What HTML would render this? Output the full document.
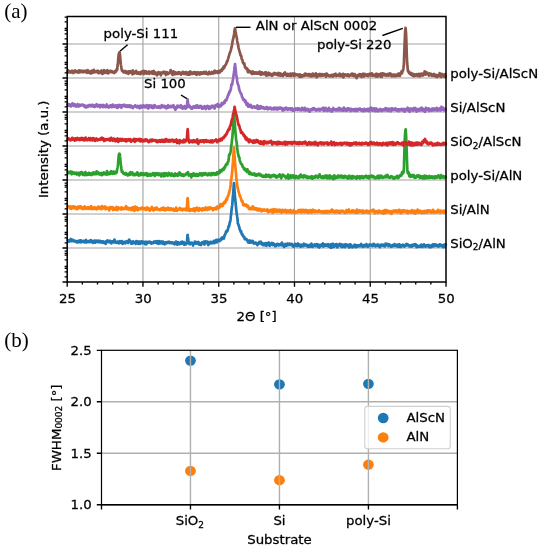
<!DOCTYPE html><html><head><meta charset="utf-8"><style>html,body{margin:0;padding:0;background:#fff;}svg{display:block;}svg text{stroke:#000;stroke-width:0.28px;}</style></head><body>
<svg width="540" height="550" viewBox="0 0 540 550" font-family="'DejaVu Sans', 'Liberation Sans', sans-serif" font-size="13.33">
<rect width="540" height="550" fill="#fff"/>
<text x="4.2" y="18.2" font-family="'Liberation Serif', 'DejaVu Serif', serif" font-size="21" style="stroke-width:0">(a)</text>
<text x="4.2" y="346.9" font-family="'Liberation Serif', 'DejaVu Serif', serif" font-size="21" style="stroke-width:0">(b)</text>
<path d="M142.96 16.5V282.0M218.72 16.5V282.0M294.48 16.5V282.0M370.24 16.5V282.0M67.2 248.00H446.0M67.2 214.00H446.0M67.2 180.00H446.0M67.2 146.00H446.0M67.2 112.00H446.0M67.2 78.00H446.0M67.2 44.00H446.0" stroke="#a2a2a2" stroke-width="1.1" fill="none"/>
<polyline points="67.2,241.2 67.4,241.1 67.6,240.7 67.8,240.4 68.0,240.1 68.1,240.5 68.3,241.3 68.5,241.5 68.7,241.2 68.9,240.9 69.1,241.2 69.3,241.6 69.5,240.9 69.7,240.8 69.9,241.0 70.0,240.9 70.2,240.7 70.4,239.6 70.6,239.6 70.8,239.0 71.0,239.7 71.2,239.7 71.4,240.7 71.6,240.8 71.7,241.3 71.9,240.1 72.1,239.8 72.3,239.9 72.5,241.0 72.7,240.6 72.9,240.4 73.1,240.0 73.3,240.3 73.5,240.9 73.6,241.0 73.8,241.4 74.0,241.3 74.2,241.4 74.4,241.4 74.6,241.0 74.8,241.3 75.0,240.8 75.2,240.8 75.3,241.4 75.5,241.3 75.7,241.6 75.9,241.1 76.1,241.5 76.3,242.0 76.5,242.3 76.7,242.0 76.9,241.2 77.0,241.1 77.2,241.6 77.4,241.8 77.6,241.6 77.8,241.9 78.0,242.3 78.2,242.0 78.4,241.8 78.6,241.0 78.8,241.3 78.9,240.7 79.1,240.7 79.3,240.6 79.5,241.5 79.7,242.2 79.9,241.7 80.1,241.0 80.3,240.8 80.5,240.5 80.6,240.7 80.8,240.3 81.0,241.8 81.2,242.3 81.4,242.2 81.6,241.5 81.8,241.1 82.0,241.9 82.2,241.9 82.4,241.8 82.5,241.3 82.7,241.5 82.9,241.5 83.1,240.9 83.3,240.9 83.5,240.8 83.7,241.8 83.9,242.1 84.1,242.3 84.2,242.1 84.4,241.7 84.6,242.2 84.8,241.9 85.0,242.3 85.2,241.3 85.4,241.4 85.6,240.4 85.8,240.1 86.0,239.8 86.1,240.2 86.3,241.2 86.5,242.3 86.7,242.3 86.9,242.0 87.1,241.1 87.3,241.7 87.5,241.9 87.7,241.7 87.8,241.8 88.0,242.1 88.2,241.7 88.4,241.4 88.6,241.2 88.8,241.2 89.0,241.3 89.2,241.0 89.4,241.8 89.5,241.8 89.7,242.2 89.9,241.6 90.1,241.4 90.3,240.5 90.5,240.3 90.7,240.5 90.9,240.5 91.1,241.3 91.3,240.4 91.4,241.7 91.6,240.9 91.8,242.0 92.0,241.8 92.2,241.5 92.4,241.7 92.6,242.2 92.8,242.9 93.0,242.2 93.1,241.5 93.3,241.1 93.5,241.7 93.7,241.6 93.9,242.0 94.1,241.2 94.3,241.1 94.5,240.6 94.7,241.5 94.9,241.7 95.0,242.7 95.2,242.1 95.4,241.9 95.6,241.4 95.8,241.1 96.0,241.4 96.2,241.4 96.4,241.5 96.6,240.9 96.7,240.7 96.9,241.6 97.1,241.9 97.3,241.8 97.5,241.2 97.7,242.1 97.9,242.0 98.1,241.7 98.3,240.8 98.5,240.7 98.6,241.1 98.8,241.4 99.0,242.2 99.2,241.6 99.4,241.8 99.6,241.5 99.8,241.8 100.0,241.1 100.2,240.8 100.3,241.5 100.5,241.7 100.7,242.4 100.9,241.8 101.1,241.8 101.3,241.5 101.5,241.8 101.7,241.8 101.9,242.0 102.0,241.7 102.2,242.4 102.4,242.7 102.6,242.9 102.8,242.1 103.0,241.3 103.2,241.5 103.4,242.2 103.6,242.7 103.8,242.5 103.9,242.5 104.1,242.9 104.3,243.1 104.5,242.5 104.7,242.8 104.9,241.9 105.1,242.5 105.3,242.0 105.5,242.9 105.6,243.4 105.8,243.8 106.0,242.9 106.2,241.4 106.4,241.1 106.6,241.2 106.8,241.9 107.0,241.9 107.2,241.7 107.4,240.7 107.5,240.5 107.7,241.2 107.9,242.0 108.1,242.0 108.3,241.6 108.5,241.0 108.7,240.9 108.9,240.9 109.1,240.8 109.2,241.1 109.4,241.5 109.6,242.4 109.8,241.8 110.0,241.5 110.2,240.9 110.4,241.0 110.6,241.3 110.8,241.4 111.0,242.0 111.1,242.0 111.3,243.3 111.5,242.5 111.7,242.7 111.9,241.8 112.1,242.4 112.3,241.4 112.5,241.3 112.7,241.6 112.8,242.2 113.0,242.4 113.2,242.0 113.4,242.5 113.6,242.5 113.8,241.7 114.0,240.9 114.2,240.0 114.4,239.6 114.5,239.6 114.7,241.1 114.9,242.5 115.1,242.2 115.3,241.3 115.5,241.7 115.7,242.3 115.9,242.7 116.1,242.2 116.3,242.2 116.4,242.5 116.6,242.8 116.8,242.9 117.0,242.1 117.2,242.1 117.4,241.7 117.6,242.6 117.8,241.8 118.0,242.1 118.1,241.6 118.3,241.6 118.5,242.4 118.7,243.0 118.9,243.4 119.1,243.0 119.3,242.5 119.5,241.6 119.7,241.4 119.9,241.2 120.0,242.4 120.2,241.8 120.4,241.7 120.6,241.6 120.8,242.6 121.0,242.8 121.2,242.9 121.4,243.1 121.6,242.7 121.7,242.5 121.9,241.1 122.1,242.0 122.3,242.6 122.5,243.8 122.7,243.4 122.9,243.0 123.1,242.7 123.3,242.3 123.5,242.2 123.6,242.1 123.8,242.9 124.0,243.2 124.2,243.2 124.4,242.3 124.6,241.8 124.8,242.5 125.0,243.0 125.2,243.3 125.3,242.4 125.5,241.7 125.7,241.7 125.9,242.2 126.1,242.5 126.3,242.5 126.5,242.0 126.7,242.2 126.9,241.6 127.1,241.6 127.2,241.2 127.4,242.3 127.6,242.1 127.8,242.7 128.0,242.9 128.2,243.0 128.4,242.3 128.6,241.4 128.8,241.0 128.9,240.1 129.1,239.7 129.3,240.4 129.5,240.9 129.7,241.2 129.9,240.5 130.1,241.3 130.3,241.2 130.5,241.4 130.6,241.9 130.8,242.1 131.0,243.1 131.2,243.2 131.4,243.7 131.6,243.5 131.8,243.6 132.0,243.4 132.2,243.0 132.4,241.5 132.5,241.6 132.7,242.5 132.9,243.5 133.1,243.1 133.3,242.1 133.5,241.5 133.7,242.0 133.9,242.3 134.1,242.6 134.2,242.6 134.4,242.6 134.6,242.5 134.8,242.4 135.0,242.5 135.2,242.8 135.4,243.5 135.6,243.8 135.8,243.6 136.0,242.1 136.1,242.0 136.3,241.1 136.5,241.2 136.7,241.4 136.9,242.6 137.1,243.1 137.3,242.0 137.5,241.6 137.7,241.4 137.8,242.4 138.0,243.5 138.2,243.9 138.4,243.3 138.6,241.8 138.8,241.7 139.0,242.0 139.2,242.0 139.4,242.1 139.6,241.6 139.7,242.6 139.9,243.0 140.1,244.0 140.3,243.3 140.5,243.1 140.7,242.6 140.9,242.6 141.1,242.2 141.3,241.7 141.4,241.3 141.6,241.8 141.8,242.3 142.0,243.0 142.2,243.1 142.4,242.4 142.6,242.0 142.8,241.6 143.0,242.5 143.1,242.7 143.3,243.1 143.5,243.0 143.7,242.7 143.9,241.8 144.1,242.1 144.3,242.8 144.5,242.4 144.7,242.6 144.9,242.7 145.0,244.1 145.2,243.4 145.4,243.0 145.6,241.9 145.8,243.2 146.0,243.2 146.2,244.4 146.4,243.0 146.6,243.2 146.7,241.8 146.9,241.9 147.1,242.2 147.3,242.4 147.5,243.1 147.7,242.8 147.9,242.9 148.1,242.2 148.3,241.9 148.5,242.3 148.6,242.3 148.8,242.1 149.0,242.0 149.2,241.8 149.4,241.6 149.6,241.7 149.8,242.6 150.0,242.5 150.2,242.5 150.3,241.8 150.5,242.1 150.7,242.4 150.9,242.5 151.1,243.6 151.3,242.9 151.5,243.3 151.7,242.5 151.9,242.5 152.1,242.6 152.2,242.7 152.4,243.2 152.6,243.0 152.8,242.6 153.0,242.3 153.2,242.3 153.4,243.2 153.6,242.9 153.8,242.8 153.9,241.7 154.1,242.3 154.3,241.9 154.5,241.9 154.7,241.6 154.9,242.5 155.1,242.6 155.3,242.2 155.5,241.4 155.6,241.6 155.8,242.2 156.0,242.2 156.2,242.4 156.4,242.4 156.6,242.5 156.8,243.0 157.0,242.3 157.2,242.1 157.4,241.1 157.5,242.4 157.7,242.7 157.9,243.7 158.1,242.8 158.3,243.0 158.5,243.0 158.7,243.8 158.9,243.3 159.1,242.6 159.2,241.3 159.4,241.2 159.6,242.2 159.8,243.0 160.0,243.2 160.2,242.3 160.4,241.7 160.6,242.8 160.8,242.2 161.0,242.5 161.1,241.5 161.3,243.1 161.5,242.5 161.7,242.8 161.9,241.7 162.1,241.7 162.3,242.5 162.5,243.5 162.7,243.7 162.8,242.8 163.0,241.6 163.2,241.6 163.4,242.0 163.6,242.7 163.8,242.9 164.0,242.4 164.2,242.4 164.4,242.4 164.6,243.5 164.7,244.3 164.9,244.3 165.1,243.4 165.3,242.6 165.5,242.4 165.7,242.4 165.9,242.4 166.1,242.2 166.3,242.8 166.4,242.8 166.6,243.3 166.8,243.0 167.0,242.7 167.2,242.2 167.4,242.2 167.6,242.3 167.8,242.8 168.0,242.9 168.2,242.5 168.3,242.5 168.5,241.9 168.7,242.2 168.9,242.1 169.1,241.7 169.3,242.1 169.5,242.3 169.7,243.1 169.9,242.9 170.0,242.6 170.2,242.3 170.4,242.4 170.6,242.3 170.8,242.7 171.0,242.3 171.2,242.7 171.4,242.7 171.6,243.2 171.7,242.9 171.9,243.1 172.1,242.4 172.3,242.8 172.5,242.7 172.7,243.5 172.9,243.5 173.1,243.1 173.3,242.9 173.5,243.0 173.6,243.5 173.8,243.7 174.0,242.7 174.2,242.8 174.4,243.2 174.6,244.3 174.8,244.2 175.0,243.0 175.2,243.0 175.3,242.8 175.5,242.4 175.7,242.1 175.9,241.6 176.1,242.1 176.3,241.7 176.5,242.9 176.7,243.3 176.9,243.7 177.1,243.9 177.2,244.7 177.4,244.6 177.6,243.7 177.8,242.5 178.0,242.2 178.2,242.5 178.4,243.2 178.6,243.6 178.8,243.8 178.9,243.3 179.1,243.2 179.3,243.1 179.5,243.7 179.7,244.2 179.9,244.1 180.1,243.7 180.3,243.4 180.5,242.8 180.7,242.2 180.8,242.3 181.0,242.7 181.2,243.6 181.4,242.6 181.6,242.4 181.8,242.0 182.0,242.4 182.2,241.6 182.4,241.7 182.5,242.5 182.7,243.6 182.9,243.5 183.1,243.1 183.3,243.3 183.5,242.3 183.7,242.3 183.9,242.2 184.1,243.7 184.2,244.5 184.4,244.7 184.6,244.6 184.8,244.0 185.0,243.8 185.2,243.5 185.4,243.3 185.6,243.4 185.8,244.5 186.0,244.4 186.1,244.0 186.3,243.2 186.5,243.7 186.7,243.3 186.9,242.9 187.1,240.0 187.3,237.6 187.5,235.0 187.7,234.9 187.8,236.2 188.0,237.6 188.2,239.2 188.4,240.8 188.6,242.2 188.8,242.3 189.0,242.7 189.2,243.2 189.4,244.1 189.6,243.5 189.7,243.7 189.9,243.4 190.1,244.1 190.3,243.2 190.5,243.0 190.7,242.6 190.9,242.7 191.1,243.3 191.3,243.4 191.4,243.3 191.6,243.0 191.8,242.7 192.0,243.5 192.2,243.2 192.4,243.2 192.6,243.3 192.8,244.6 193.0,245.6 193.2,245.1 193.3,244.2 193.5,244.0 193.7,243.9 193.9,243.4 194.1,242.8 194.3,243.1 194.5,243.1 194.7,242.4 194.9,241.5 195.0,242.2 195.2,242.6 195.4,243.1 195.6,242.9 195.8,243.5 196.0,243.4 196.2,243.6 196.4,242.9 196.6,242.9 196.7,242.2 196.9,243.1 197.1,243.3 197.3,243.4 197.5,242.7 197.7,242.6 197.9,243.3 198.1,242.7 198.3,242.4 198.5,241.9 198.6,243.7 198.8,244.5 199.0,244.6 199.2,243.9 199.4,244.3 199.6,244.3 199.8,243.8 200.0,243.4 200.2,243.7 200.3,244.2 200.5,243.4 200.7,244.1 200.9,244.5 201.1,245.0 201.3,244.4 201.5,242.8 201.7,242.8 201.9,242.4 202.1,243.5 202.2,243.5 202.4,243.4 202.6,242.5 202.8,242.4 203.0,242.2 203.2,242.8 203.4,242.3 203.6,242.5 203.8,241.7 203.9,242.4 204.1,242.7 204.3,244.2 204.5,244.5 204.7,244.4 204.9,243.1 205.1,241.8 205.3,241.3 205.5,241.9 205.7,242.3 205.8,241.9 206.0,242.3 206.2,241.6 206.4,242.6 206.6,242.3 206.8,242.9 207.0,242.7 207.2,242.5 207.4,242.3 207.5,241.6 207.7,241.8 207.9,242.9 208.1,244.5 208.3,245.0 208.5,244.5 208.7,243.4 208.9,243.4 209.1,243.0 209.2,243.3 209.4,242.5 209.6,242.6 209.8,242.4 210.0,242.5 210.2,241.9 210.4,241.9 210.6,242.9 210.8,243.4 211.0,243.4 211.1,242.6 211.3,242.9 211.5,242.5 211.7,242.2 211.9,242.3 212.1,242.8 212.3,242.9 212.5,243.2 212.7,242.7 212.8,242.7 213.0,241.8 213.2,242.7 213.4,241.8 213.6,241.7 213.8,240.8 214.0,241.9 214.2,242.4 214.4,243.2 214.6,242.2 214.7,242.2 214.9,241.4 215.1,241.8 215.3,241.6 215.5,241.3 215.7,240.7 215.9,240.2 216.1,239.9 216.3,240.5 216.4,240.8 216.6,241.5 216.8,242.4 217.0,242.1 217.2,241.2 217.4,240.1 217.6,239.8 217.8,239.8 218.0,240.3 218.2,240.3 218.3,239.9 218.5,239.9 218.7,240.1 218.9,241.0 219.1,240.7 219.3,240.9 219.5,240.6 219.7,241.0 219.9,240.8 220.0,240.9 220.2,240.4 220.4,239.5 220.6,239.1 220.8,238.7 221.0,239.3 221.2,238.6 221.4,239.4 221.6,239.3 221.8,239.3 221.9,237.8 222.1,237.5 222.3,237.9 222.5,238.2 222.7,238.2 222.9,237.7 223.1,238.1 223.3,237.5 223.5,237.6 223.6,237.5 223.8,238.6 224.0,237.9 224.2,237.1 224.4,235.3 224.6,235.8 224.8,235.2 225.0,235.0 225.2,234.3 225.3,234.0 225.5,233.5 225.7,233.0 225.9,232.1 226.1,231.6 226.3,231.2 226.5,231.8 226.7,231.9 226.9,231.0 227.1,230.4 227.2,230.4 227.4,230.9 227.6,230.6 227.8,229.4 228.0,228.9 228.2,228.1 228.4,227.4 228.6,226.2 228.8,226.4 228.9,226.2 229.1,226.3 229.3,224.8 229.5,224.2 229.7,222.7 229.9,222.0 230.1,221.7 230.3,221.2 230.5,219.9 230.7,217.7 230.8,216.1 231.0,215.3 231.2,213.6 231.4,211.4 231.6,209.3 231.8,207.8 232.0,206.6 232.2,205.2 232.4,203.3 232.5,201.4 232.7,198.5 232.9,196.4 233.1,194.2 233.3,192.1 233.5,189.1 233.7,185.9 233.9,183.1 234.1,183.4 234.3,186.3 234.4,188.9 234.6,192.0 234.8,194.5 235.0,196.8 235.2,198.8 235.4,201.2 235.6,203.1 235.8,204.9 236.0,206.7 236.1,208.7 236.3,210.4 236.5,212.0 236.7,213.5 236.9,214.9 237.1,216.5 237.3,217.2 237.5,219.3 237.7,221.2 237.8,223.4 238.0,223.8 238.2,224.1 238.4,224.2 238.6,225.1 238.8,226.1 239.0,226.3 239.2,227.4 239.4,227.4 239.6,229.1 239.7,229.4 239.9,229.7 240.1,229.8 240.3,230.5 240.5,231.2 240.7,231.8 240.9,231.7 241.1,231.2 241.3,231.7 241.4,232.6 241.6,233.9 241.8,233.9 242.0,234.5 242.2,234.6 242.4,234.6 242.6,234.4 242.8,235.5 243.0,235.5 243.2,236.4 243.3,236.0 243.5,236.4 243.7,236.8 243.9,237.3 244.1,237.5 244.3,237.0 244.5,237.7 244.7,239.0 244.9,239.2 245.0,239.2 245.2,239.1 245.4,239.2 245.6,239.3 245.8,239.1 246.0,239.3 246.2,239.0 246.4,239.1 246.6,239.4 246.8,239.5 246.9,239.4 247.1,240.0 247.3,240.5 247.5,241.2 247.7,241.3 247.9,241.6 248.1,242.3 248.3,241.6 248.5,241.8 248.6,240.8 248.8,242.0 249.0,242.5 249.2,241.9 249.4,240.8 249.6,240.4 249.8,241.7 250.0,242.5 250.2,242.2 250.3,242.2 250.5,242.2 250.7,242.3 250.9,242.6 251.1,241.4 251.3,241.8 251.5,241.0 251.7,242.4 251.9,242.1 252.1,242.2 252.2,242.0 252.4,241.8 252.6,241.8 252.8,241.0 253.0,241.5 253.2,242.1 253.4,243.3 253.6,243.3 253.8,243.5 253.9,243.2 254.1,243.2 254.3,243.1 254.5,243.5 254.7,243.5 254.9,243.2 255.1,242.7 255.3,242.9 255.5,242.6 255.7,243.2 255.8,243.0 256.0,243.6 256.2,242.9 256.4,243.2 256.6,243.2 256.8,243.4 257.0,244.2 257.2,244.2 257.4,245.2 257.5,244.7 257.7,244.3 257.9,243.4 258.1,243.2 258.3,243.5 258.5,243.7 258.7,243.5 258.9,242.7 259.1,242.6 259.3,241.8 259.4,242.7 259.6,242.5 259.8,243.2 260.0,243.0 260.2,243.4 260.4,243.1 260.6,242.5 260.8,241.9 261.0,241.7 261.1,242.0 261.3,243.2 261.5,243.6 261.7,244.4 261.9,243.1 262.1,243.7 262.3,243.3 262.5,243.9 262.7,244.0 262.9,244.9 263.0,245.1 263.2,244.9 263.4,243.7 263.6,243.9 263.8,243.7 264.0,244.5 264.2,244.3 264.4,245.2 264.6,244.0 264.7,243.9 264.9,243.5 265.1,244.2 265.3,244.0 265.5,243.5 265.7,243.1 265.9,243.5 266.1,244.7 266.3,245.8 266.4,245.3 266.6,243.8 266.8,243.2 267.0,244.1 267.2,244.1 267.4,244.0 267.6,244.0 267.8,244.7 268.0,244.9 268.2,244.0 268.3,243.0 268.5,242.9 268.7,242.4 268.9,243.4 269.1,243.4 269.3,244.6 269.5,245.1 269.7,245.9 269.9,245.2 270.0,244.8 270.2,244.8 270.4,245.0 270.6,244.2 270.8,243.6 271.0,243.3 271.2,244.3 271.4,243.4 271.6,243.6 271.8,242.8 271.9,243.8 272.1,244.3 272.3,244.6 272.5,244.6 272.7,245.0 272.9,244.0 273.1,244.1 273.3,243.3 273.5,244.3 273.6,244.4 273.8,244.3 274.0,244.0 274.2,244.2 274.4,244.8 274.6,244.8 274.8,245.3 275.0,246.2 275.2,245.8 275.4,245.1 275.5,245.2 275.7,246.2 275.9,246.1 276.1,245.0 276.3,244.4 276.5,244.2 276.7,244.1 276.9,244.6 277.1,244.6 277.2,244.6 277.4,243.8 277.6,243.9 277.8,243.8 278.0,244.2 278.2,244.7 278.4,245.2 278.6,245.5 278.8,245.2 278.9,245.1 279.1,244.8 279.3,244.6 279.5,244.9 279.7,244.5 279.9,245.2 280.1,244.9 280.3,245.0 280.5,244.2 280.7,243.9 280.8,244.3 281.0,244.2 281.2,245.0 281.4,244.6 281.6,244.0 281.8,243.2 282.0,242.6 282.2,243.6 282.4,244.4 282.5,245.5 282.7,245.0 282.9,244.2 283.1,244.7 283.3,245.4 283.5,245.8 283.7,245.4 283.9,246.4 284.1,246.9 284.3,246.5 284.4,245.6 284.6,245.4 284.8,245.0 285.0,244.4 285.2,244.2 285.4,244.0 285.6,244.5 285.8,244.5 286.0,245.9 286.1,245.6 286.3,245.5 286.5,244.4 286.7,245.0 286.9,245.5 287.1,245.4 287.3,244.8 287.5,243.7 287.7,243.5 287.9,244.1 288.0,244.8 288.2,244.8 288.4,244.4 288.6,244.4 288.8,245.0 289.0,244.9 289.2,244.8 289.4,243.8 289.6,243.6 289.7,244.4 289.9,244.2 290.1,244.6 290.3,244.0 290.5,244.8 290.7,244.6 290.9,244.5 291.1,244.6 291.3,245.0 291.4,244.2 291.6,244.1 291.8,243.8 292.0,244.4 292.2,244.5 292.4,245.2 292.6,245.8 292.8,245.5 293.0,245.6 293.2,245.7 293.3,246.5 293.5,246.7 293.7,246.1 293.9,245.5 294.1,245.3 294.3,244.8 294.5,244.9 294.7,244.4 294.9,244.8 295.0,243.9 295.2,243.8 295.4,244.0 295.6,245.1 295.8,245.9 296.0,245.9 296.2,245.4 296.4,244.6 296.6,244.9 296.8,244.8 296.9,245.5 297.1,246.0 297.3,246.1 297.5,245.2 297.7,244.1 297.9,243.5 298.1,243.6 298.3,244.6 298.5,245.3 298.6,245.2 298.8,244.9 299.0,245.3 299.2,245.8 299.4,245.3 299.6,244.6 299.8,244.9 300.0,245.4 300.2,246.1 300.4,246.5 300.5,246.7 300.7,246.8 300.9,246.6 301.1,245.4 301.3,244.8 301.5,244.6 301.7,245.1 301.9,245.6 302.1,245.3 302.2,245.1 302.4,245.3 302.6,245.7 302.8,246.2 303.0,246.0 303.2,246.2 303.4,246.2 303.6,244.8 303.8,244.0 303.9,243.7 304.1,244.3 304.3,244.7 304.5,245.4 304.7,245.6 304.9,245.1 305.1,245.4 305.3,245.5 305.5,245.4 305.7,244.6 305.8,245.0 306.0,245.3 306.2,245.5 306.4,245.1 306.6,245.0 306.8,244.8 307.0,245.3 307.2,245.4 307.4,245.5 307.5,245.1 307.7,246.6 307.9,246.2 308.1,246.8 308.3,245.6 308.5,245.8 308.7,245.6 308.9,246.0 309.1,246.6 309.3,246.4 309.4,245.8 309.6,245.0 309.8,245.1 310.0,245.6 310.2,246.4 310.4,246.4 310.6,246.6 310.8,246.6 311.0,246.5 311.1,245.4 311.3,244.3 311.5,243.6 311.7,244.9 311.9,245.1 312.1,246.2 312.3,245.8 312.5,246.9 312.7,246.8 312.9,246.5 313.0,245.7 313.2,245.3 313.4,245.4 313.6,245.3 313.8,245.2 314.0,245.9 314.2,245.3 314.4,245.5 314.6,244.4 314.7,245.2 314.9,245.5 315.1,245.8 315.3,246.1 315.5,245.0 315.7,245.5 315.9,245.0 316.1,245.9 316.3,245.5 316.5,244.7 316.6,244.1 316.8,244.1 317.0,245.9 317.2,246.3 317.4,246.4 317.6,245.1 317.8,245.6 318.0,246.2 318.2,246.9 318.3,246.2 318.5,244.7 318.7,245.1 318.9,246.3 319.1,247.3 319.3,247.5 319.5,246.6 319.7,245.8 319.9,245.9 320.0,245.1 320.2,245.4 320.4,245.0 320.6,245.9 320.8,246.2 321.0,246.2 321.2,245.5 321.4,244.8 321.6,244.6 321.8,244.7 321.9,244.6 322.1,244.1 322.3,244.2 322.5,243.9 322.7,243.9 322.9,243.4 323.1,244.3 323.3,245.0 323.5,246.6 323.6,245.9 323.8,245.4 324.0,244.9 324.2,245.5 324.4,245.7 324.6,246.0 324.8,246.0 325.0,245.6 325.2,244.3 325.4,244.6 325.5,245.2 325.7,245.2 325.9,244.6 326.1,244.7 326.3,245.6 326.5,245.7 326.7,245.7 326.9,245.7 327.1,245.2 327.2,244.8 327.4,244.8 327.6,245.3 327.8,244.5 328.0,244.2 328.2,244.8 328.4,246.4 328.6,245.6 328.8,246.4 329.0,245.2 329.1,246.6 329.3,246.0 329.5,246.9 329.7,246.5 329.9,245.5 330.1,245.3 330.3,245.0 330.5,244.4 330.7,245.3 330.8,245.9 331.0,247.8 331.2,246.2 331.4,246.5 331.6,246.4 331.8,247.5 332.0,246.9 332.2,245.7 332.4,244.9 332.5,244.0 332.7,243.7 332.9,243.9 333.1,244.4 333.3,245.1 333.5,245.0 333.7,246.2 333.9,246.9 334.1,246.9 334.3,246.6 334.4,245.7 334.6,245.6 334.8,245.4 335.0,245.2 335.2,245.3 335.4,244.3 335.6,244.9 335.8,245.7 336.0,246.0 336.1,246.0 336.3,244.9 336.5,244.7 336.7,244.1 336.9,245.1 337.1,246.6 337.3,247.4 337.5,246.4 337.7,245.7 337.9,245.4 338.0,246.0 338.2,245.9 338.4,246.1 338.6,246.0 338.8,245.7 339.0,245.4 339.2,244.4 339.4,244.4 339.6,244.0 339.7,244.7 339.9,244.4 340.1,245.1 340.3,245.4 340.5,245.2 340.7,244.8 340.9,244.2 341.1,245.1 341.3,246.2 341.5,247.0 341.6,246.5 341.8,246.4 342.0,245.4 342.2,246.2 342.4,245.2 342.6,244.7 342.8,245.2 343.0,246.2 343.2,246.9 343.3,245.8 343.5,245.1 343.7,245.6 343.9,244.8 344.1,244.6 344.3,244.8 344.5,245.5 344.7,246.3 344.9,246.2 345.0,247.1 345.2,246.3 345.4,246.4 345.6,244.5 345.8,244.3 346.0,244.7 346.2,245.2 346.4,245.9 346.6,245.3 346.8,245.3 346.9,244.9 347.1,244.7 347.3,245.0 347.5,245.4 347.7,245.9 347.9,245.9 348.1,245.2 348.3,245.0 348.5,245.2 348.6,246.1 348.8,247.1 349.0,247.5 349.2,247.0 349.4,245.8 349.6,245.1 349.8,244.7 350.0,244.3 350.2,244.5 350.4,244.7 350.5,245.5 350.7,245.5 350.9,245.6 351.1,244.8 351.3,245.6 351.5,245.9 351.7,247.2 351.9,246.9 352.1,247.3 352.2,246.4 352.4,246.4 352.6,246.9 352.8,246.5 353.0,246.7 353.2,246.3 353.4,247.0 353.6,246.8 353.8,246.6 354.0,246.1 354.1,246.0 354.3,245.0 354.5,245.0 354.7,244.6 354.9,244.9 355.1,245.3 355.3,245.7 355.5,245.2 355.7,246.0 355.8,246.3 356.0,247.3 356.2,246.2 356.4,245.7 356.6,245.6 356.8,245.9 357.0,245.2 357.2,245.3 357.4,246.4 357.6,246.3 357.7,246.5 357.9,245.3 358.1,246.1 358.3,246.3 358.5,245.6 358.7,245.7 358.9,245.7 359.1,246.2 359.3,245.9 359.4,245.3 359.6,245.2 359.8,246.1 360.0,245.6 360.2,246.2 360.4,245.0 360.6,245.7 360.8,245.2 361.0,244.6 361.1,244.3 361.3,243.9 361.5,244.9 361.7,245.6 361.9,245.5 362.1,245.3 362.3,245.2 362.5,245.8 362.7,246.9 362.9,246.4 363.0,246.0 363.2,245.3 363.4,245.7 363.6,246.5 363.8,246.5 364.0,246.0 364.2,245.5 364.4,245.3 364.6,246.1 364.7,246.2 364.9,245.9 365.1,244.8 365.3,245.2 365.5,245.9 365.7,246.1 365.9,245.5 366.1,245.2 366.3,244.5 366.5,244.2 366.6,244.6 366.8,245.1 367.0,245.9 367.2,246.0 367.4,246.6 367.6,246.4 367.8,246.8 368.0,246.8 368.2,246.6 368.3,246.0 368.5,245.9 368.7,245.7 368.9,245.4 369.1,245.1 369.3,244.6 369.5,244.5 369.7,244.5 369.9,245.2 370.1,244.5 370.2,244.5 370.4,244.6 370.6,245.4 370.8,245.1 371.0,245.4 371.2,244.8 371.4,245.2 371.6,245.5 371.8,245.7 371.9,245.6 372.1,245.5 372.3,245.6 372.5,245.7 372.7,245.4 372.9,246.0 373.1,245.1 373.3,244.7 373.5,243.8 373.6,244.3 373.8,244.2 374.0,244.3 374.2,244.9 374.4,244.9 374.6,245.4 374.8,245.4 375.0,245.5 375.2,245.5 375.4,246.0 375.5,246.5 375.7,246.1 375.9,245.4 376.1,244.8 376.3,245.2 376.5,245.7 376.7,245.7 376.9,245.5 377.1,245.6 377.2,245.7 377.4,245.9 377.6,245.0 377.8,244.8 378.0,244.5 378.2,245.9 378.4,246.1 378.6,246.1 378.8,244.9 379.0,245.0 379.1,245.5 379.3,245.9 379.5,246.8 379.7,246.6 379.9,247.2 380.1,246.4 380.3,246.6 380.5,245.3 380.7,245.1 380.8,244.9 381.0,245.4 381.2,244.5 381.4,244.9 381.6,244.8 381.8,245.6 382.0,245.1 382.2,245.2 382.4,245.5 382.6,245.1 382.7,244.8 382.9,244.7 383.1,245.3 383.3,245.6 383.5,245.2 383.7,244.8 383.9,244.9 384.1,245.7 384.3,245.6 384.4,246.3 384.6,246.1 384.8,246.4 385.0,246.1 385.2,245.1 385.4,244.5 385.6,243.6 385.8,244.1 386.0,244.7 386.1,245.0 386.3,245.2 386.5,244.5 386.7,244.9 386.9,244.2 387.1,244.9 387.3,244.5 387.5,244.6 387.7,244.3 387.9,244.0 388.0,244.5 388.2,245.4 388.4,246.1 388.6,245.6 388.8,245.0 389.0,244.4 389.2,245.0 389.4,244.5 389.6,245.4 389.7,245.0 389.9,245.6 390.1,245.2 390.3,245.8 390.5,246.3 390.7,246.6 390.9,246.2 391.1,246.6 391.3,246.7 391.5,246.6 391.6,246.7 391.8,246.2 392.0,246.3 392.2,245.3 392.4,245.1 392.6,245.4 392.8,245.2 393.0,245.6 393.2,245.4 393.3,246.1 393.5,244.9 393.7,244.7 393.9,244.8 394.1,245.5 394.3,245.6 394.5,244.2 394.7,244.9 394.9,244.5 395.1,245.9 395.2,244.9 395.4,245.4 395.6,245.0 395.8,246.1 396.0,245.4 396.2,245.2 396.4,245.9 396.6,245.9 396.8,245.9 396.9,244.8 397.1,244.7 397.3,245.5 397.5,246.4 397.7,246.5 397.9,245.3 398.1,245.0 398.3,245.8 398.5,246.9 398.6,246.9 398.8,246.1 399.0,245.6 399.2,244.5 399.4,244.3 399.6,244.8 399.8,245.1 400.0,246.7 400.2,246.3 400.4,246.3 400.5,245.7 400.7,246.4 400.9,246.9 401.1,246.0 401.3,245.4 401.5,245.8 401.7,246.1 401.9,245.6 402.1,245.5 402.2,245.7 402.4,245.6 402.6,245.0 402.8,244.6 403.0,245.2 403.2,245.4 403.4,246.2 403.6,246.4 403.8,245.7 404.0,245.4 404.1,245.5 404.3,246.3 404.5,246.6 404.7,246.0 404.9,245.4 405.1,245.3 405.3,245.1 405.5,244.6 405.7,244.6 405.8,244.8 406.0,245.6 406.2,244.5 406.4,244.3 406.6,243.9 406.8,244.3 407.0,245.1 407.2,244.6 407.4,245.1 407.6,244.4 407.7,244.9 407.9,244.9 408.1,245.4 408.3,245.2 408.5,245.7 408.7,245.3 408.9,246.1 409.1,245.4 409.3,246.4 409.4,246.1 409.6,246.4 409.8,245.5 410.0,246.2 410.2,245.4 410.4,245.6 410.6,245.9 410.8,246.4 411.0,246.6 411.2,246.7 411.3,246.7 411.5,246.3 411.7,245.7 411.9,245.0 412.1,245.9 412.3,246.1 412.5,246.3 412.7,245.6 412.9,245.1 413.0,245.4 413.2,245.2 413.4,245.4 413.6,244.5 413.8,244.7 414.0,244.3 414.2,245.1 414.4,245.4 414.6,245.1 414.7,245.4 414.9,245.2 415.1,245.5 415.3,244.6 415.5,244.2 415.7,244.6 415.9,244.8 416.1,245.3 416.3,245.6 416.5,246.5 416.6,247.2 416.8,246.6 417.0,245.7 417.2,245.4 417.4,245.7 417.6,246.6 417.8,246.2 418.0,246.6 418.2,246.5 418.3,246.8 418.5,246.5 418.7,246.3 418.9,246.1 419.1,245.9 419.3,246.2 419.5,245.9 419.7,246.5 419.9,246.1 420.1,246.7 420.2,245.9 420.4,245.9 420.6,246.3 420.8,246.2 421.0,245.8 421.2,244.6 421.4,244.6 421.6,246.1 421.8,246.5 421.9,247.0 422.1,245.6 422.3,245.7 422.5,245.6 422.7,246.8 422.9,246.3 423.1,246.3 423.3,245.7 423.5,245.5 423.7,245.3 423.8,245.0 424.0,244.4 424.2,244.7 424.4,245.1 424.6,245.9 424.8,245.0 425.0,245.4 425.2,245.8 425.4,246.8 425.5,246.7 425.7,246.4 425.9,246.3 426.1,245.6 426.3,245.8 426.5,245.4 426.7,245.5 426.9,246.0 427.1,246.1 427.2,246.0 427.4,245.4 427.6,245.5 427.8,245.2 428.0,245.1 428.2,245.0 428.4,245.1 428.6,245.3 428.8,245.0 429.0,246.1 429.1,246.8 429.3,247.2 429.5,246.3 429.7,246.7 429.9,246.6 430.1,246.6 430.3,245.8 430.5,245.8 430.7,246.5 430.8,246.3 431.0,247.1 431.2,246.1 431.4,246.4 431.6,245.1 431.8,246.2 432.0,245.8 432.2,246.2 432.4,245.8 432.6,246.5 432.7,246.0 432.9,245.5 433.1,244.3 433.3,244.9 433.5,245.0 433.7,245.4 433.9,245.1 434.1,245.0 434.3,244.8 434.4,245.3 434.6,246.1 434.8,245.6 435.0,245.3 435.2,244.5 435.4,245.6 435.6,245.2 435.8,245.3 436.0,244.7 436.2,245.4 436.3,245.5 436.5,245.9 436.7,245.7 436.9,245.6 437.1,245.0 437.3,245.1 437.5,245.3 437.7,245.9 437.9,246.1 438.0,246.5 438.2,246.1 438.4,245.3 438.6,245.4 438.8,246.5 439.0,246.5 439.2,245.4 439.4,244.5 439.6,244.6 439.7,244.4 439.9,244.7 440.1,244.4 440.3,244.5 440.5,244.9 440.7,245.2 440.9,245.7 441.1,245.5 441.3,246.2 441.5,246.1 441.6,245.8 441.8,245.1 442.0,246.0 442.2,246.3 442.4,246.1 442.6,245.4 442.8,245.4 443.0,246.1 443.2,246.9 443.3,247.2 443.5,246.7 443.7,245.9 443.9,244.8 444.1,245.1 444.3,245.2 444.5,246.9 444.7,246.9 444.9,245.9 445.1,244.4 445.2,244.4 445.4,244.8 445.6,244.7 445.8,244.5 446.0,245.0" fill="none" stroke="#1f77b4" stroke-width="2.7" stroke-linejoin="round"/>
<polyline points="67.2,207.4 67.4,207.0 67.6,207.2 67.8,207.1 68.0,207.2 68.1,206.3 68.3,206.2 68.5,206.7 68.7,206.6 68.9,206.9 69.1,206.9 69.3,207.5 69.5,207.6 69.7,206.8 69.9,207.6 70.0,208.0 70.2,208.5 70.4,207.2 70.6,206.3 70.8,206.6 71.0,208.1 71.2,208.7 71.4,208.8 71.6,207.8 71.7,207.6 71.9,207.1 72.1,207.5 72.3,207.0 72.5,207.4 72.7,207.8 72.9,207.9 73.1,207.0 73.3,206.5 73.5,206.8 73.6,206.3 73.8,206.5 74.0,206.9 74.2,207.7 74.4,208.3 74.6,208.3 74.8,208.2 75.0,207.3 75.2,206.8 75.3,206.8 75.5,206.9 75.7,207.1 75.9,207.3 76.1,207.8 76.3,208.5 76.5,209.0 76.7,208.5 76.9,208.4 77.0,208.6 77.2,208.4 77.4,209.0 77.6,208.0 77.8,207.9 78.0,206.5 78.2,206.7 78.4,207.1 78.6,208.3 78.8,208.2 78.9,208.0 79.1,207.2 79.3,207.2 79.5,206.6 79.7,206.8 79.9,206.4 80.1,207.0 80.3,207.0 80.5,207.4 80.6,207.0 80.8,206.3 81.0,207.4 81.2,207.3 81.4,208.6 81.6,208.0 81.8,208.5 82.0,207.3 82.2,207.5 82.4,208.4 82.5,208.5 82.7,207.9 82.9,207.6 83.1,208.2 83.3,209.2 83.5,208.5 83.7,208.6 83.9,207.2 84.1,208.4 84.2,207.8 84.4,207.4 84.6,206.4 84.8,206.7 85.0,208.5 85.2,208.4 85.4,208.5 85.6,207.9 85.8,208.7 86.0,208.7 86.1,208.9 86.3,208.5 86.5,208.4 86.7,208.0 86.9,207.7 87.1,207.5 87.3,208.0 87.5,207.4 87.7,208.3 87.8,208.2 88.0,208.7 88.2,207.9 88.4,207.4 88.6,207.6 88.8,208.3 89.0,208.5 89.2,208.8 89.4,208.2 89.5,208.2 89.7,207.1 89.9,207.6 90.1,207.6 90.3,208.1 90.5,208.3 90.7,208.5 90.9,207.5 91.1,207.0 91.3,206.1 91.4,207.8 91.6,208.8 91.8,209.2 92.0,208.8 92.2,207.6 92.4,208.0 92.6,208.3 92.8,208.9 93.0,208.4 93.1,208.8 93.3,207.8 93.5,208.4 93.7,208.2 93.9,208.9 94.1,208.4 94.3,207.6 94.5,207.1 94.7,207.4 94.9,208.3 95.0,207.9 95.2,208.1 95.4,207.9 95.6,208.7 95.8,208.7 96.0,209.1 96.2,209.1 96.4,209.2 96.6,208.8 96.7,209.4 96.9,208.2 97.1,208.5 97.3,207.6 97.5,208.3 97.7,207.4 97.9,206.7 98.1,206.6 98.3,206.8 98.5,207.8 98.6,207.3 98.8,208.2 99.0,208.2 99.2,208.7 99.4,207.8 99.6,207.3 99.8,206.9 100.0,207.0 100.2,207.3 100.3,207.8 100.5,207.4 100.7,207.3 100.9,207.0 101.1,207.7 101.3,208.6 101.5,209.2 101.7,209.0 101.9,207.5 102.0,206.7 102.2,206.1 102.4,207.1 102.6,207.4 102.8,208.1 103.0,207.5 103.2,207.9 103.4,208.5 103.6,208.5 103.8,208.3 103.9,207.3 104.1,208.0 104.3,207.7 104.5,207.6 104.7,206.6 104.9,206.5 105.1,207.2 105.3,208.9 105.5,209.0 105.6,209.3 105.8,208.3 106.0,208.2 106.2,207.7 106.4,207.5 106.6,207.7 106.8,208.6 107.0,207.9 107.2,208.4 107.4,207.7 107.5,208.3 107.7,208.2 107.9,208.4 108.1,208.7 108.3,208.8 108.5,208.8 108.7,207.8 108.9,208.3 109.1,209.0 109.2,210.3 109.4,210.1 109.6,208.5 109.8,208.0 110.0,207.2 110.2,207.6 110.4,208.1 110.6,208.1 110.8,208.3 111.0,207.0 111.1,207.3 111.3,207.4 111.5,207.9 111.7,207.7 111.9,208.5 112.1,208.3 112.3,208.1 112.5,207.0 112.7,208.0 112.8,209.4 113.0,209.9 113.2,209.0 113.4,207.9 113.6,208.3 113.8,208.2 114.0,209.0 114.2,209.2 114.4,209.6 114.5,209.2 114.7,209.0 114.9,209.6 115.1,208.9 115.3,209.1 115.5,208.2 115.7,208.4 115.9,207.9 116.1,208.0 116.3,207.9 116.4,207.1 116.6,206.8 116.8,207.9 117.0,209.4 117.2,210.1 117.4,210.0 117.6,208.9 117.8,208.6 118.0,208.2 118.1,208.0 118.3,207.6 118.5,207.5 118.7,207.9 118.9,207.8 119.1,208.0 119.3,208.0 119.5,208.9 119.7,208.7 119.9,208.7 120.0,208.3 120.2,208.3 120.4,208.1 120.6,207.9 120.8,208.3 121.0,208.9 121.2,209.6 121.4,208.5 121.6,208.1 121.7,207.4 121.9,208.2 122.1,208.1 122.3,208.1 122.5,208.4 122.7,208.7 122.9,208.4 123.1,208.6 123.3,209.0 123.5,209.2 123.6,209.0 123.8,208.3 124.0,209.0 124.2,208.6 124.4,208.5 124.6,207.9 124.8,207.7 125.0,208.1 125.2,208.3 125.3,208.7 125.5,208.4 125.7,206.7 125.9,206.7 126.1,206.2 126.3,207.8 126.5,208.3 126.7,209.2 126.9,209.0 127.1,208.4 127.2,208.2 127.4,208.2 127.6,208.0 127.8,207.7 128.0,208.4 128.2,208.7 128.4,209.5 128.6,208.9 128.8,208.9 128.9,208.4 129.1,208.7 129.3,209.1 129.5,209.2 129.7,208.7 129.9,208.1 130.1,208.7 130.3,208.8 130.5,209.1 130.6,209.0 130.8,209.6 131.0,209.9 131.2,209.1 131.4,209.7 131.6,209.6 131.8,210.0 132.0,208.9 132.2,208.2 132.4,207.4 132.5,207.6 132.7,208.4 132.9,208.9 133.1,208.2 133.3,207.4 133.5,207.4 133.7,207.2 133.9,208.3 134.1,208.9 134.2,210.8 134.4,210.8 134.6,210.0 134.8,208.4 135.0,206.5 135.2,206.5 135.4,206.8 135.6,208.8 135.8,209.3 136.0,209.6 136.1,209.3 136.3,209.3 136.5,209.7 136.7,209.1 136.9,208.7 137.1,207.4 137.3,208.6 137.5,209.4 137.7,210.3 137.8,209.1 138.0,208.6 138.2,208.2 138.4,208.7 138.6,208.6 138.8,208.9 139.0,208.7 139.2,209.2 139.4,209.0 139.6,209.1 139.7,208.7 139.9,208.4 140.1,208.9 140.3,208.8 140.5,209.1 140.7,208.6 140.9,208.1 141.1,208.3 141.3,208.1 141.4,209.0 141.6,208.8 141.8,208.5 142.0,207.8 142.2,207.4 142.4,207.8 142.6,207.7 142.8,208.2 143.0,208.5 143.1,209.2 143.3,208.7 143.5,208.9 143.7,208.4 143.9,208.6 144.1,208.7 144.3,209.1 144.5,208.9 144.7,208.2 144.9,208.2 145.0,208.6 145.2,208.9 145.4,208.5 145.6,208.6 145.8,209.8 146.0,210.0 146.2,209.9 146.4,209.0 146.6,208.1 146.7,208.0 146.9,207.5 147.1,209.2 147.3,209.1 147.5,209.0 147.7,208.3 147.9,208.5 148.1,208.6 148.3,208.7 148.5,208.0 148.6,208.2 148.8,208.5 149.0,210.0 149.2,210.4 149.4,210.2 149.6,209.8 149.8,210.0 150.0,210.6 150.2,210.5 150.3,210.1 150.5,209.4 150.7,209.1 150.9,209.2 151.1,209.2 151.3,208.8 151.5,207.8 151.7,207.4 151.9,206.9 152.1,207.8 152.2,208.1 152.4,208.3 152.6,208.5 152.8,208.9 153.0,209.7 153.2,210.1 153.4,210.5 153.6,210.0 153.8,209.7 153.9,209.1 154.1,209.8 154.3,209.8 154.5,209.3 154.7,208.8 154.9,208.1 155.1,208.0 155.3,208.3 155.5,208.0 155.6,207.9 155.8,208.2 156.0,208.8 156.2,209.4 156.4,208.3 156.6,208.0 156.8,207.6 157.0,208.4 157.2,208.5 157.4,209.2 157.5,209.1 157.7,209.4 157.9,209.0 158.1,209.4 158.3,209.1 158.5,209.6 158.7,209.5 158.9,209.8 159.1,209.3 159.2,209.4 159.4,209.7 159.6,210.1 159.8,210.1 160.0,210.0 160.2,209.7 160.4,210.0 160.6,209.7 160.8,208.7 161.0,208.7 161.1,208.8 161.3,209.2 161.5,208.5 161.7,208.1 161.9,209.5 162.1,209.8 162.3,209.5 162.5,208.9 162.7,208.5 162.8,210.0 163.0,209.3 163.2,208.5 163.4,207.7 163.6,208.0 163.8,208.8 164.0,207.9 164.2,208.2 164.4,209.1 164.6,209.2 164.7,209.5 164.9,208.6 165.1,210.4 165.3,210.1 165.5,210.3 165.7,209.7 165.9,209.8 166.1,209.6 166.3,209.4 166.4,209.0 166.6,208.5 166.8,209.0 167.0,209.1 167.2,209.6 167.4,208.9 167.6,208.4 167.8,208.1 168.0,207.7 168.2,208.1 168.3,208.8 168.5,209.5 168.7,209.5 168.9,209.7 169.1,209.5 169.3,209.2 169.5,209.1 169.7,208.4 169.9,209.3 170.0,209.4 170.2,209.9 170.4,208.8 170.6,208.7 170.8,208.3 171.0,209.2 171.2,209.1 171.4,209.1 171.6,209.2 171.7,209.6 171.9,209.7 172.1,209.8 172.3,209.3 172.5,209.5 172.7,209.0 172.9,208.8 173.1,208.8 173.3,208.7 173.5,209.6 173.6,210.5 173.8,210.4 174.0,210.5 174.2,209.8 174.4,210.1 174.6,209.8 174.8,209.9 175.0,210.8 175.2,210.5 175.3,209.9 175.5,209.4 175.7,209.1 175.9,209.5 176.1,207.7 176.3,208.3 176.5,208.8 176.7,210.4 176.9,210.4 177.1,210.8 177.2,210.4 177.4,210.4 177.6,209.4 177.8,209.2 178.0,209.3 178.2,209.8 178.4,209.4 178.6,209.1 178.8,208.8 178.9,209.0 179.1,209.1 179.3,209.0 179.5,208.7 179.7,208.0 179.9,208.9 180.1,209.0 180.3,209.5 180.5,209.0 180.7,210.0 180.8,209.3 181.0,208.9 181.2,208.7 181.4,209.6 181.6,209.5 181.8,208.9 182.0,209.0 182.2,209.8 182.4,210.4 182.5,209.7 182.7,209.4 182.9,209.3 183.1,209.9 183.3,209.2 183.5,209.2 183.7,208.8 183.9,208.9 184.1,208.9 184.2,209.0 184.4,209.3 184.6,209.4 184.8,208.8 185.0,208.9 185.2,208.9 185.4,209.7 185.6,210.2 185.8,209.4 186.0,208.7 186.1,208.3 186.3,209.0 186.5,210.4 186.7,209.9 186.9,207.9 187.1,204.7 187.3,201.0 187.5,198.3 187.7,198.2 187.8,199.6 188.0,203.0 188.2,205.2 188.4,208.4 188.6,209.7 188.8,210.6 189.0,209.6 189.2,208.9 189.4,209.0 189.6,210.1 189.7,210.9 189.9,210.4 190.1,209.8 190.3,209.3 190.5,209.8 190.7,210.1 190.9,210.6 191.1,210.1 191.3,210.2 191.4,210.2 191.6,210.4 191.8,209.4 192.0,209.4 192.2,210.1 192.4,210.3 192.6,210.1 192.8,209.5 193.0,210.1 193.2,210.5 193.3,209.4 193.5,209.2 193.7,208.4 193.9,208.7 194.1,208.8 194.3,209.2 194.5,209.9 194.7,211.0 194.9,211.4 195.0,211.4 195.2,209.7 195.4,209.0 195.6,208.3 195.8,208.4 196.0,208.2 196.2,208.4 196.4,208.5 196.6,208.6 196.7,208.2 196.9,207.7 197.1,208.4 197.3,209.0 197.5,210.0 197.7,210.3 197.9,210.1 198.1,210.0 198.3,208.9 198.5,210.0 198.6,210.2 198.8,210.8 199.0,209.3 199.2,208.9 199.4,208.2 199.6,208.4 199.8,208.5 200.0,209.4 200.2,209.5 200.3,209.6 200.5,209.1 200.7,209.4 200.9,208.8 201.1,208.9 201.3,208.9 201.5,208.7 201.7,209.9 201.9,209.4 202.1,210.7 202.2,209.4 202.4,209.9 202.6,208.6 202.8,208.4 203.0,208.2 203.2,209.1 203.4,209.1 203.6,209.5 203.8,208.9 203.9,209.5 204.1,209.1 204.3,209.7 204.5,208.9 204.7,209.4 204.9,209.4 205.1,210.0 205.3,208.8 205.5,207.8 205.7,207.4 205.8,208.1 206.0,208.7 206.2,208.8 206.4,208.3 206.6,209.1 206.8,209.4 207.0,209.4 207.2,209.3 207.4,209.6 207.5,209.9 207.7,209.0 207.9,208.1 208.1,207.6 208.3,207.6 208.5,208.2 208.7,208.9 208.9,209.3 209.1,209.5 209.2,209.4 209.4,208.7 209.6,207.7 209.8,207.3 210.0,207.3 210.2,208.0 210.4,208.1 210.6,207.9 210.8,207.7 211.0,207.8 211.1,208.3 211.3,208.5 211.5,208.7 211.7,208.6 211.9,208.4 212.1,208.2 212.3,209.1 212.5,209.2 212.7,209.6 212.8,209.4 213.0,210.3 213.2,209.4 213.4,209.7 213.6,209.0 213.8,209.3 214.0,208.3 214.2,208.4 214.4,208.5 214.6,208.5 214.7,208.8 214.9,208.4 215.1,208.0 215.3,207.8 215.5,208.3 215.7,209.2 215.9,208.4 216.1,208.5 216.3,208.2 216.4,209.3 216.6,208.3 216.8,208.1 217.0,207.2 217.2,207.0 217.4,206.5 217.6,207.1 217.8,207.5 218.0,207.4 218.2,207.3 218.3,207.8 218.5,208.5 218.7,207.7 218.9,207.2 219.1,207.1 219.3,207.1 219.5,206.7 219.7,206.5 219.9,207.4 220.0,207.1 220.2,205.5 220.4,204.1 220.6,204.1 220.8,205.0 221.0,205.8 221.2,206.0 221.4,205.7 221.6,205.3 221.8,204.8 221.9,205.0 222.1,204.5 222.3,205.8 222.5,206.0 222.7,205.7 222.9,204.0 223.1,203.4 223.3,203.0 223.5,203.0 223.6,202.8 223.8,203.7 224.0,203.7 224.2,203.4 224.4,202.3 224.6,201.7 224.8,201.8 225.0,201.9 225.2,202.6 225.3,202.0 225.5,202.2 225.7,201.5 225.9,201.4 226.1,199.7 226.3,198.7 226.5,198.6 226.7,199.6 226.9,199.8 227.1,199.4 227.2,198.2 227.4,197.5 227.6,196.5 227.8,196.6 228.0,196.4 228.2,196.0 228.4,194.9 228.6,194.4 228.8,194.0 228.9,193.1 229.1,192.8 229.3,192.0 229.5,191.5 229.7,190.5 229.9,189.9 230.1,188.9 230.3,187.6 230.5,185.7 230.7,184.4 230.8,182.1 231.0,181.5 231.2,179.6 231.4,179.0 231.6,176.6 231.8,175.1 232.0,173.0 232.2,171.4 232.4,169.6 232.5,167.7 232.7,165.2 232.9,162.6 233.1,159.4 233.3,156.7 233.5,153.7 233.7,150.7 233.9,147.5 234.1,148.0 234.3,151.2 234.4,154.3 234.6,157.0 234.8,159.5 235.0,162.2 235.2,164.5 235.4,167.0 235.6,169.6 235.8,171.5 236.0,173.5 236.1,175.0 236.3,177.1 236.5,179.9 236.7,180.4 236.9,183.0 237.1,184.0 237.3,186.6 237.5,187.1 237.7,187.7 237.8,188.0 238.0,189.3 238.2,189.7 238.4,190.8 238.6,191.7 238.8,192.4 239.0,193.1 239.2,193.5 239.4,194.1 239.6,195.3 239.7,195.9 239.9,196.4 240.1,196.4 240.3,196.4 240.5,197.2 240.7,197.7 240.9,198.1 241.1,199.2 241.3,199.3 241.4,200.5 241.6,200.5 241.8,201.5 242.0,201.3 242.2,201.5 242.4,201.0 242.6,201.8 242.8,202.7 243.0,204.4 243.2,205.0 243.3,205.0 243.5,204.3 243.7,204.1 243.9,204.2 244.1,205.1 244.3,205.4 244.5,205.2 244.7,204.4 244.9,204.6 245.0,205.2 245.2,205.6 245.4,205.7 245.6,205.6 245.8,205.8 246.0,205.2 246.2,204.7 246.4,205.4 246.6,205.2 246.8,205.9 246.9,205.4 247.1,206.3 247.3,206.7 247.5,207.1 247.7,206.2 247.9,206.3 248.1,205.7 248.3,206.7 248.5,207.0 248.6,207.7 248.8,208.5 249.0,208.7 249.2,209.0 249.4,208.3 249.6,208.1 249.8,208.3 250.0,208.8 250.2,208.4 250.3,208.5 250.5,208.3 250.7,209.3 250.9,209.1 251.1,208.4 251.3,207.6 251.5,208.2 251.7,208.9 251.9,208.9 252.1,208.3 252.2,208.1 252.4,207.9 252.6,206.8 252.8,206.3 253.0,207.3 253.2,208.3 253.4,208.9 253.6,209.0 253.8,209.3 253.9,208.5 254.1,208.3 254.3,207.7 254.5,208.1 254.7,208.1 254.9,208.4 255.1,208.8 255.3,208.5 255.5,208.4 255.7,209.4 255.8,209.6 256.0,209.1 256.2,208.4 256.4,209.1 256.6,210.1 256.8,209.5 257.0,209.7 257.2,209.2 257.4,209.2 257.5,208.5 257.7,208.8 257.9,209.6 258.1,210.2 258.3,210.3 258.5,210.4 258.7,210.2 258.9,210.6 259.1,209.6 259.3,208.9 259.4,208.9 259.6,208.9 259.8,209.5 260.0,209.1 260.2,209.5 260.4,209.5 260.6,210.1 260.8,209.2 261.0,209.8 261.1,210.2 261.3,211.4 261.5,211.0 261.7,210.3 261.9,211.1 262.1,210.6 262.3,210.4 262.5,209.5 262.7,210.3 262.9,210.3 263.0,210.7 263.2,210.3 263.4,210.3 263.6,209.7 263.8,209.6 264.0,209.5 264.2,209.8 264.4,209.6 264.6,210.3 264.7,210.3 264.9,210.3 265.1,210.1 265.3,209.8 265.5,210.6 265.7,210.2 265.9,210.6 266.1,210.5 266.3,210.2 266.4,210.2 266.6,211.0 266.8,210.3 267.0,210.3 267.2,209.6 267.4,210.1 267.6,209.5 267.8,210.3 268.0,210.6 268.2,212.1 268.3,211.4 268.5,211.6 268.7,210.9 268.9,211.0 269.1,211.4 269.3,211.4 269.5,211.2 269.7,210.8 269.9,211.2 270.0,211.5 270.2,211.0 270.4,210.2 270.6,210.0 270.8,210.1 271.0,210.2 271.2,209.7 271.4,209.9 271.6,210.2 271.8,211.1 271.9,211.2 272.1,211.9 272.3,211.5 272.5,212.8 272.7,212.4 272.9,212.6 273.1,211.0 273.3,209.4 273.5,209.1 273.6,209.4 273.8,211.5 274.0,211.0 274.2,211.7 274.4,210.8 274.6,211.7 274.8,209.8 275.0,210.0 275.2,209.5 275.4,210.9 275.5,210.9 275.7,210.5 275.9,210.7 276.1,210.9 276.3,211.7 276.5,211.7 276.7,211.9 276.9,211.6 277.1,210.6 277.2,209.6 277.4,210.1 277.6,211.0 277.8,211.7 278.0,210.9 278.2,210.6 278.4,210.6 278.6,210.7 278.8,210.4 278.9,211.3 279.1,211.5 279.3,211.6 279.5,210.1 279.7,209.7 279.9,210.3 280.1,211.1 280.3,211.4 280.5,211.1 280.7,210.6 280.8,210.3 281.0,210.8 281.2,211.1 281.4,212.7 281.6,211.8 281.8,211.6 282.0,210.9 282.2,211.1 282.4,210.6 282.5,209.8 282.7,209.9 282.9,210.7 283.1,211.0 283.3,211.4 283.5,211.7 283.7,211.9 283.9,211.5 284.1,211.0 284.3,211.1 284.4,211.5 284.6,211.6 284.8,211.6 285.0,211.0 285.2,210.4 285.4,209.8 285.6,210.2 285.8,211.0 286.0,212.2 286.1,211.9 286.3,212.1 286.5,211.9 286.7,212.4 286.9,211.7 287.1,211.1 287.3,210.7 287.5,210.5 287.7,210.8 287.9,211.2 288.0,211.4 288.2,212.1 288.4,211.5 288.6,211.7 288.8,210.7 289.0,210.5 289.2,210.8 289.4,210.9 289.6,211.9 289.7,212.0 289.9,212.3 290.1,211.4 290.3,210.6 290.5,210.3 290.7,210.0 290.9,211.1 291.1,211.1 291.3,212.2 291.4,212.1 291.6,212.5 291.8,211.9 292.0,211.6 292.2,211.6 292.4,211.9 292.6,211.5 292.8,211.4 293.0,212.1 293.2,212.4 293.3,212.1 293.5,210.7 293.7,210.1 293.9,210.7 294.1,211.0 294.3,211.8 294.5,212.1 294.7,213.1 294.9,212.6 295.0,212.3 295.2,211.5 295.4,212.0 295.6,211.8 295.8,211.5 296.0,212.0 296.2,212.1 296.4,212.3 296.6,212.1 296.8,212.2 296.9,212.3 297.1,211.9 297.3,212.3 297.5,212.3 297.7,212.1 297.9,211.0 298.1,210.6 298.3,210.2 298.5,210.6 298.6,210.9 298.8,210.5 299.0,210.4 299.2,210.6 299.4,211.6 299.6,211.2 299.8,211.4 300.0,211.1 300.2,210.9 300.4,209.9 300.5,210.2 300.7,211.2 300.9,212.2 301.1,212.3 301.3,211.3 301.5,210.5 301.7,210.1 301.9,210.5 302.1,210.0 302.2,210.5 302.4,210.8 302.6,211.5 302.8,211.7 303.0,211.0 303.2,210.4 303.4,210.0 303.6,210.9 303.8,211.9 303.9,212.0 304.1,212.0 304.3,211.5 304.5,212.3 304.7,212.0 304.9,212.0 305.1,211.7 305.3,211.1 305.5,210.9 305.7,209.9 305.8,210.4 306.0,210.8 306.2,211.4 306.4,211.1 306.6,211.7 306.8,211.6 307.0,211.4 307.2,211.4 307.4,212.2 307.5,212.6 307.7,211.3 307.9,210.5 308.1,210.6 308.3,211.4 308.5,212.3 308.7,211.4 308.9,211.7 309.1,210.8 309.3,211.9 309.4,211.6 309.6,212.3 309.8,211.5 310.0,210.9 310.2,210.0 310.4,210.0 310.6,210.2 310.8,211.2 311.0,212.0 311.1,212.6 311.3,211.6 311.5,211.0 311.7,210.6 311.9,211.7 312.1,211.9 312.3,212.4 312.5,211.6 312.7,210.6 312.9,210.0 313.0,209.7 313.2,210.8 313.4,211.1 313.6,211.3 313.8,210.9 314.0,211.6 314.2,211.5 314.4,211.3 314.6,210.5 314.7,210.6 314.9,210.8 315.1,211.2 315.3,212.2 315.5,211.6 315.7,211.4 315.9,210.7 316.1,211.4 316.3,211.3 316.5,211.2 316.6,211.7 316.8,211.5 317.0,211.6 317.2,211.2 317.4,211.5 317.6,211.4 317.8,211.9 318.0,211.8 318.2,212.0 318.3,211.5 318.5,211.1 318.7,210.7 318.9,210.2 319.1,210.8 319.3,210.8 319.5,210.8 319.7,210.8 319.9,211.4 320.0,211.1 320.2,211.7 320.4,211.5 320.6,212.2 320.8,211.9 321.0,211.9 321.2,211.7 321.4,212.2 321.6,211.7 321.8,211.9 321.9,211.4 322.1,211.4 322.3,211.4 322.5,211.2 322.7,212.7 322.9,212.3 323.1,212.1 323.3,211.4 323.5,211.8 323.6,211.3 323.8,211.2 324.0,211.2 324.2,211.9 324.4,212.2 324.6,212.6 324.8,212.6 325.0,212.3 325.2,211.3 325.4,211.1 325.5,211.1 325.7,211.4 325.9,211.5 326.1,211.0 326.3,211.9 326.5,212.8 326.7,212.9 326.9,212.5 327.1,211.4 327.2,212.1 327.4,212.1 327.6,212.3 327.8,211.6 328.0,211.5 328.2,211.0 328.4,211.4 328.6,211.1 328.8,211.7 329.0,211.5 329.1,212.3 329.3,212.0 329.5,212.4 329.7,211.6 329.9,211.8 330.1,211.3 330.3,211.8 330.5,211.5 330.7,212.0 330.8,211.1 331.0,211.2 331.2,210.1 331.4,211.5 331.6,210.5 331.8,210.8 332.0,209.5 332.2,211.1 332.4,211.0 332.5,211.7 332.7,210.8 332.9,210.6 333.1,210.4 333.3,210.9 333.5,211.6 333.7,212.1 333.9,211.7 334.1,211.8 334.3,211.2 334.4,211.5 334.6,212.3 334.8,212.7 335.0,212.6 335.2,211.5 335.4,211.0 335.6,211.6 335.8,211.4 336.0,211.3 336.1,210.6 336.3,210.9 336.5,212.1 336.7,211.2 336.9,211.5 337.1,211.0 337.3,211.5 337.5,211.1 337.7,211.0 337.9,212.1 338.0,212.0 338.2,211.2 338.4,210.9 338.6,211.9 338.8,212.5 339.0,211.1 339.2,211.1 339.4,211.1 339.6,212.6 339.7,211.9 339.9,211.8 340.1,211.2 340.3,211.8 340.5,212.6 340.7,211.9 340.9,210.8 341.1,211.0 341.3,211.7 341.5,211.6 341.6,210.8 341.8,210.9 342.0,211.4 342.2,211.2 342.4,211.2 342.6,211.0 342.8,211.4 343.0,211.1 343.2,211.2 343.3,211.0 343.5,211.9 343.7,212.2 343.9,212.2 344.1,211.9 344.3,211.9 344.5,212.4 344.7,212.4 344.9,213.0 345.0,213.1 345.2,212.9 345.4,211.9 345.6,211.7 345.8,212.0 346.0,212.1 346.2,211.1 346.4,210.1 346.6,210.3 346.8,211.2 346.9,212.4 347.1,211.7 347.3,211.8 347.5,211.2 347.7,211.9 347.9,211.7 348.1,211.5 348.3,211.1 348.5,210.0 348.6,210.0 348.8,209.5 349.0,210.6 349.2,211.0 349.4,212.2 349.6,212.1 349.8,211.8 350.0,211.6 350.2,211.3 350.4,211.8 350.5,211.8 350.7,211.5 350.9,211.3 351.1,211.1 351.3,211.4 351.5,211.8 351.7,212.5 351.9,212.5 352.1,212.0 352.2,210.3 352.4,210.4 352.6,210.3 352.8,210.4 353.0,210.5 353.2,211.0 353.4,211.6 353.6,211.3 353.8,210.7 354.0,211.3 354.1,210.8 354.3,211.1 354.5,211.6 354.7,212.3 354.9,212.6 355.1,211.7 355.3,211.2 355.5,211.0 355.7,211.2 355.8,211.3 356.0,211.4 356.2,211.8 356.4,212.7 356.6,211.9 356.8,210.9 357.0,209.7 357.2,210.9 357.4,211.6 357.6,212.6 357.7,211.7 357.9,211.0 358.1,210.7 358.3,211.1 358.5,211.3 358.7,211.3 358.9,211.5 359.1,212.0 359.3,211.5 359.4,210.3 359.6,210.1 359.8,210.6 360.0,211.4 360.2,211.3 360.4,211.0 360.6,211.4 360.8,211.5 361.0,211.9 361.1,211.2 361.3,210.9 361.5,210.9 361.7,210.9 361.9,210.6 362.1,210.4 362.3,211.4 362.5,212.0 362.7,212.8 362.9,212.2 363.0,212.0 363.2,210.8 363.4,210.6 363.6,211.3 363.8,212.1 364.0,212.6 364.2,212.3 364.4,212.2 364.6,211.8 364.7,211.5 364.9,211.8 365.1,212.1 365.3,212.3 365.5,212.0 365.7,211.5 365.9,211.2 366.1,210.7 366.3,211.5 366.5,210.7 366.6,211.0 366.8,211.6 367.0,212.3 367.2,212.0 367.4,210.9 367.6,211.6 367.8,212.0 368.0,212.3 368.2,211.8 368.3,211.7 368.5,212.8 368.7,212.8 368.9,212.7 369.1,211.1 369.3,211.3 369.5,211.7 369.7,212.2 369.9,212.1 370.1,211.3 370.2,211.2 370.4,211.0 370.6,211.5 370.8,210.7 371.0,210.5 371.2,210.4 371.4,211.0 371.6,210.6 371.8,210.9 371.9,211.0 372.1,211.2 372.3,210.9 372.5,210.4 372.7,211.3 372.9,210.5 373.1,210.7 373.3,209.6 373.5,210.5 373.6,211.0 373.8,211.5 374.0,211.7 374.2,211.0 374.4,212.1 374.6,212.4 374.8,213.3 375.0,211.9 375.2,211.0 375.4,211.0 375.5,211.5 375.7,211.8 375.9,211.5 376.1,211.1 376.3,211.5 376.5,211.4 376.7,212.1 376.9,211.5 377.1,211.7 377.2,211.2 377.4,211.9 377.6,212.2 377.8,212.9 378.0,212.7 378.2,212.5 378.4,210.9 378.6,211.0 378.8,210.6 379.0,211.8 379.1,211.4 379.3,210.9 379.5,210.6 379.7,211.0 379.9,212.2 380.1,212.2 380.3,211.5 380.5,211.5 380.7,211.4 380.8,212.7 381.0,212.1 381.2,212.1 381.4,211.6 381.6,212.3 381.8,212.1 382.0,212.4 382.2,211.5 382.4,212.8 382.6,211.9 382.7,211.4 382.9,210.9 383.1,211.5 383.3,213.1 383.5,213.6 383.7,213.5 383.9,212.5 384.1,211.5 384.3,211.1 384.4,210.9 384.6,211.0 384.8,210.0 385.0,210.4 385.2,210.5 385.4,212.7 385.6,213.0 385.8,212.8 386.0,211.9 386.1,211.1 386.3,211.0 386.5,210.0 386.7,211.1 386.9,211.6 387.1,211.9 387.3,211.3 387.5,211.4 387.7,212.2 387.9,212.4 388.0,211.6 388.2,211.1 388.4,211.0 388.6,211.7 388.8,211.6 389.0,211.1 389.2,211.2 389.4,211.2 389.6,212.1 389.7,211.7 389.9,212.5 390.1,212.8 390.3,213.0 390.5,213.0 390.7,211.8 390.9,211.2 391.1,211.2 391.3,212.2 391.5,213.1 391.6,213.8 391.8,213.3 392.0,212.8 392.2,212.2 392.4,212.1 392.6,212.0 392.8,211.1 393.0,211.5 393.2,211.1 393.3,211.8 393.5,210.7 393.7,211.7 393.9,211.0 394.1,212.0 394.3,210.8 394.5,211.1 394.7,211.2 394.9,211.5 395.1,211.8 395.2,211.0 395.4,210.4 395.6,210.5 395.8,210.9 396.0,211.4 396.2,211.5 396.4,211.0 396.6,211.0 396.8,210.8 396.9,210.8 397.1,212.3 397.3,211.6 397.5,212.2 397.7,211.6 397.9,211.5 398.1,210.4 398.3,210.2 398.5,210.9 398.6,211.8 398.8,212.0 399.0,212.1 399.2,211.4 399.4,209.8 399.6,210.0 399.8,210.1 400.0,211.4 400.2,211.4 400.4,211.2 400.5,211.8 400.7,212.2 400.9,213.2 401.1,211.9 401.3,211.3 401.5,210.6 401.7,211.0 401.9,210.7 402.1,211.1 402.2,211.4 402.4,212.0 402.6,211.6 402.8,212.1 403.0,212.0 403.2,211.0 403.4,210.2 403.6,210.1 403.8,211.7 404.0,211.8 404.1,211.8 404.3,211.0 404.5,211.5 404.7,211.4 404.9,211.4 405.1,210.8 405.3,211.2 405.5,211.3 405.7,210.9 405.8,210.9 406.0,210.8 406.2,211.7 406.4,211.6 406.6,212.4 406.8,212.7 407.0,212.3 407.2,211.7 407.4,210.7 407.6,211.7 407.7,211.9 407.9,213.1 408.1,212.2 408.3,211.2 408.5,211.2 408.7,211.4 408.9,212.3 409.1,211.7 409.3,211.9 409.4,212.1 409.6,211.4 409.8,211.6 410.0,211.1 410.2,211.6 410.4,211.9 410.6,212.5 410.8,212.6 411.0,211.0 411.2,210.7 411.3,211.1 411.5,211.8 411.7,211.2 411.9,210.7 412.1,210.2 412.3,210.8 412.5,211.5 412.7,212.5 412.9,212.1 413.0,211.8 413.2,211.6 413.4,211.7 413.6,211.5 413.8,212.2 414.0,212.5 414.2,213.0 414.4,211.9 414.6,211.8 414.7,210.7 414.9,210.8 415.1,211.3 415.3,213.0 415.5,213.5 415.7,213.3 415.9,212.4 416.1,211.6 416.3,211.3 416.5,211.5 416.6,211.4 416.8,211.9 417.0,211.2 417.2,210.8 417.4,209.9 417.6,209.6 417.8,209.8 418.0,210.8 418.2,211.4 418.3,212.1 418.5,212.1 418.7,212.7 418.9,212.4 419.1,212.5 419.3,212.1 419.5,212.3 419.7,211.9 419.9,211.2 420.1,210.8 420.2,210.6 420.4,211.5 420.6,211.6 420.8,211.6 421.0,211.8 421.2,212.6 421.4,212.9 421.6,213.1 421.8,212.3 421.9,211.8 422.1,211.4 422.3,211.5 422.5,211.4 422.7,211.9 422.9,212.0 423.1,211.8 423.3,211.3 423.5,212.2 423.7,212.6 423.8,212.9 424.0,212.0 424.2,211.7 424.4,210.9 424.6,211.0 424.8,212.0 425.0,211.8 425.2,212.6 425.4,211.4 425.5,211.8 425.7,211.4 425.9,212.1 426.1,212.3 426.3,211.3 426.5,211.1 426.7,210.6 426.9,212.4 427.1,212.2 427.2,212.7 427.4,211.1 427.6,211.0 427.8,210.3 428.0,211.2 428.2,211.3 428.4,212.1 428.6,211.4 428.8,211.3 429.0,211.6 429.1,211.5 429.3,210.9 429.5,210.6 429.7,210.5 429.9,211.1 430.1,211.3 430.3,211.4 430.5,212.0 430.7,211.3 430.8,212.3 431.0,212.5 431.2,212.6 431.4,211.9 431.6,210.9 431.8,211.2 432.0,211.8 432.2,211.5 432.4,211.8 432.6,210.8 432.7,211.0 432.9,209.9 433.1,211.3 433.3,211.7 433.5,212.6 433.7,211.4 433.9,211.9 434.1,210.8 434.3,211.1 434.4,211.6 434.6,212.4 434.8,212.4 435.0,211.7 435.2,211.5 435.4,211.5 435.6,211.7 435.8,212.1 436.0,212.2 436.2,211.7 436.3,211.7 436.5,211.6 436.7,212.4 436.9,212.5 437.1,212.4 437.3,210.7 437.5,210.7 437.7,211.2 437.9,211.8 438.0,210.6 438.2,209.8 438.4,210.6 438.6,211.0 438.8,211.3 439.0,211.0 439.2,212.0 439.4,212.2 439.6,212.1 439.7,211.3 439.9,212.0 440.1,212.5 440.3,212.7 440.5,211.4 440.7,210.6 440.9,210.9 441.1,211.2 441.3,211.9 441.5,211.8 441.6,212.3 441.8,212.1 442.0,212.2 442.2,211.7 442.4,211.3 442.6,212.1 442.8,211.9 443.0,211.9 443.2,211.3 443.3,211.8 443.5,211.6 443.7,210.6 443.9,210.9 444.1,211.7 444.3,212.9 444.5,212.7 444.7,212.7 444.9,211.6 445.1,211.7 445.2,210.9 445.4,211.4 445.6,211.7 445.8,212.4 446.0,212.4" fill="none" stroke="#ff7f0e" stroke-width="2.7" stroke-linejoin="round"/>
<polyline points="67.2,173.0 67.4,172.8 67.6,172.8 67.8,172.2 68.0,171.8 68.1,172.2 68.3,172.4 68.5,173.0 68.7,173.2 68.9,173.0 69.1,173.1 69.3,172.2 69.5,172.4 69.7,172.0 69.9,172.4 70.0,172.4 70.2,172.8 70.4,172.3 70.6,171.7 70.8,171.5 71.0,172.4 71.2,173.3 71.4,173.8 71.6,174.1 71.7,174.2 71.9,173.8 72.1,172.8 72.3,172.2 72.5,172.0 72.7,172.6 72.9,173.1 73.1,173.3 73.3,173.1 73.5,173.3 73.6,173.4 73.8,173.6 74.0,173.4 74.2,173.1 74.4,172.6 74.6,172.6 74.8,173.1 75.0,173.4 75.2,173.0 75.3,173.8 75.5,173.6 75.7,173.7 75.9,172.8 76.1,172.7 76.3,172.8 76.5,173.5 76.7,174.4 76.9,174.6 77.0,174.1 77.2,173.8 77.4,173.9 77.6,173.6 77.8,173.4 78.0,173.0 78.2,173.4 78.4,173.8 78.6,174.0 78.8,172.8 78.9,173.1 79.1,173.9 79.3,175.3 79.5,174.7 79.7,173.3 79.9,172.9 80.1,172.6 80.3,173.3 80.5,172.9 80.6,173.8 80.8,174.0 81.0,173.4 81.2,173.1 81.4,172.2 81.6,172.5 81.8,172.1 82.0,172.3 82.2,173.4 82.4,173.0 82.5,173.5 82.7,174.0 82.9,174.9 83.1,174.7 83.3,173.8 83.5,173.0 83.7,173.0 83.9,173.2 84.1,174.1 84.2,174.9 84.4,175.1 84.6,175.0 84.8,174.5 85.0,173.6 85.2,173.0 85.4,172.1 85.6,172.4 85.8,173.2 86.0,173.3 86.1,174.3 86.3,174.7 86.5,175.1 86.7,174.2 86.9,173.8 87.1,173.9 87.3,173.6 87.5,173.5 87.7,173.4 87.8,174.0 88.0,174.5 88.2,174.7 88.4,174.3 88.6,173.7 88.8,172.8 89.0,173.4 89.2,173.0 89.4,173.7 89.5,173.7 89.7,174.5 89.9,174.0 90.1,173.2 90.3,173.5 90.5,173.5 90.7,174.8 90.9,174.2 91.1,174.6 91.3,174.8 91.4,174.7 91.6,175.0 91.8,173.6 92.0,173.8 92.2,173.1 92.4,173.7 92.6,173.4 92.8,173.6 93.0,174.4 93.1,173.6 93.3,173.5 93.5,172.4 93.7,173.7 93.9,173.5 94.1,174.1 94.3,173.4 94.5,173.9 94.7,174.1 94.9,174.1 95.0,173.8 95.2,172.8 95.4,173.1 95.6,173.4 95.8,173.8 96.0,174.2 96.2,172.9 96.4,172.4 96.6,171.3 96.7,172.0 96.9,172.8 97.1,173.3 97.3,173.5 97.5,173.8 97.7,173.7 97.9,173.1 98.1,172.3 98.3,173.4 98.5,173.0 98.6,173.4 98.8,173.1 99.0,174.4 99.2,174.1 99.4,173.5 99.6,173.6 99.8,174.5 100.0,174.1 100.2,174.1 100.3,173.7 100.5,174.5 100.7,174.8 100.9,174.6 101.1,173.5 101.3,173.0 101.5,173.9 101.7,174.9 101.9,174.8 102.0,175.1 102.2,174.3 102.4,174.6 102.6,173.3 102.8,173.8 103.0,173.5 103.2,174.4 103.4,173.9 103.6,173.7 103.8,172.3 103.9,172.9 104.1,173.0 104.3,173.9 104.5,173.2 104.7,173.2 104.9,173.5 105.1,173.9 105.3,174.3 105.5,174.1 105.6,174.0 105.8,173.1 106.0,173.3 106.2,173.5 106.4,174.6 106.6,173.3 106.8,172.5 107.0,171.2 107.2,171.7 107.4,172.8 107.5,174.0 107.7,174.4 107.9,174.0 108.1,174.0 108.3,173.9 108.5,174.0 108.7,173.8 108.9,173.0 109.1,172.6 109.2,173.1 109.4,173.9 109.6,174.0 109.8,173.2 110.0,173.1 110.2,173.7 110.4,173.8 110.6,173.6 110.8,171.7 111.0,171.6 111.1,171.2 111.3,171.7 111.5,172.3 111.7,173.5 111.9,173.4 112.1,173.4 112.3,173.3 112.5,173.8 112.7,173.7 112.8,172.8 113.0,172.6 113.2,171.6 113.4,171.8 113.6,172.7 113.8,172.7 114.0,172.7 114.2,171.9 114.4,172.5 114.5,172.8 114.7,173.6 114.9,173.1 115.1,172.6 115.3,172.0 115.5,172.2 115.7,172.3 115.9,172.5 116.1,173.2 116.3,173.1 116.4,172.8 116.6,172.3 116.8,171.8 117.0,170.8 117.2,168.8 117.4,168.1 117.6,167.3 117.8,165.9 118.0,163.9 118.1,162.2 118.3,160.6 118.5,158.1 118.7,155.9 118.9,154.3 119.1,154.3 119.3,153.8 119.5,153.7 119.7,153.9 119.9,154.5 120.0,156.2 120.2,158.0 120.4,160.8 120.6,162.4 120.8,164.5 121.0,165.7 121.2,167.2 121.4,169.0 121.6,170.2 121.7,171.6 121.9,171.3 122.1,171.9 122.3,171.3 122.5,171.8 122.7,171.7 122.9,172.8 123.1,173.2 123.3,173.4 123.5,173.6 123.6,173.6 123.8,174.0 124.0,174.0 124.2,174.0 124.4,173.6 124.6,173.5 124.8,173.4 125.0,173.7 125.2,174.1 125.3,174.6 125.5,174.3 125.7,173.3 125.9,173.0 126.1,173.1 126.3,174.1 126.5,174.0 126.7,174.0 126.9,173.8 127.1,173.8 127.2,173.9 127.4,174.3 127.6,175.2 127.8,175.5 128.0,174.9 128.2,173.8 128.4,173.8 128.6,173.7 128.8,174.3 128.9,173.8 129.1,173.8 129.3,173.6 129.5,174.0 129.7,174.6 129.9,174.9 130.1,174.0 130.3,173.0 130.5,172.2 130.6,172.5 130.8,173.2 131.0,174.1 131.2,174.2 131.4,174.0 131.6,173.5 131.8,173.2 132.0,172.5 132.2,172.4 132.4,173.7 132.5,173.7 132.7,174.6 132.9,174.6 133.1,175.1 133.3,174.5 133.5,173.7 133.7,173.8 133.9,174.1 134.1,174.4 134.2,174.8 134.4,175.0 134.6,175.2 134.8,174.9 135.0,174.4 135.2,174.4 135.4,173.8 135.6,174.0 135.8,173.9 136.0,174.0 136.1,174.8 136.3,174.3 136.5,174.3 136.7,173.5 136.9,173.1 137.1,173.1 137.3,172.3 137.5,172.7 137.7,173.0 137.8,173.8 138.0,174.7 138.2,175.1 138.4,175.5 138.6,175.3 138.8,174.7 139.0,174.7 139.2,174.3 139.4,174.2 139.6,174.4 139.7,174.9 139.9,175.3 140.1,175.0 140.3,175.0 140.5,174.3 140.7,174.0 140.9,173.1 141.1,173.7 141.3,173.5 141.4,174.6 141.6,174.8 141.8,174.7 142.0,174.1 142.2,173.4 142.4,173.7 142.6,174.0 142.8,174.6 143.0,173.8 143.1,173.4 143.3,173.5 143.5,174.5 143.7,175.1 143.9,174.4 144.1,174.4 144.3,173.7 144.5,174.3 144.7,174.3 144.9,174.8 145.0,174.5 145.2,174.4 145.4,173.6 145.6,173.3 145.8,173.4 146.0,173.9 146.2,173.8 146.4,173.2 146.6,173.3 146.7,174.6 146.9,175.5 147.1,175.8 147.3,174.4 147.5,173.9 147.7,173.7 147.9,174.7 148.1,174.9 148.3,174.6 148.5,175.2 148.6,175.6 148.8,175.7 149.0,174.5 149.2,174.8 149.4,174.6 149.6,175.5 149.8,175.5 150.0,175.3 150.2,174.9 150.3,173.9 150.5,174.6 150.7,174.6 150.9,175.6 151.1,175.6 151.3,175.5 151.5,175.1 151.7,174.8 151.9,174.6 152.1,175.1 152.2,174.9 152.4,174.8 152.6,173.9 152.8,173.8 153.0,173.1 153.2,173.5 153.4,173.6 153.6,174.3 153.8,173.7 153.9,173.6 154.1,173.4 154.3,173.6 154.5,175.1 154.7,175.9 154.9,176.1 155.1,174.4 155.3,174.1 155.5,173.3 155.6,174.3 155.8,174.2 156.0,174.7 156.2,174.3 156.4,174.2 156.6,173.5 156.8,173.8 157.0,173.5 157.2,173.6 157.4,173.2 157.5,173.5 157.7,174.2 157.9,174.7 158.1,175.1 158.3,175.1 158.5,174.7 158.7,175.0 158.9,174.1 159.1,174.2 159.2,173.5 159.4,173.7 159.6,173.6 159.8,173.8 160.0,174.6 160.2,175.1 160.4,174.2 160.6,174.0 160.8,174.3 161.0,175.7 161.1,176.4 161.3,175.6 161.5,174.6 161.7,173.5 161.9,173.7 162.1,174.8 162.3,175.0 162.5,174.5 162.7,174.2 162.8,173.8 163.0,173.8 163.2,174.4 163.4,176.1 163.6,176.2 163.8,176.3 164.0,175.1 164.2,174.8 164.4,173.0 164.6,173.7 164.7,173.9 164.9,175.8 165.1,175.6 165.3,175.8 165.5,174.0 165.7,174.5 165.9,174.3 166.1,175.0 166.3,173.4 166.4,174.0 166.6,174.5 166.8,175.2 167.0,174.8 167.2,174.6 167.4,175.2 167.6,175.2 167.8,175.8 168.0,175.3 168.2,175.0 168.3,174.1 168.5,173.1 168.7,173.0 168.9,173.6 169.1,174.8 169.3,174.8 169.5,174.6 169.7,173.6 169.9,173.8 170.0,173.9 170.2,175.1 170.4,174.8 170.6,175.0 170.8,175.5 171.0,175.7 171.2,175.6 171.4,174.1 171.6,173.5 171.7,173.4 171.9,174.1 172.1,175.0 172.3,174.5 172.5,174.4 172.7,174.7 172.9,175.7 173.1,175.7 173.3,174.6 173.5,174.4 173.6,174.8 173.8,175.8 174.0,175.3 174.2,176.1 174.4,175.8 174.6,176.0 174.8,174.2 175.0,173.9 175.2,173.4 175.3,174.2 175.5,174.6 175.7,174.5 175.9,175.3 176.1,174.7 176.3,174.8 176.5,174.2 176.7,174.1 176.9,174.5 177.1,174.7 177.2,175.1 177.4,175.7 177.6,175.5 177.8,175.7 178.0,174.5 178.2,173.7 178.4,173.3 178.6,173.6 178.8,174.1 178.9,174.8 179.1,173.9 179.3,173.6 179.5,172.4 179.7,174.1 179.9,174.3 180.1,174.9 180.3,173.8 180.5,174.5 180.7,174.5 180.8,175.1 181.0,173.8 181.2,174.5 181.4,174.6 181.6,175.7 181.8,175.7 182.0,175.5 182.2,175.2 182.4,174.9 182.5,175.2 182.7,175.2 182.9,174.9 183.1,174.5 183.3,174.9 183.5,175.3 183.7,175.5 183.9,176.0 184.1,175.0 184.2,174.8 184.4,174.8 184.6,175.3 184.8,174.7 185.0,174.5 185.2,175.0 185.4,175.1 185.6,174.9 185.8,174.2 186.0,174.1 186.1,173.7 186.3,174.0 186.5,174.0 186.7,173.9 186.9,173.4 187.1,173.5 187.3,173.0 187.5,173.2 187.7,172.7 187.8,172.4 188.0,172.1 188.2,172.8 188.4,174.5 188.6,175.6 188.8,175.5 189.0,175.3 189.2,174.4 189.4,175.2 189.6,174.6 189.7,175.4 189.9,175.3 190.1,175.3 190.3,175.1 190.5,174.4 190.7,174.5 190.9,174.8 191.1,177.0 191.3,177.4 191.4,176.9 191.6,174.7 191.8,174.9 192.0,174.1 192.2,174.2 192.4,173.9 192.6,174.1 192.8,175.1 193.0,175.4 193.2,175.7 193.3,174.8 193.5,173.8 193.7,173.4 193.9,173.8 194.1,174.7 194.3,175.4 194.5,175.3 194.7,174.8 194.9,174.8 195.0,174.1 195.2,174.3 195.4,174.8 195.6,176.0 195.8,175.8 196.0,175.0 196.2,175.0 196.4,176.0 196.6,175.5 196.7,174.7 196.9,174.0 197.1,175.2 197.3,175.0 197.5,175.2 197.7,174.6 197.9,175.9 198.1,175.9 198.3,175.9 198.5,174.7 198.6,175.0 198.8,175.4 199.0,175.0 199.2,174.7 199.4,173.8 199.6,173.9 199.8,173.3 200.0,173.3 200.2,173.3 200.3,173.4 200.5,174.2 200.7,174.9 200.9,175.2 201.1,174.5 201.3,174.5 201.5,173.7 201.7,173.3 201.9,173.3 202.1,174.4 202.2,175.7 202.4,175.3 202.6,174.4 202.8,173.8 203.0,174.1 203.2,174.3 203.4,174.2 203.6,173.4 203.8,173.2 203.9,173.9 204.1,174.6 204.3,174.6 204.5,173.8 204.7,173.3 204.9,174.1 205.1,174.0 205.3,174.2 205.5,173.0 205.7,173.0 205.8,173.2 206.0,174.5 206.2,174.6 206.4,174.0 206.6,174.0 206.8,174.3 207.0,174.4 207.2,174.2 207.4,174.5 207.5,175.2 207.7,175.3 207.9,174.9 208.1,174.4 208.3,174.0 208.5,173.7 208.7,173.3 208.9,173.7 209.1,173.6 209.2,174.4 209.4,174.1 209.6,174.7 209.8,174.5 210.0,174.6 210.2,175.1 210.4,174.7 210.6,174.4 210.8,173.7 211.0,174.7 211.1,175.2 211.3,174.9 211.5,173.9 211.7,173.1 211.9,173.5 212.1,173.7 212.3,175.0 212.5,174.2 212.7,174.5 212.8,173.7 213.0,174.1 213.2,173.6 213.4,173.1 213.6,173.4 213.8,173.9 214.0,173.4 214.2,173.9 214.4,173.3 214.6,174.6 214.7,174.1 214.9,174.8 215.1,174.3 215.3,174.6 215.5,174.0 215.7,173.4 215.9,173.2 216.1,173.4 216.3,174.6 216.4,173.4 216.6,172.9 216.8,172.4 217.0,172.7 217.2,172.6 217.4,173.0 217.6,174.1 217.8,173.7 218.0,173.4 218.2,173.2 218.3,173.8 218.5,173.3 218.7,172.8 218.9,172.0 219.1,171.5 219.3,171.7 219.5,172.0 219.7,172.9 219.9,172.3 220.0,171.1 220.2,170.1 220.4,170.2 220.6,171.3 220.8,171.3 221.0,170.7 221.2,171.1 221.4,170.8 221.6,171.4 221.8,170.6 221.9,170.3 222.1,170.5 222.3,169.4 222.5,169.4 222.7,168.8 222.9,169.6 223.1,170.1 223.3,169.6 223.5,169.4 223.6,169.7 223.8,169.5 224.0,169.3 224.2,167.7 224.4,167.2 224.6,167.2 224.8,167.6 225.0,167.6 225.2,166.8 225.3,166.5 225.5,165.5 225.7,165.3 225.9,164.6 226.1,164.6 226.3,164.5 226.5,164.0 226.7,163.7 226.9,164.0 227.1,164.1 227.2,164.5 227.4,163.3 227.6,162.9 227.8,162.2 228.0,162.2 228.2,162.1 228.4,161.1 228.6,160.1 228.8,158.5 228.9,156.5 229.1,155.1 229.3,154.4 229.5,155.3 229.7,154.8 229.9,154.5 230.1,153.8 230.3,152.9 230.5,151.9 230.7,151.0 230.8,150.1 231.0,148.0 231.2,146.5 231.4,144.9 231.6,143.7 231.8,141.7 232.0,140.0 232.2,138.6 232.4,136.8 232.5,135.2 232.7,132.8 232.9,130.0 233.1,127.2 233.3,124.7 233.5,121.9 233.7,119.6 233.9,116.2 234.1,112.8 234.3,114.5 234.4,117.9 234.6,121.1 234.8,123.7 235.0,126.3 235.2,129.1 235.4,131.8 235.6,133.9 235.8,135.9 236.0,138.0 236.1,140.2 236.3,140.8 236.5,141.8 236.7,142.7 236.9,145.1 237.1,146.8 237.3,148.7 237.5,150.2 237.7,151.3 237.8,152.0 238.0,153.5 238.2,154.2 238.4,155.2 238.6,155.9 238.8,157.1 239.0,156.9 239.2,157.2 239.4,157.6 239.6,159.0 239.7,159.9 239.9,160.9 240.1,161.4 240.3,161.9 240.5,162.5 240.7,163.1 240.9,163.4 241.1,163.8 241.3,164.0 241.4,164.1 241.6,164.3 241.8,164.4 242.0,164.4 242.2,165.3 242.4,165.9 242.6,166.8 242.8,166.5 243.0,166.9 243.2,167.3 243.3,167.7 243.5,167.6 243.7,168.3 243.9,168.3 244.1,169.3 244.3,168.4 244.5,168.5 244.7,168.7 244.9,169.7 245.0,170.1 245.2,170.0 245.4,169.8 245.6,170.3 245.8,169.4 246.0,169.7 246.2,169.6 246.4,170.8 246.6,171.5 246.8,171.4 246.9,171.9 247.1,171.3 247.3,171.0 247.5,169.4 247.7,170.4 247.9,171.4 248.1,172.3 248.3,171.4 248.5,171.1 248.6,172.1 248.8,172.5 249.0,173.8 249.2,173.2 249.4,172.4 249.6,172.0 249.8,172.1 250.0,173.0 250.2,173.4 250.3,173.6 250.5,174.2 250.7,173.6 250.9,173.5 251.1,173.3 251.3,173.1 251.5,174.0 251.7,174.3 251.9,174.6 252.1,174.4 252.2,174.3 252.4,174.2 252.6,174.4 252.8,174.1 253.0,174.5 253.2,173.8 253.4,174.0 253.6,173.9 253.8,174.1 253.9,173.9 254.1,173.5 254.3,174.2 254.5,174.1 254.7,174.6 254.9,175.0 255.1,175.5 255.3,174.6 255.5,174.1 255.7,174.4 255.8,175.0 256.0,175.4 256.2,175.3 256.4,175.6 256.6,175.1 256.8,174.6 257.0,174.4 257.2,174.5 257.4,175.0 257.5,175.3 257.7,175.2 257.9,175.0 258.1,175.0 258.3,174.5 258.5,174.2 258.7,173.7 258.9,174.3 259.1,174.5 259.3,174.8 259.4,174.5 259.6,175.0 259.8,175.2 260.0,174.9 260.2,174.6 260.4,174.1 260.6,175.5 260.8,175.3 261.0,175.7 261.1,175.0 261.3,175.1 261.5,175.3 261.7,175.9 261.9,176.1 262.1,176.5 262.3,176.4 262.5,175.9 262.7,176.3 262.9,176.1 263.0,176.9 263.2,175.8 263.4,175.9 263.6,175.7 263.8,175.9 264.0,176.5 264.2,176.6 264.4,176.7 264.6,175.8 264.7,176.0 264.9,176.6 265.1,176.8 265.3,176.9 265.5,177.1 265.7,176.3 265.9,175.6 266.1,174.6 266.3,175.2 266.4,176.0 266.6,176.7 266.8,176.2 267.0,175.5 267.2,175.7 267.4,175.9 267.6,176.0 267.8,175.7 268.0,175.1 268.2,175.5 268.3,175.5 268.5,176.6 268.7,175.8 268.9,175.4 269.1,174.9 269.3,175.4 269.5,175.8 269.7,176.1 269.9,176.8 270.0,177.3 270.2,177.0 270.4,175.9 270.6,176.1 270.8,176.3 271.0,177.2 271.2,177.1 271.4,177.0 271.6,176.3 271.8,175.7 271.9,175.6 272.1,175.3 272.3,175.1 272.5,175.8 272.7,176.1 272.9,176.1 273.1,175.6 273.3,175.2 273.5,175.9 273.6,175.1 273.8,175.4 274.0,175.0 274.2,175.5 274.4,176.0 274.6,176.3 274.8,176.6 275.0,176.4 275.2,175.4 275.4,176.0 275.5,175.9 275.7,176.5 275.9,176.9 276.1,177.1 276.3,177.6 276.5,177.2 276.7,176.5 276.9,176.1 277.1,176.0 277.2,175.9 277.4,176.4 277.6,176.2 277.8,177.0 278.0,176.0 278.2,176.0 278.4,176.0 278.6,176.3 278.8,176.3 278.9,175.2 279.1,176.0 279.3,175.5 279.5,175.4 279.7,174.4 279.9,174.6 280.1,175.8 280.3,175.8 280.5,176.3 280.7,175.6 280.8,177.0 281.0,177.1 281.2,178.4 281.4,177.0 281.6,177.0 281.8,175.8 282.0,176.5 282.2,176.5 282.4,176.2 282.5,175.5 282.7,174.7 282.9,174.7 283.1,174.9 283.3,175.0 283.5,175.0 283.7,175.4 283.9,176.0 284.1,176.1 284.3,175.8 284.4,175.6 284.6,176.1 284.8,176.0 285.0,176.4 285.2,176.8 285.4,177.4 285.6,177.0 285.8,177.5 286.0,178.0 286.1,177.9 286.3,177.0 286.5,176.7 286.7,176.6 286.9,176.8 287.1,176.3 287.3,176.4 287.5,176.1 287.7,175.4 287.9,175.5 288.0,174.7 288.2,176.4 288.4,177.3 288.6,178.7 288.8,177.8 289.0,177.6 289.2,177.6 289.4,177.9 289.6,177.9 289.7,177.0 289.9,176.7 290.1,176.1 290.3,176.0 290.5,175.3 290.7,175.7 290.9,176.7 291.1,176.6 291.3,177.2 291.4,177.3 291.6,177.8 291.8,176.8 292.0,176.2 292.2,176.7 292.4,176.8 292.6,176.3 292.8,176.1 293.0,175.3 293.2,175.9 293.3,176.2 293.5,177.3 293.7,177.6 293.9,177.3 294.1,177.5 294.3,177.2 294.5,176.6 294.7,176.2 294.9,176.1 295.0,177.0 295.2,177.8 295.4,178.0 295.6,177.2 295.8,176.2 296.0,175.9 296.2,176.8 296.4,177.3 296.6,177.4 296.8,176.4 296.9,176.7 297.1,176.8 297.3,177.1 297.5,176.8 297.7,177.4 297.9,177.4 298.1,178.0 298.3,177.9 298.5,178.0 298.6,177.6 298.8,177.0 299.0,176.6 299.2,176.1 299.4,175.8 299.6,176.4 299.8,176.5 300.0,177.2 300.2,177.3 300.4,175.9 300.5,175.8 300.7,174.7 300.9,176.1 301.1,175.6 301.3,176.4 301.5,177.0 301.7,176.6 301.9,176.7 302.1,176.0 302.2,176.0 302.4,176.2 302.6,176.2 302.8,176.8 303.0,176.2 303.2,177.6 303.4,177.6 303.6,177.2 303.8,175.4 303.9,175.4 304.1,176.0 304.3,176.4 304.5,176.1 304.7,176.5 304.9,176.3 305.1,176.2 305.3,175.6 305.5,175.7 305.7,176.6 305.8,177.2 306.0,177.2 306.2,176.9 306.4,176.7 306.6,177.8 306.8,177.5 307.0,177.6 307.2,177.0 307.4,176.9 307.5,176.8 307.7,176.5 307.9,176.8 308.1,176.9 308.3,177.3 308.5,178.0 308.7,177.7 308.9,177.3 309.1,177.8 309.3,177.5 309.4,177.5 309.6,176.8 309.8,177.4 310.0,177.6 310.2,177.3 310.4,177.5 310.6,177.8 310.8,177.6 311.0,177.4 311.1,176.8 311.3,176.7 311.5,176.7 311.7,176.2 311.9,176.7 312.1,177.4 312.3,178.7 312.5,178.9 312.7,177.7 312.9,177.7 313.0,176.8 313.2,177.2 313.4,177.4 313.6,177.2 313.8,177.6 314.0,176.9 314.2,177.3 314.4,176.6 314.6,176.6 314.7,176.5 314.9,177.3 315.1,177.7 315.3,177.3 315.5,176.6 315.7,176.0 315.9,176.1 316.1,175.8 316.3,176.0 316.5,176.4 316.6,176.2 316.8,175.9 317.0,176.2 317.2,176.4 317.4,176.2 317.6,176.7 317.8,177.8 318.0,177.5 318.2,176.2 318.3,175.8 318.5,176.0 318.7,176.5 318.9,176.1 319.1,176.9 319.3,175.9 319.5,175.2 319.7,174.4 319.9,175.9 320.0,176.8 320.2,176.6 320.4,176.4 320.6,176.8 320.8,177.4 321.0,177.0 321.2,176.9 321.4,177.6 321.6,177.8 321.8,177.8 321.9,177.3 322.1,177.0 322.3,176.4 322.5,176.5 322.7,176.6 322.9,176.9 323.1,177.2 323.3,177.5 323.5,178.0 323.6,176.9 323.8,176.9 324.0,176.3 324.2,176.6 324.4,176.0 324.6,176.8 324.8,177.5 325.0,177.6 325.2,176.5 325.4,176.2 325.5,176.3 325.7,177.5 325.9,176.9 326.1,176.3 326.3,175.5 326.5,176.1 326.7,176.9 326.9,177.4 327.1,178.3 327.2,178.1 327.4,177.5 327.6,175.9 327.8,176.1 328.0,176.7 328.2,177.4 328.4,177.8 328.6,177.4 328.8,178.2 329.0,177.8 329.1,177.3 329.3,176.4 329.5,175.6 329.7,175.3 329.9,175.7 330.1,176.7 330.3,178.3 330.5,178.2 330.7,177.7 330.8,176.4 331.0,176.8 331.2,177.1 331.4,177.3 331.6,177.2 331.8,177.3 332.0,176.7 332.2,176.8 332.4,176.6 332.5,177.2 332.7,176.7 332.9,177.4 333.1,178.2 333.3,179.2 333.5,178.0 333.7,177.0 333.9,176.6 334.1,176.6 334.3,176.6 334.4,175.4 334.6,176.7 334.8,177.5 335.0,178.5 335.2,177.8 335.4,177.1 335.6,176.8 335.8,176.9 336.0,176.8 336.1,177.5 336.3,177.0 336.5,177.0 336.7,177.0 336.9,177.1 337.1,177.8 337.3,177.0 337.5,176.1 337.7,176.1 337.9,175.7 338.0,177.1 338.2,176.2 338.4,176.0 338.6,175.7 338.8,176.5 339.0,177.4 339.2,176.7 339.4,176.9 339.6,176.2 339.7,176.6 339.9,175.8 340.1,176.3 340.3,176.9 340.5,176.9 340.7,177.4 340.9,177.3 341.1,176.8 341.3,176.1 341.5,175.6 341.6,176.1 341.8,176.7 342.0,176.1 342.2,176.6 342.4,176.8 342.6,177.6 342.8,176.7 343.0,176.3 343.2,176.2 343.3,177.0 343.5,177.0 343.7,177.5 343.9,177.1 344.1,177.8 344.3,176.5 344.5,176.2 344.7,175.8 344.9,176.1 345.0,176.9 345.2,176.2 345.4,176.9 345.6,176.1 345.8,176.5 346.0,176.5 346.2,176.9 346.4,176.9 346.6,177.7 346.8,177.8 346.9,177.5 347.1,177.0 347.3,177.4 347.5,178.3 347.7,178.7 347.9,177.9 348.1,177.8 348.3,177.6 348.5,178.0 348.6,177.6 348.8,175.8 349.0,175.6 349.2,176.2 349.4,176.8 349.6,176.8 349.8,176.1 350.0,177.2 350.2,178.1 350.4,177.2 350.5,177.0 350.7,176.7 350.9,176.8 351.1,176.8 351.3,177.3 351.5,178.4 351.7,178.6 351.9,176.7 352.1,176.1 352.2,176.0 352.4,177.0 352.6,177.0 352.8,178.2 353.0,178.2 353.2,177.8 353.4,176.6 353.6,176.6 353.8,176.9 354.0,176.7 354.1,177.2 354.3,177.4 354.5,176.9 354.7,176.6 354.9,176.7 355.1,177.0 355.3,177.5 355.5,177.7 355.7,177.4 355.8,177.1 356.0,177.6 356.2,178.7 356.4,178.5 356.6,178.1 356.8,177.1 357.0,176.5 357.2,176.3 357.4,176.7 357.6,177.6 357.7,177.3 357.9,177.4 358.1,176.9 358.3,177.2 358.5,177.4 358.7,177.6 358.9,177.7 359.1,176.6 359.3,176.3 359.4,176.5 359.6,178.1 359.8,178.5 360.0,177.9 360.2,176.5 360.4,176.6 360.6,177.0 360.8,176.9 361.0,177.0 361.1,176.8 361.3,177.7 361.5,176.9 361.7,177.0 361.9,176.1 362.1,177.3 362.3,177.1 362.5,177.2 362.7,177.2 362.9,177.6 363.0,177.8 363.2,178.2 363.4,177.3 363.6,177.7 363.8,177.2 364.0,176.7 364.2,177.0 364.4,176.5 364.6,177.4 364.7,176.5 364.9,176.7 365.1,176.2 365.3,176.3 365.5,175.9 365.7,175.9 365.9,177.0 366.1,176.6 366.3,176.8 366.5,176.0 366.6,176.6 366.8,177.2 367.0,177.7 367.2,177.6 367.4,177.1 367.6,176.7 367.8,177.2 368.0,177.7 368.2,177.5 368.3,176.2 368.5,176.8 368.7,177.5 368.9,178.5 369.1,177.7 369.3,177.1 369.5,176.5 369.7,176.2 369.9,176.4 370.1,176.5 370.2,176.0 370.4,176.0 370.6,176.5 370.8,176.9 371.0,177.1 371.2,175.9 371.4,176.0 371.6,176.0 371.8,176.4 371.9,175.7 372.1,175.9 372.3,176.1 372.5,177.1 372.7,176.7 372.9,177.3 373.1,177.0 373.3,176.5 373.5,176.2 373.6,176.2 373.8,177.1 374.0,177.0 374.2,176.9 374.4,177.0 374.6,177.7 374.8,178.2 375.0,178.3 375.2,178.0 375.4,178.0 375.5,177.9 375.7,177.9 375.9,177.6 376.1,177.3 376.3,178.1 376.5,178.1 376.7,178.0 376.9,176.8 377.1,176.7 377.2,176.9 377.4,176.6 377.6,175.8 377.8,175.8 378.0,175.6 378.2,176.6 378.4,176.5 378.6,177.7 378.8,178.3 379.0,178.4 379.1,177.7 379.3,176.4 379.5,175.9 379.7,176.2 379.9,175.8 380.1,176.2 380.3,176.1 380.5,177.3 380.7,177.1 380.8,177.2 381.0,176.6 381.2,176.5 381.4,175.7 381.6,176.1 381.8,177.0 382.0,177.8 382.2,177.9 382.4,176.8 382.6,177.3 382.7,176.9 382.9,177.6 383.1,177.1 383.3,177.0 383.5,177.1 383.7,177.0 383.9,177.5 384.1,177.3 384.3,177.2 384.4,177.0 384.6,177.0 384.8,176.8 385.0,177.0 385.2,176.5 385.4,176.1 385.6,175.7 385.8,175.8 386.0,176.5 386.1,177.3 386.3,176.8 386.5,176.8 386.7,175.3 386.9,175.6 387.1,175.3 387.3,175.3 387.5,175.0 387.7,175.2 387.9,176.2 388.0,177.0 388.2,176.6 388.4,177.5 388.6,177.5 388.8,177.4 389.0,177.2 389.2,177.6 389.4,177.8 389.6,177.6 389.7,177.3 389.9,177.8 390.1,177.4 390.3,176.9 390.5,177.0 390.7,177.0 390.9,177.0 391.1,176.2 391.3,176.5 391.5,176.8 391.6,177.2 391.8,177.0 392.0,177.2 392.2,176.5 392.4,176.5 392.6,176.9 392.8,177.9 393.0,178.3 393.2,178.1 393.3,178.0 393.5,178.0 393.7,177.7 393.9,178.1 394.1,178.2 394.3,178.6 394.5,178.7 394.7,178.3 394.9,177.5 395.1,177.2 395.2,177.0 395.4,177.5 395.6,177.1 395.8,177.5 396.0,177.6 396.2,177.2 396.4,176.8 396.6,176.9 396.8,176.8 396.9,176.4 397.1,175.9 397.3,175.9 397.5,176.3 397.7,176.8 397.9,177.9 398.1,178.2 398.3,178.2 398.5,177.8 398.6,177.9 398.8,177.2 399.0,177.0 399.2,176.5 399.4,176.6 399.6,176.0 399.8,175.6 400.0,175.5 400.2,175.1 400.4,175.4 400.5,175.4 400.7,175.9 400.9,175.7 401.1,175.9 401.3,175.5 401.5,175.2 401.7,174.0 401.9,173.1 402.1,172.1 402.2,173.2 402.4,173.0 402.6,173.7 402.8,173.3 403.0,173.4 403.2,173.2 403.4,172.5 403.6,171.9 403.8,170.1 404.0,166.4 404.1,161.1 404.3,154.7 404.5,148.3 404.7,142.4 404.9,136.8 405.1,133.6 405.3,131.0 405.5,130.0 405.7,129.4 405.8,131.2 406.0,134.2 406.2,138.5 406.4,143.3 406.6,148.7 406.8,154.5 407.0,160.5 407.2,166.2 407.4,169.9 407.6,172.4 407.7,172.9 407.9,173.2 408.1,172.5 408.3,172.7 408.5,172.2 408.7,173.0 408.9,174.0 409.1,175.3 409.3,176.2 409.4,175.5 409.6,174.9 409.8,174.4 410.0,174.5 410.2,175.8 410.4,176.9 410.6,176.9 410.8,176.3 411.0,175.4 411.2,175.7 411.3,175.4 411.5,175.5 411.7,175.9 411.9,176.6 412.1,176.1 412.3,176.0 412.5,175.1 412.7,176.0 412.9,175.7 413.0,176.3 413.2,175.8 413.4,176.0 413.6,175.7 413.8,175.1 414.0,176.2 414.2,176.7 414.4,177.6 414.6,177.8 414.7,177.7 414.9,177.8 415.1,176.9 415.3,177.5 415.5,177.5 415.7,177.6 415.9,177.0 416.1,177.0 416.3,177.3 416.5,176.6 416.6,176.4 416.8,175.7 417.0,176.5 417.2,175.7 417.4,176.2 417.6,176.0 417.8,176.7 418.0,176.2 418.2,175.9 418.3,175.8 418.5,175.2 418.7,175.5 418.9,175.6 419.1,176.4 419.3,176.8 419.5,176.9 419.7,177.8 419.9,178.0 420.1,177.5 420.2,176.4 420.4,175.9 420.6,176.3 420.8,176.3 421.0,176.3 421.2,177.1 421.4,177.3 421.6,177.6 421.8,176.8 421.9,176.6 422.1,177.4 422.3,177.7 422.5,178.3 422.7,176.3 422.9,176.3 423.1,176.3 423.3,178.5 423.5,178.3 423.7,177.1 423.8,176.5 424.0,176.3 424.2,176.2 424.4,175.7 424.6,176.4 424.8,177.7 425.0,178.3 425.2,177.4 425.4,178.0 425.5,177.2 425.7,177.6 425.9,175.9 426.1,177.0 426.3,177.2 426.5,178.2 426.7,177.7 426.9,177.4 427.1,177.1 427.2,176.3 427.4,176.7 427.6,177.1 427.8,177.7 428.0,177.3 428.2,177.0 428.4,177.9 428.6,178.1 428.8,178.0 429.0,177.1 429.1,176.2 429.3,175.9 429.5,176.2 429.7,176.7 429.9,177.0 430.1,177.3 430.3,177.6 430.5,177.7 430.7,177.7 430.8,177.6 431.0,177.4 431.2,177.4 431.4,176.5 431.6,177.1 431.8,176.3 432.0,177.4 432.2,176.9 432.4,177.9 432.6,177.6 432.7,177.2 432.9,177.2 433.1,177.2 433.3,177.7 433.5,177.3 433.7,177.6 433.9,177.9 434.1,178.0 434.3,176.9 434.4,176.4 434.6,176.3 434.8,177.8 435.0,178.1 435.2,178.0 435.4,177.8 435.6,177.5 435.8,177.6 436.0,177.1 436.2,176.5 436.3,176.9 436.5,177.1 436.7,177.6 436.9,176.7 437.1,176.6 437.3,177.3 437.5,177.5 437.7,177.0 437.9,176.6 438.0,176.1 438.2,175.6 438.4,175.3 438.6,175.7 438.8,176.5 439.0,176.5 439.2,176.9 439.4,176.9 439.6,176.9 439.7,176.6 439.9,176.9 440.1,177.6 440.3,178.2 440.5,178.2 440.7,176.4 440.9,175.6 441.1,175.1 441.3,176.6 441.5,176.4 441.6,177.1 441.8,177.2 442.0,177.6 442.2,177.1 442.4,176.8 442.6,176.7 442.8,176.9 443.0,176.8 443.2,176.5 443.3,176.1 443.5,176.2 443.7,176.3 443.9,177.2 444.1,176.7 444.3,178.0 444.5,177.8 444.7,177.9 444.9,177.2 445.1,177.3 445.2,177.6 445.4,177.1 445.6,176.6 445.8,177.5 446.0,178.0" fill="none" stroke="#2ca02c" stroke-width="2.7" stroke-linejoin="round"/>
<polyline points="67.2,138.4 67.4,138.4 67.6,139.0 67.8,138.6 68.0,138.5 68.1,139.0 68.3,139.4 68.5,139.1 68.7,139.4 68.9,138.6 69.1,139.3 69.3,138.7 69.5,139.8 69.7,139.7 69.9,140.0 70.0,139.5 70.2,139.8 70.4,139.5 70.6,140.4 70.8,139.7 71.0,140.1 71.2,139.4 71.4,139.8 71.6,139.0 71.7,139.0 71.9,138.3 72.1,137.9 72.3,138.1 72.5,138.0 72.7,139.3 72.9,138.8 73.1,139.6 73.3,139.0 73.5,139.3 73.6,139.1 73.8,138.9 74.0,138.7 74.2,139.3 74.4,139.9 74.6,140.6 74.8,140.3 75.0,139.7 75.2,138.4 75.3,138.5 75.5,139.0 75.7,139.6 75.9,139.6 76.1,139.8 76.3,140.1 76.5,140.2 76.7,139.8 76.9,139.0 77.0,138.3 77.2,138.0 77.4,139.0 77.6,138.8 77.8,138.8 78.0,138.2 78.2,138.5 78.4,138.8 78.6,139.6 78.8,140.0 78.9,140.0 79.1,139.7 79.3,139.4 79.5,139.4 79.7,140.0 79.9,138.9 80.1,138.7 80.3,138.2 80.5,139.8 80.6,139.4 80.8,139.4 81.0,139.3 81.2,139.6 81.4,138.6 81.6,138.1 81.8,137.8 82.0,138.9 82.2,138.7 82.4,140.0 82.5,139.8 82.7,139.8 82.9,138.8 83.1,138.3 83.3,138.8 83.5,139.7 83.7,140.1 83.9,140.3 84.1,139.2 84.2,139.5 84.4,140.1 84.6,139.9 84.8,140.3 85.0,139.8 85.2,139.6 85.4,138.5 85.6,137.5 85.8,138.8 86.0,139.2 86.1,139.6 86.3,139.5 86.5,139.7 86.7,139.9 86.9,139.4 87.1,139.9 87.3,139.5 87.5,140.3 87.7,139.7 87.8,139.7 88.0,139.3 88.2,139.6 88.4,139.1 88.6,138.9 88.8,138.1 89.0,138.6 89.2,138.9 89.4,139.1 89.5,139.6 89.7,139.1 89.9,140.3 90.1,140.1 90.3,139.8 90.5,138.5 90.7,138.1 90.9,138.7 91.1,139.2 91.3,140.0 91.4,140.0 91.6,140.1 91.8,139.8 92.0,139.7 92.2,139.8 92.4,140.0 92.6,140.4 92.8,140.0 93.0,138.9 93.1,138.2 93.3,138.6 93.5,138.3 93.7,138.4 93.9,138.5 94.1,139.3 94.3,139.0 94.5,139.6 94.7,140.5 94.9,140.8 95.0,140.7 95.2,140.6 95.4,140.2 95.6,140.8 95.8,139.9 96.0,140.3 96.2,138.6 96.4,139.1 96.6,138.6 96.7,139.1 96.9,139.5 97.1,140.2 97.3,140.1 97.5,140.3 97.7,139.8 97.9,140.3 98.1,139.5 98.3,140.0 98.5,139.6 98.6,139.8 98.8,139.7 99.0,139.4 99.2,139.1 99.4,139.3 99.6,139.6 99.8,139.3 100.0,138.8 100.2,138.6 100.3,139.1 100.5,139.4 100.7,139.8 100.9,139.5 101.1,139.5 101.3,138.8 101.5,137.9 101.7,137.8 101.9,137.7 102.0,138.6 102.2,138.1 102.4,139.1 102.6,138.9 102.8,139.6 103.0,139.1 103.2,139.1 103.4,138.3 103.6,138.7 103.8,139.4 103.9,140.4 104.1,141.0 104.3,141.0 104.5,140.8 104.7,139.9 104.9,139.9 105.1,139.6 105.3,139.3 105.5,140.1 105.6,139.4 105.8,139.9 106.0,139.3 106.2,140.1 106.4,139.6 106.6,139.3 106.8,139.1 107.0,139.0 107.2,139.1 107.4,139.1 107.5,139.3 107.7,139.7 107.9,139.4 108.1,139.8 108.3,139.3 108.5,139.9 108.7,139.7 108.9,140.1 109.1,139.5 109.2,139.2 109.4,138.7 109.6,139.2 109.8,139.8 110.0,140.7 110.2,140.4 110.4,140.1 110.6,138.9 110.8,138.2 111.0,137.8 111.1,138.2 111.3,138.5 111.5,138.1 111.7,138.6 111.9,139.0 112.1,139.0 112.3,139.8 112.5,140.2 112.7,140.8 112.8,140.1 113.0,139.7 113.2,140.5 113.4,139.6 113.6,139.3 113.8,138.6 114.0,138.9 114.2,140.1 114.4,139.5 114.5,139.5 114.7,139.0 114.9,139.9 115.1,140.7 115.3,140.7 115.5,141.4 115.7,140.8 115.9,140.7 116.1,140.1 116.3,140.2 116.4,140.0 116.6,139.5 116.8,139.3 117.0,139.0 117.2,138.9 117.4,138.5 117.6,139.2 117.8,138.7 118.0,140.3 118.1,140.9 118.3,142.0 118.5,141.1 118.7,140.1 118.9,140.1 119.1,140.3 119.3,140.8 119.5,140.0 119.7,140.4 119.9,139.8 120.0,140.1 120.2,138.9 120.4,139.0 120.6,139.2 120.8,139.7 121.0,139.8 121.2,139.9 121.4,140.1 121.6,140.8 121.7,139.5 121.9,139.7 122.1,139.4 122.3,139.8 122.5,139.0 122.7,139.2 122.9,139.4 123.1,139.7 123.3,139.5 123.5,139.9 123.6,140.4 123.8,139.7 124.0,140.0 124.2,140.3 124.4,140.8 124.6,139.7 124.8,139.5 125.0,139.4 125.2,140.0 125.3,140.3 125.5,139.5 125.7,140.7 125.9,139.9 126.1,141.3 126.3,140.5 126.5,140.2 126.7,139.5 126.9,139.7 127.1,140.5 127.2,140.9 127.4,140.4 127.6,140.4 127.8,140.3 128.0,140.5 128.2,139.9 128.4,139.2 128.6,139.6 128.8,140.4 128.9,140.4 129.1,139.6 129.3,139.7 129.5,139.4 129.7,140.1 129.9,139.2 130.1,139.1 130.3,139.1 130.5,139.4 130.6,140.8 130.8,141.7 131.0,141.7 131.2,141.5 131.4,141.0 131.6,140.9 131.8,140.0 132.0,140.3 132.2,140.4 132.4,140.7 132.5,139.9 132.7,140.0 132.9,139.8 133.1,140.2 133.3,140.8 133.5,140.9 133.7,140.0 133.9,139.5 134.1,139.0 134.2,139.3 134.4,139.9 134.6,141.5 134.8,141.9 135.0,141.0 135.2,140.3 135.4,139.2 135.6,139.3 135.8,139.7 136.0,141.0 136.1,140.7 136.3,139.3 136.5,139.3 136.7,139.9 136.9,140.4 137.1,140.2 137.3,140.0 137.5,139.4 137.7,139.6 137.8,139.6 138.0,140.0 138.2,139.0 138.4,139.4 138.6,139.5 138.8,140.4 139.0,140.1 139.2,141.0 139.4,140.5 139.6,140.4 139.7,139.1 139.9,138.8 140.1,139.3 140.3,141.5 140.5,141.5 140.7,140.7 140.9,139.5 141.1,140.3 141.3,140.4 141.4,140.3 141.6,139.4 141.8,139.6 142.0,140.0 142.2,141.4 142.4,141.4 142.6,140.9 142.8,140.4 143.0,141.0 143.1,141.3 143.3,140.8 143.5,140.5 143.7,140.7 143.9,140.7 144.1,140.0 144.3,139.8 144.5,140.2 144.7,141.2 144.9,141.1 145.0,140.6 145.2,140.0 145.4,139.6 145.6,139.4 145.8,139.4 146.0,139.6 146.2,140.5 146.4,140.2 146.6,140.4 146.7,139.7 146.9,140.9 147.1,141.0 147.3,141.1 147.5,140.8 147.7,140.7 147.9,140.7 148.1,141.0 148.3,141.3 148.5,142.2 148.6,142.1 148.8,142.1 149.0,141.4 149.2,140.5 149.4,140.4 149.6,140.4 149.8,141.2 150.0,140.9 150.2,140.6 150.3,139.8 150.5,140.1 150.7,141.0 150.9,141.3 151.1,141.2 151.3,141.3 151.5,141.0 151.7,140.7 151.9,139.6 152.1,140.5 152.2,140.8 152.4,141.0 152.6,139.8 152.8,139.6 153.0,140.3 153.2,140.9 153.4,140.8 153.6,140.6 153.8,140.2 153.9,140.4 154.1,140.4 154.3,140.6 154.5,140.2 154.7,140.1 154.9,140.4 155.1,140.6 155.3,140.6 155.5,140.8 155.6,140.5 155.8,140.1 156.0,140.2 156.2,141.1 156.4,142.0 156.6,141.4 156.8,141.4 157.0,141.1 157.2,141.5 157.4,141.2 157.5,141.3 157.7,142.1 157.9,141.4 158.1,141.3 158.3,140.5 158.5,140.9 158.7,141.1 158.9,141.5 159.1,141.2 159.2,140.6 159.4,140.3 159.6,140.1 159.8,140.6 160.0,140.5 160.2,141.2 160.4,141.0 160.6,141.8 160.8,141.7 161.0,141.4 161.1,141.4 161.3,141.2 161.5,141.1 161.7,139.8 161.9,140.5 162.1,140.8 162.3,141.6 162.5,141.2 162.7,141.0 162.8,140.5 163.0,140.1 163.2,140.3 163.4,140.7 163.6,141.8 163.8,141.3 164.0,141.0 164.2,139.9 164.4,140.8 164.6,140.5 164.7,141.3 164.9,141.3 165.1,141.8 165.3,141.7 165.5,140.2 165.7,140.1 165.9,139.1 166.1,140.1 166.3,140.3 166.4,140.6 166.6,141.0 166.8,141.1 167.0,141.2 167.2,140.6 167.4,139.8 167.6,140.0 167.8,141.1 168.0,141.4 168.2,141.7 168.3,140.6 168.5,141.2 168.7,141.2 168.9,141.4 169.1,140.3 169.3,139.9 169.5,140.5 169.7,141.1 169.9,141.6 170.0,140.9 170.2,140.2 170.4,140.1 170.6,140.5 170.8,141.1 171.0,140.7 171.2,140.7 171.4,140.7 171.6,141.0 171.7,140.8 171.9,140.1 172.1,139.8 172.3,139.7 172.5,140.3 172.7,140.6 172.9,140.6 173.1,141.2 173.3,141.5 173.5,141.8 173.6,140.9 173.8,140.1 174.0,140.5 174.2,141.0 174.4,141.0 174.6,140.6 174.8,140.9 175.0,141.4 175.2,141.7 175.3,141.1 175.5,140.9 175.7,140.5 175.9,140.8 176.1,140.1 176.3,140.1 176.5,139.5 176.7,141.0 176.9,141.8 177.1,143.1 177.2,142.8 177.4,142.0 177.6,141.7 177.8,141.2 178.0,141.7 178.2,140.9 178.4,140.8 178.6,140.7 178.8,141.8 178.9,142.1 179.1,142.9 179.3,143.3 179.5,142.7 179.7,141.8 179.9,140.2 180.1,140.7 180.3,140.5 180.5,140.9 180.7,141.3 180.8,142.0 181.0,142.1 181.2,141.7 181.4,141.3 181.6,141.3 181.8,141.5 182.0,141.5 182.2,141.7 182.4,140.9 182.5,141.2 182.7,141.7 182.9,142.4 183.1,141.4 183.3,141.3 183.5,141.1 183.7,140.4 183.9,139.7 184.1,140.1 184.2,141.6 184.4,142.2 184.6,142.2 184.8,142.1 185.0,140.7 185.2,140.0 185.4,140.0 185.6,141.1 185.8,141.2 186.0,140.9 186.1,140.8 186.3,140.3 186.5,139.6 186.7,138.8 186.9,138.3 187.1,136.5 187.3,132.8 187.5,130.3 187.7,129.1 187.8,131.2 188.0,133.5 188.2,137.1 188.4,139.5 188.6,140.7 188.8,141.5 189.0,141.9 189.2,142.4 189.4,142.6 189.6,141.8 189.7,142.0 189.9,141.6 190.1,141.4 190.3,141.0 190.5,140.6 190.7,140.8 190.9,140.9 191.1,141.6 191.3,141.7 191.4,141.7 191.6,140.6 191.8,140.8 192.0,141.3 192.2,142.2 192.4,142.4 192.6,141.7 192.8,140.9 193.0,140.7 193.2,140.3 193.3,140.2 193.5,140.7 193.7,140.8 193.9,142.1 194.1,141.1 194.3,141.7 194.5,140.4 194.7,141.1 194.9,140.5 195.0,141.0 195.2,140.9 195.4,141.1 195.6,141.3 195.8,142.1 196.0,142.0 196.2,142.2 196.4,141.5 196.6,141.8 196.7,142.3 196.9,141.4 197.1,141.1 197.3,139.4 197.5,140.2 197.7,140.4 197.9,142.8 198.1,143.1 198.3,143.9 198.5,142.9 198.6,142.5 198.8,142.0 199.0,142.1 199.2,142.4 199.4,142.3 199.6,141.8 199.8,141.1 200.0,140.6 200.2,140.5 200.3,141.4 200.5,141.4 200.7,141.1 200.9,140.8 201.1,141.1 201.3,141.6 201.5,141.7 201.7,141.8 201.9,140.9 202.1,140.4 202.2,140.5 202.4,140.4 202.6,141.0 202.8,140.5 203.0,140.9 203.2,141.0 203.4,141.0 203.6,141.0 203.8,140.4 203.9,140.7 204.1,142.3 204.3,141.7 204.5,141.6 204.7,140.3 204.9,141.6 205.1,141.5 205.3,140.5 205.5,140.7 205.7,140.4 205.8,141.4 206.0,140.2 206.2,140.2 206.4,140.1 206.6,141.0 206.8,141.8 207.0,141.8 207.2,141.6 207.4,141.1 207.5,141.4 207.7,141.2 207.9,141.7 208.1,141.3 208.3,141.2 208.5,141.0 208.7,141.3 208.9,141.0 209.1,141.7 209.2,141.4 209.4,142.1 209.6,141.4 209.8,142.1 210.0,140.9 210.2,141.7 210.4,141.0 210.6,141.4 210.8,140.6 211.0,141.7 211.1,142.4 211.3,141.8 211.5,140.6 211.7,141.0 211.9,140.9 212.1,141.0 212.3,140.3 212.5,141.8 212.7,141.7 212.8,142.4 213.0,141.2 213.2,140.9 213.4,140.8 213.6,141.3 213.8,140.9 214.0,140.7 214.2,140.7 214.4,141.2 214.6,141.0 214.7,140.8 214.9,140.9 215.1,140.5 215.3,140.1 215.5,140.1 215.7,139.8 215.9,140.0 216.1,139.5 216.3,140.1 216.4,140.0 216.6,140.2 216.8,140.5 217.0,141.3 217.2,142.3 217.4,141.3 217.6,141.0 217.8,140.5 218.0,141.0 218.2,140.2 218.3,140.1 218.5,140.6 218.7,141.1 218.9,140.9 219.1,139.9 219.3,139.5 219.5,139.9 219.7,140.9 219.9,140.6 220.0,140.3 220.2,139.2 220.4,139.3 220.6,139.4 220.8,139.7 221.0,139.4 221.2,138.7 221.4,138.9 221.6,139.6 221.8,140.2 221.9,139.3 222.1,138.9 222.3,138.7 222.5,138.6 222.7,138.1 222.9,137.7 223.1,138.1 223.3,138.0 223.5,138.2 223.6,137.9 223.8,137.8 224.0,137.1 224.2,136.6 224.4,137.0 224.6,137.0 224.8,136.2 225.0,135.1 225.2,135.0 225.3,135.3 225.5,135.8 225.7,135.2 225.9,135.5 226.1,134.5 226.3,134.6 226.5,133.3 226.7,133.8 226.9,133.6 227.1,133.0 227.2,132.6 227.4,131.6 227.6,131.7 227.8,131.2 228.0,130.5 228.2,129.9 228.4,129.8 228.6,130.2 228.8,129.9 228.9,128.7 229.1,128.8 229.3,129.1 229.5,129.4 229.7,127.6 229.9,126.4 230.1,125.9 230.3,125.4 230.5,125.7 230.7,125.1 230.8,125.1 231.0,123.5 231.2,122.4 231.4,121.2 231.6,120.9 231.8,120.3 232.0,119.7 232.2,118.8 232.4,118.0 232.5,117.8 232.7,116.7 232.9,115.3 233.1,113.9 233.3,113.6 233.5,112.9 233.7,112.0 233.9,110.5 234.1,109.9 234.3,109.0 234.4,107.9 234.6,106.8 234.8,107.7 235.0,109.3 235.2,110.6 235.4,111.5 235.6,112.0 235.8,112.5 236.0,113.4 236.1,114.0 236.3,115.0 236.5,114.9 236.7,116.1 236.9,116.7 237.1,117.9 237.3,119.2 237.5,120.0 237.7,121.2 237.8,121.7 238.0,122.4 238.2,123.8 238.4,124.3 238.6,125.3 238.8,124.8 239.0,125.3 239.2,125.6 239.4,126.5 239.6,127.0 239.7,127.6 239.9,128.8 240.1,129.5 240.3,129.8 240.5,129.4 240.7,130.9 240.9,132.0 241.1,132.8 241.3,132.4 241.4,131.8 241.6,131.9 241.8,132.0 242.0,132.7 242.2,132.7 242.4,132.6 242.6,133.1 242.8,133.9 243.0,133.7 243.2,133.8 243.3,134.5 243.5,135.4 243.7,135.7 243.9,134.9 244.1,135.8 244.3,135.5 244.5,135.9 244.7,135.6 244.9,137.3 245.0,137.9 245.2,137.7 245.4,137.1 245.6,137.7 245.8,139.2 246.0,138.7 246.2,138.1 246.4,137.5 246.6,138.3 246.8,139.3 246.9,140.1 247.1,139.5 247.3,139.1 247.5,138.7 247.7,139.8 247.9,140.4 248.1,140.4 248.3,139.7 248.5,139.9 248.6,140.6 248.8,142.2 249.0,141.8 249.2,142.2 249.4,140.6 249.6,140.5 249.8,139.6 250.0,139.9 250.2,139.9 250.3,140.0 250.5,140.2 250.7,140.4 250.9,141.0 251.1,141.0 251.3,141.2 251.5,141.6 251.7,141.8 251.9,141.9 252.1,141.4 252.2,141.3 252.4,141.5 252.6,141.2 252.8,141.7 253.0,142.1 253.2,143.0 253.4,142.3 253.6,141.0 253.8,140.4 253.9,140.7 254.1,141.8 254.3,141.9 254.5,141.7 254.7,142.0 254.9,141.9 255.1,142.5 255.3,142.2 255.5,142.0 255.7,141.7 255.8,141.1 256.0,141.3 256.2,140.4 256.4,140.0 256.6,140.6 256.8,141.2 257.0,142.0 257.2,141.4 257.4,141.4 257.5,141.2 257.7,141.0 257.9,140.5 258.1,140.8 258.3,141.5 258.5,141.9 258.7,141.7 258.9,141.9 259.1,143.1 259.3,142.8 259.4,142.8 259.6,142.9 259.8,143.3 260.0,143.7 260.2,141.7 260.4,142.3 260.6,141.7 260.8,142.0 261.0,141.7 261.1,142.2 261.3,143.5 261.5,143.7 261.7,143.3 261.9,142.4 262.1,141.7 262.3,141.8 262.5,142.3 262.7,142.3 262.9,142.3 263.0,142.5 263.2,142.9 263.4,143.8 263.6,144.4 263.8,143.8 264.0,142.6 264.2,141.1 264.4,141.1 264.6,141.6 264.7,141.7 264.9,141.8 265.1,141.5 265.3,142.2 265.5,142.5 265.7,142.5 265.9,142.6 266.1,142.9 266.3,143.3 266.4,143.3 266.6,142.7 266.8,142.6 267.0,141.9 267.2,142.8 267.4,143.1 267.6,142.9 267.8,143.0 268.0,142.2 268.2,143.1 268.3,142.7 268.5,142.8 268.7,141.8 268.9,141.6 269.1,142.0 269.3,142.2 269.5,142.5 269.7,142.0 269.9,142.3 270.0,142.0 270.2,141.8 270.4,142.0 270.6,141.5 270.8,141.2 271.0,140.8 271.2,141.3 271.4,142.7 271.6,142.8 271.8,143.5 271.9,143.7 272.1,144.4 272.3,144.4 272.5,143.9 272.7,143.2 272.9,142.9 273.1,143.2 273.3,143.5 273.5,143.2 273.6,142.1 273.8,142.3 274.0,142.5 274.2,142.7 274.4,142.4 274.6,142.6 274.8,143.1 275.0,143.4 275.2,143.4 275.4,142.8 275.5,142.4 275.7,142.3 275.9,143.3 276.1,144.0 276.3,143.0 276.5,142.6 276.7,142.3 276.9,143.6 277.1,144.4 277.2,143.7 277.4,143.0 277.6,141.9 277.8,142.6 278.0,142.2 278.2,143.2 278.4,143.2 278.6,144.0 278.8,142.6 278.9,141.9 279.1,142.0 279.3,142.3 279.5,142.5 279.7,142.2 279.9,143.1 280.1,143.4 280.3,143.5 280.5,143.0 280.7,142.9 280.8,142.7 281.0,143.2 281.2,143.1 281.4,143.6 281.6,142.6 281.8,143.2 282.0,142.7 282.2,143.9 282.4,143.4 282.5,143.9 282.7,144.0 282.9,143.7 283.1,143.4 283.3,142.7 283.5,143.0 283.7,142.3 283.9,142.3 284.1,142.1 284.3,142.5 284.4,142.5 284.6,141.9 284.8,142.9 285.0,143.2 285.2,144.6 285.4,143.7 285.6,143.0 285.8,142.3 286.0,141.9 286.1,142.5 286.3,142.1 286.5,142.7 286.7,142.7 286.9,143.0 287.1,144.0 287.3,144.2 287.5,143.6 287.7,143.2 287.9,142.4 288.0,143.0 288.2,142.0 288.4,142.2 288.6,142.8 288.8,143.1 289.0,143.1 289.2,142.3 289.4,142.5 289.6,143.3 289.7,143.1 289.9,142.7 290.1,142.3 290.3,142.2 290.5,142.5 290.7,142.8 290.9,143.5 291.1,143.4 291.3,142.6 291.4,142.2 291.6,142.2 291.8,142.6 292.0,143.5 292.2,144.2 292.4,143.9 292.6,143.0 292.8,142.9 293.0,142.4 293.2,142.5 293.3,142.1 293.5,142.4 293.7,142.1 293.9,142.4 294.1,142.2 294.3,142.2 294.5,141.8 294.7,142.5 294.9,142.4 295.0,143.1 295.2,142.9 295.4,143.4 295.6,142.8 295.8,142.6 296.0,142.3 296.2,143.0 296.4,143.4 296.6,143.7 296.8,143.7 296.9,143.3 297.1,143.6 297.3,143.2 297.5,143.1 297.7,143.2 297.9,142.5 298.1,143.2 298.3,142.5 298.5,143.3 298.6,143.6 298.8,144.2 299.0,143.8 299.2,143.2 299.4,142.8 299.6,142.6 299.8,142.1 300.0,142.3 300.2,143.0 300.4,142.7 300.5,142.7 300.7,142.7 300.9,143.5 301.1,143.1 301.3,143.3 301.5,142.7 301.7,143.5 301.9,143.7 302.1,143.3 302.2,143.2 302.4,142.6 302.6,143.6 302.8,143.2 303.0,142.9 303.2,142.2 303.4,142.6 303.6,143.0 303.8,143.3 303.9,142.8 304.1,142.4 304.3,142.7 304.5,143.1 304.7,143.3 304.9,143.3 305.1,142.7 305.3,141.6 305.5,141.8 305.7,143.0 305.8,143.6 306.0,143.0 306.2,142.5 306.4,143.6 306.6,144.1 306.8,144.5 307.0,144.1 307.2,144.0 307.4,143.6 307.5,143.5 307.7,143.8 307.9,143.9 308.1,144.5 308.3,143.8 308.5,144.0 308.7,143.2 308.9,143.5 309.1,142.0 309.3,142.0 309.4,142.1 309.6,143.0 309.8,143.5 310.0,142.6 310.2,143.4 310.4,143.6 310.6,144.3 310.8,143.8 311.0,143.7 311.1,144.3 311.3,144.2 311.5,143.4 311.7,142.7 311.9,143.2 312.1,144.1 312.3,144.0 312.5,143.7 312.7,143.5 312.9,144.0 313.0,143.0 313.2,142.6 313.4,142.6 313.6,143.2 313.8,143.7 314.0,144.3 314.2,144.3 314.4,144.2 314.6,143.2 314.7,143.0 314.9,142.9 315.1,142.5 315.3,141.9 315.5,142.5 315.7,143.1 315.9,144.5 316.1,143.9 316.3,144.0 316.5,143.8 316.6,144.1 316.8,143.5 317.0,143.8 317.2,143.1 317.4,143.6 317.6,144.2 317.8,144.7 318.0,145.3 318.2,144.1 318.3,144.3 318.5,143.6 318.7,143.9 318.9,143.3 319.1,142.9 319.3,142.9 319.5,142.6 319.7,142.6 319.9,142.8 320.0,143.2 320.2,143.1 320.4,142.4 320.6,142.7 320.8,142.9 321.0,143.5 321.2,143.3 321.4,144.3 321.6,144.0 321.8,143.3 321.9,142.5 322.1,142.7 322.3,143.6 322.5,142.9 322.7,143.4 322.9,143.3 323.1,144.0 323.3,142.8 323.5,143.0 323.6,143.0 323.8,144.3 324.0,143.9 324.2,143.4 324.4,142.9 324.6,142.7 324.8,143.4 325.0,142.8 325.2,143.2 325.4,142.9 325.5,143.3 325.7,143.2 325.9,142.9 326.1,142.9 326.3,142.9 326.5,143.3 326.7,143.2 326.9,142.5 327.1,142.4 327.2,143.1 327.4,144.2 327.6,144.5 327.8,144.1 328.0,143.8 328.2,142.9 328.4,143.1 328.6,143.7 328.8,144.5 329.0,144.4 329.1,144.1 329.3,143.8 329.5,143.8 329.7,143.6 329.9,143.8 330.1,143.3 330.3,143.0 330.5,143.1 330.7,143.4 330.8,142.6 331.0,142.4 331.2,141.6 331.4,143.4 331.6,143.7 331.8,144.9 332.0,143.8 332.2,143.1 332.4,142.7 332.5,143.0 332.7,143.1 332.9,143.3 333.1,143.6 333.3,144.1 333.5,143.6 333.7,142.4 333.9,142.2 334.1,142.4 334.3,143.4 334.4,144.1 334.6,145.1 334.8,145.0 335.0,144.8 335.2,144.8 335.4,144.7 335.6,144.3 335.8,144.0 336.0,144.0 336.1,143.7 336.3,143.0 336.5,143.0 336.7,143.0 336.9,143.6 337.1,143.5 337.3,144.3 337.5,144.5 337.7,144.1 337.9,144.0 338.0,143.3 338.2,144.4 338.4,144.2 338.6,144.3 338.8,144.0 339.0,143.6 339.2,143.7 339.4,143.6 339.6,143.8 339.7,143.8 339.9,143.2 340.1,143.5 340.3,142.9 340.5,143.5 340.7,143.5 340.9,144.3 341.1,143.8 341.3,144.9 341.5,144.5 341.6,144.8 341.8,143.2 342.0,143.9 342.2,143.7 342.4,144.4 342.6,143.4 342.8,143.7 343.0,143.2 343.2,143.9 343.3,143.7 343.5,143.5 343.7,143.3 343.9,142.9 344.1,142.9 344.3,143.0 344.5,142.7 344.7,143.4 344.9,143.0 345.0,143.4 345.2,143.1 345.4,143.6 345.6,143.7 345.8,143.5 346.0,143.6 346.2,144.2 346.4,144.2 346.6,143.6 346.8,142.9 346.9,142.7 347.1,143.2 347.3,143.9 347.5,144.2 347.7,144.5 347.9,144.2 348.1,143.9 348.3,143.2 348.5,144.1 348.6,143.4 348.8,143.7 349.0,143.1 349.2,143.9 349.4,144.8 349.6,145.1 349.8,145.4 350.0,144.0 350.2,143.8 350.4,143.3 350.5,143.7 350.7,143.6 350.9,143.5 351.1,143.8 351.3,144.4 351.5,145.0 351.7,144.8 351.9,143.4 352.1,143.4 352.2,143.7 352.4,144.4 352.6,143.8 352.8,143.6 353.0,143.4 353.2,143.9 353.4,143.2 353.6,143.2 353.8,142.8 354.0,142.7 354.1,143.1 354.3,143.3 354.5,143.3 354.7,143.7 354.9,143.3 355.1,144.0 355.3,143.7 355.5,143.8 355.7,143.3 355.8,142.6 356.0,142.5 356.2,142.4 356.4,143.7 356.6,144.4 356.8,144.2 357.0,143.8 357.2,143.5 357.4,143.9 357.6,143.8 357.7,144.0 357.9,143.9 358.1,143.6 358.3,143.4 358.5,143.2 358.7,143.4 358.9,143.3 359.1,143.4 359.3,143.0 359.4,143.2 359.6,143.8 359.8,144.3 360.0,143.8 360.2,143.8 360.4,143.7 360.6,144.3 360.8,144.4 361.0,144.0 361.1,143.7 361.3,143.0 361.5,143.0 361.7,143.9 361.9,144.5 362.1,144.1 362.3,143.5 362.5,142.9 362.7,144.1 362.9,143.9 363.0,144.1 363.2,143.7 363.4,143.8 363.6,143.9 363.8,143.7 364.0,143.5 364.2,143.7 364.4,143.4 364.6,143.4 364.7,143.2 364.9,143.4 365.1,143.7 365.3,143.2 365.5,143.3 365.7,142.7 365.9,143.4 366.1,143.4 366.3,143.7 366.5,143.7 366.6,143.2 366.8,143.4 367.0,142.9 367.2,143.4 367.4,143.2 367.6,143.8 367.8,144.3 368.0,145.0 368.2,144.8 368.3,144.3 368.5,143.3 368.7,143.5 368.9,144.4 369.1,144.7 369.3,144.2 369.5,143.7 369.7,143.7 369.9,143.9 370.1,143.5 370.2,142.4 370.4,142.1 370.6,142.9 370.8,144.0 371.0,143.3 371.2,142.9 371.4,142.0 371.6,143.7 371.8,143.8 371.9,144.1 372.1,143.6 372.3,143.2 372.5,143.9 372.7,143.6 372.9,143.4 373.1,143.5 373.3,142.9 373.5,143.9 373.6,143.7 373.8,143.8 374.0,142.5 374.2,143.2 374.4,144.2 374.6,144.4 374.8,144.4 375.0,143.9 375.2,144.3 375.4,143.6 375.5,143.4 375.7,144.1 375.9,144.2 376.1,143.6 376.3,143.8 376.5,144.1 376.7,144.4 376.9,143.4 377.1,142.7 377.2,143.2 377.4,143.5 377.6,144.0 377.8,143.7 378.0,143.2 378.2,143.5 378.4,143.7 378.6,144.9 378.8,144.2 379.0,144.6 379.1,143.7 379.3,143.7 379.5,143.9 379.7,144.0 379.9,143.9 380.1,143.2 380.3,143.6 380.5,143.5 380.7,144.2 380.8,144.0 381.0,144.4 381.2,144.4 381.4,144.8 381.6,145.2 381.8,144.7 382.0,144.7 382.2,145.1 382.4,144.7 382.6,143.8 382.7,143.1 382.9,143.3 383.1,142.8 383.3,143.3 383.5,143.5 383.7,144.1 383.9,144.3 384.1,144.1 384.3,144.0 384.4,143.5 384.6,143.6 384.8,143.6 385.0,143.8 385.2,143.9 385.4,144.5 385.6,143.9 385.8,144.0 386.0,142.9 386.1,143.1 386.3,142.8 386.5,143.9 386.7,144.2 386.9,144.7 387.1,144.9 387.3,145.2 387.5,145.3 387.7,144.3 387.9,143.1 388.0,142.8 388.2,142.9 388.4,143.3 388.6,143.2 388.8,142.6 389.0,143.5 389.2,143.1 389.4,143.5 389.6,143.2 389.7,143.0 389.9,143.6 390.1,143.8 390.3,144.3 390.5,143.5 390.7,142.9 390.9,142.3 391.1,143.3 391.3,143.5 391.5,144.0 391.6,143.0 391.8,143.2 392.0,144.2 392.2,144.0 392.4,143.5 392.6,142.2 392.8,143.0 393.0,143.3 393.2,144.9 393.3,144.6 393.5,144.4 393.7,143.2 393.9,143.6 394.1,143.1 394.3,143.7 394.5,143.4 394.7,143.9 394.9,143.2 395.1,143.5 395.2,144.5 395.4,144.7 395.6,144.5 395.8,144.4 396.0,144.4 396.2,144.0 396.4,142.8 396.6,143.0 396.8,143.1 396.9,143.4 397.1,143.2 397.3,142.6 397.5,142.2 397.7,142.1 397.9,143.0 398.1,143.3 398.3,143.4 398.5,143.4 398.6,143.8 398.8,143.9 399.0,143.3 399.2,143.4 399.4,143.8 399.6,143.8 399.8,143.6 400.0,143.4 400.2,144.2 400.4,143.8 400.5,144.1 400.7,143.9 400.9,143.8 401.1,143.9 401.3,144.1 401.5,143.9 401.7,144.3 401.9,143.5 402.1,143.6 402.2,142.7 402.4,143.5 402.6,144.1 402.8,144.2 403.0,144.4 403.2,144.4 403.4,145.0 403.6,145.6 403.8,145.5 404.0,143.9 404.1,142.5 404.3,142.0 404.5,143.1 404.7,143.3 404.9,143.3 405.1,142.7 405.3,142.6 405.5,143.0 405.7,142.4 405.8,142.9 406.0,143.0 406.2,144.1 406.4,143.8 406.6,143.4 406.8,143.4 407.0,143.7 407.2,144.5 407.4,144.8 407.6,144.2 407.7,143.4 407.9,143.8 408.1,144.1 408.3,144.3 408.5,142.8 408.7,142.2 408.9,141.6 409.1,143.0 409.3,143.5 409.4,144.0 409.6,143.3 409.8,144.3 410.0,145.2 410.2,144.7 410.4,143.6 410.6,142.5 410.8,142.4 411.0,142.5 411.2,144.1 411.3,145.4 411.5,145.4 411.7,144.2 411.9,143.6 412.1,144.0 412.3,143.6 412.5,142.7 412.7,143.1 412.9,143.8 413.0,145.3 413.2,144.6 413.4,145.1 413.6,144.2 413.8,144.3 414.0,144.3 414.2,145.0 414.4,144.6 414.6,144.3 414.7,143.6 414.9,143.2 415.1,143.0 415.3,143.9 415.5,144.9 415.7,144.1 415.9,143.9 416.1,143.8 416.3,144.2 416.5,142.7 416.6,142.9 416.8,143.4 417.0,144.7 417.2,143.5 417.4,142.5 417.6,142.7 417.8,143.8 418.0,144.7 418.2,144.1 418.3,144.0 418.5,143.5 418.7,143.5 418.9,142.9 419.1,143.3 419.3,143.2 419.5,144.0 419.7,144.2 419.9,144.0 420.1,144.4 420.2,143.6 420.4,144.1 420.6,143.8 420.8,144.8 421.0,143.6 421.2,143.5 421.4,143.4 421.6,144.9 421.8,143.5 421.9,142.6 422.1,141.8 422.3,142.4 422.5,143.2 422.7,142.7 422.9,143.3 423.1,142.8 423.3,142.3 423.5,141.1 423.7,140.5 423.8,141.0 424.0,141.7 424.2,141.7 424.4,141.9 424.6,140.7 424.8,139.4 425.0,138.9 425.2,139.7 425.4,140.9 425.5,140.7 425.7,140.8 425.9,141.9 426.1,142.4 426.3,142.0 426.5,141.0 426.7,142.1 426.9,142.6 427.1,143.4 427.2,143.2 427.4,143.9 427.6,143.4 427.8,143.4 428.0,143.4 428.2,144.2 428.4,144.3 428.6,143.8 428.8,143.6 429.0,143.0 429.1,143.6 429.3,143.4 429.5,143.8 429.7,143.0 429.9,143.3 430.1,143.0 430.3,143.4 430.5,143.5 430.7,143.6 430.8,143.6 431.0,142.6 431.2,143.2 431.4,143.0 431.6,143.8 431.8,143.0 432.0,143.7 432.2,143.4 432.4,143.9 432.6,144.0 432.7,145.1 432.9,145.4 433.1,145.2 433.3,144.0 433.5,144.0 433.7,144.2 433.9,145.1 434.1,144.9 434.3,144.4 434.4,143.8 434.6,144.0 434.8,144.5 435.0,144.3 435.2,144.2 435.4,143.7 435.6,144.6 435.8,144.3 436.0,144.7 436.2,144.7 436.3,145.0 436.5,143.9 436.7,143.8 436.9,143.5 437.1,143.6 437.3,143.5 437.5,142.9 437.7,143.8 437.9,144.2 438.0,144.6 438.2,144.6 438.4,144.1 438.6,144.6 438.8,143.6 439.0,143.7 439.2,143.5 439.4,144.4 439.6,144.1 439.7,144.5 439.9,144.3 440.1,144.6 440.3,144.7 440.5,144.7 440.7,144.8 440.9,144.3 441.1,144.5 441.3,143.8 441.5,144.1 441.6,144.4 441.8,144.5 442.0,144.6 442.2,144.2 442.4,143.8 442.6,143.6 442.8,144.0 443.0,144.2 443.2,143.3 443.3,142.8 443.5,142.8 443.7,144.4 443.9,144.2 444.1,144.5 444.3,143.4 444.5,143.6 444.7,143.3 444.9,143.2 445.1,143.1 445.2,143.0 445.4,143.9 445.6,143.5 445.8,143.8 446.0,143.2" fill="none" stroke="#d62728" stroke-width="2.7" stroke-linejoin="round"/>
<polyline points="67.2,104.1 67.4,104.9 67.6,104.3 67.8,105.5 68.0,104.2 68.1,105.1 68.3,105.5 68.5,105.2 68.7,104.5 68.9,104.1 69.1,105.1 69.3,105.5 69.5,104.9 69.7,104.4 69.9,104.7 70.0,105.4 70.2,105.6 70.4,105.6 70.6,105.5 70.8,106.5 71.0,106.2 71.2,105.9 71.4,104.8 71.6,104.8 71.7,104.5 71.9,104.4 72.1,104.0 72.3,103.3 72.5,103.3 72.7,104.1 72.9,105.4 73.1,105.5 73.3,105.4 73.5,105.2 73.6,105.7 73.8,105.8 74.0,105.5 74.2,105.9 74.4,105.9 74.6,105.7 74.8,104.2 75.0,104.5 75.2,104.6 75.3,106.1 75.5,105.8 75.7,106.3 75.9,105.9 76.1,106.7 76.3,105.8 76.5,106.1 76.7,105.4 76.9,105.9 77.0,105.1 77.2,105.0 77.4,104.9 77.6,104.0 77.8,104.4 78.0,104.6 78.2,105.2 78.4,104.9 78.6,105.9 78.8,106.5 78.9,106.3 79.1,106.1 79.3,105.6 79.5,105.7 79.7,104.7 79.9,105.0 80.1,105.4 80.3,105.8 80.5,105.6 80.6,105.3 80.8,105.1 81.0,105.2 81.2,105.3 81.4,104.9 81.6,104.8 81.8,104.8 82.0,104.7 82.2,105.2 82.4,105.1 82.5,105.2 82.7,104.7 82.9,104.6 83.1,104.9 83.3,105.2 83.5,105.4 83.7,105.1 83.9,105.6 84.1,106.1 84.2,106.5 84.4,106.3 84.6,106.1 84.8,105.9 85.0,105.6 85.2,106.6 85.4,107.1 85.6,107.5 85.8,106.2 86.0,106.1 86.1,106.6 86.3,106.9 86.5,107.1 86.7,106.7 86.9,106.8 87.1,107.0 87.3,106.6 87.5,106.6 87.7,105.6 87.8,106.6 88.0,106.6 88.2,106.9 88.4,106.4 88.6,106.0 88.8,106.0 89.0,105.1 89.2,105.3 89.4,105.1 89.5,105.7 89.7,105.6 89.9,105.6 90.1,105.2 90.3,105.2 90.5,105.3 90.7,105.8 90.9,106.1 91.1,106.4 91.3,105.5 91.4,105.4 91.6,104.9 91.8,105.4 92.0,105.2 92.2,105.5 92.4,105.1 92.6,104.8 92.8,105.9 93.0,106.1 93.1,106.4 93.3,105.9 93.5,106.2 93.7,106.7 93.9,105.8 94.1,105.2 94.3,106.1 94.5,106.6 94.7,107.0 94.9,105.7 95.0,106.1 95.2,105.7 95.4,105.8 95.6,105.4 95.8,106.1 96.0,106.1 96.2,105.9 96.4,105.2 96.6,104.2 96.7,104.8 96.9,104.5 97.1,105.4 97.3,105.7 97.5,106.1 97.7,106.6 97.9,105.8 98.1,106.2 98.3,106.0 98.5,105.9 98.6,106.2 98.8,106.0 99.0,105.7 99.2,105.0 99.4,105.3 99.6,105.4 99.8,105.9 100.0,106.0 100.2,107.4 100.3,106.8 100.5,106.7 100.7,105.2 100.9,105.2 101.1,105.0 101.3,105.9 101.5,106.0 101.7,106.0 101.9,105.5 102.0,105.4 102.2,105.6 102.4,106.0 102.6,106.5 102.8,106.8 103.0,107.1 103.2,106.0 103.4,105.4 103.6,104.9 103.8,105.3 103.9,106.0 104.1,106.4 104.3,106.6 104.5,106.2 104.7,106.4 104.9,106.3 105.1,106.2 105.3,106.0 105.5,106.4 105.6,107.1 105.8,106.9 106.0,107.0 106.2,106.2 106.4,105.6 106.6,105.3 106.8,104.5 107.0,105.0 107.2,105.4 107.4,106.6 107.5,106.3 107.7,106.4 107.9,106.3 108.1,106.8 108.3,107.3 108.5,107.6 108.7,107.6 108.9,106.9 109.1,106.7 109.2,106.4 109.4,106.3 109.6,106.6 109.8,105.8 110.0,105.7 110.2,105.5 110.4,105.8 110.6,105.9 110.8,105.3 111.0,105.9 111.1,106.3 111.3,107.2 111.5,107.2 111.7,106.6 111.9,106.1 112.1,106.1 112.3,107.0 112.5,106.0 112.7,105.9 112.8,104.6 113.0,105.8 113.2,105.8 113.4,106.8 113.6,106.8 113.8,106.8 114.0,106.3 114.2,106.1 114.4,106.5 114.5,106.7 114.7,106.6 114.9,105.6 115.1,106.1 115.3,105.9 115.5,106.1 115.7,105.4 115.9,105.3 116.1,105.5 116.3,106.2 116.4,106.9 116.6,107.6 116.8,107.7 117.0,107.0 117.2,106.6 117.4,106.6 117.6,107.9 117.8,107.1 118.0,105.9 118.1,105.2 118.3,105.6 118.5,105.8 118.7,105.8 118.9,105.6 119.1,105.1 119.3,104.9 119.5,105.3 119.7,106.5 119.9,106.9 120.0,106.9 120.2,106.6 120.4,105.9 120.6,105.2 120.8,105.1 121.0,105.8 121.2,106.7 121.4,107.8 121.6,107.3 121.7,106.3 121.9,105.8 122.1,106.3 122.3,106.5 122.5,105.5 122.7,105.2 122.9,105.9 123.1,106.1 123.3,105.9 123.5,105.3 123.6,105.3 123.8,104.9 124.0,105.3 124.2,105.6 124.4,105.9 124.6,104.8 124.8,105.7 125.0,105.5 125.2,106.6 125.3,105.4 125.5,105.9 125.7,105.4 125.9,105.9 126.1,105.6 126.3,106.6 126.5,106.2 126.7,106.0 126.9,105.5 127.1,106.8 127.2,106.5 127.4,106.7 127.6,105.6 127.8,106.3 128.0,106.5 128.2,106.8 128.4,106.8 128.6,106.6 128.8,106.3 128.9,106.1 129.1,105.3 129.3,105.4 129.5,105.2 129.7,105.8 129.9,106.2 130.1,106.7 130.3,107.0 130.5,107.2 130.6,106.0 130.8,106.0 131.0,105.6 131.2,106.5 131.4,105.8 131.6,106.0 131.8,106.6 132.0,107.5 132.2,107.3 132.4,107.1 132.5,107.0 132.7,107.8 132.9,108.1 133.1,107.7 133.3,107.0 133.5,106.6 133.7,106.6 133.9,106.4 134.1,106.6 134.2,106.3 134.4,106.1 134.6,106.0 134.8,106.0 135.0,106.3 135.2,105.3 135.4,105.8 135.6,105.9 135.8,106.7 136.0,106.6 136.1,106.7 136.3,106.5 136.5,107.1 136.7,106.8 136.9,107.5 137.1,107.5 137.3,107.4 137.5,107.0 137.7,105.9 137.8,106.6 138.0,106.5 138.2,106.4 138.4,106.5 138.6,107.0 138.8,107.1 139.0,107.0 139.2,106.7 139.4,108.2 139.6,108.4 139.7,108.1 139.9,106.9 140.1,105.8 140.3,106.1 140.5,106.3 140.7,106.9 140.9,106.9 141.1,106.3 141.3,105.7 141.4,106.2 141.6,107.3 141.8,107.6 142.0,106.9 142.2,106.4 142.4,106.5 142.6,105.8 142.8,106.3 143.0,106.0 143.1,106.8 143.3,105.3 143.5,105.7 143.7,106.2 143.9,106.3 144.1,106.9 144.3,106.5 144.5,107.1 144.7,105.9 144.9,106.1 145.0,106.6 145.2,107.5 145.4,106.9 145.6,106.4 145.8,106.6 146.0,106.3 146.2,107.0 146.4,105.9 146.6,106.0 146.7,105.0 146.9,106.2 147.1,105.9 147.3,106.0 147.5,105.7 147.7,106.6 147.9,108.0 148.1,108.4 148.3,108.6 148.5,108.0 148.6,106.5 148.8,105.9 149.0,105.4 149.2,106.1 149.4,105.9 149.6,105.7 149.8,105.4 150.0,106.4 150.2,107.0 150.3,107.2 150.5,106.6 150.7,106.6 150.9,106.4 151.1,106.5 151.3,105.6 151.5,106.2 151.7,106.7 151.9,107.6 152.1,107.5 152.2,107.3 152.4,108.0 152.6,107.8 152.8,107.1 153.0,105.9 153.2,106.1 153.4,107.1 153.6,107.8 153.8,107.9 153.9,107.5 154.1,106.6 154.3,106.0 154.5,105.1 154.7,105.6 154.9,105.3 155.1,106.1 155.3,106.2 155.5,106.0 155.6,106.2 155.8,106.6 156.0,106.9 156.2,106.6 156.4,106.6 156.6,107.1 156.8,107.4 157.0,107.1 157.2,107.7 157.4,107.4 157.5,107.3 157.7,107.1 157.9,107.3 158.1,107.5 158.3,107.1 158.5,106.4 158.7,106.2 158.9,106.1 159.1,106.6 159.2,106.8 159.4,107.0 159.6,106.9 159.8,106.9 160.0,107.6 160.2,108.1 160.4,107.8 160.6,107.3 160.8,106.7 161.0,106.9 161.1,106.6 161.3,106.5 161.5,106.0 161.7,105.0 161.9,105.4 162.1,106.5 162.3,107.1 162.5,107.2 162.7,106.6 162.8,107.1 163.0,106.5 163.2,106.6 163.4,106.4 163.6,105.8 163.8,106.0 164.0,106.0 164.2,105.9 164.4,106.1 164.6,106.2 164.7,107.3 164.9,107.2 165.1,107.0 165.3,106.5 165.5,106.1 165.7,106.1 165.9,107.5 166.1,108.5 166.3,108.5 166.4,107.4 166.6,106.7 166.8,107.2 167.0,107.1 167.2,106.5 167.4,107.1 167.6,107.8 167.8,107.6 168.0,106.0 168.2,105.2 168.3,106.0 168.5,107.0 168.7,107.2 168.9,106.4 169.1,106.3 169.3,106.7 169.5,107.3 169.7,107.0 169.9,107.0 170.0,107.0 170.2,106.8 170.4,106.6 170.6,106.0 170.8,106.9 171.0,107.1 171.2,107.2 171.4,106.9 171.6,107.2 171.7,106.7 171.9,106.6 172.1,106.8 172.3,107.0 172.5,107.0 172.7,105.7 172.9,106.4 173.1,105.4 173.3,105.3 173.5,105.1 173.6,106.2 173.8,107.1 174.0,107.5 174.2,107.9 174.4,108.0 174.6,108.2 174.8,107.3 175.0,106.9 175.2,108.0 175.3,109.3 175.5,109.8 175.7,108.7 175.9,108.2 176.1,107.7 176.3,108.2 176.5,107.6 176.7,107.8 176.9,107.8 177.1,107.1 177.2,107.3 177.4,105.7 177.6,106.3 177.8,106.1 178.0,106.7 178.2,107.0 178.4,106.7 178.6,106.8 178.8,106.3 178.9,106.4 179.1,105.9 179.3,106.7 179.5,106.3 179.7,107.2 179.9,106.7 180.1,107.2 180.3,107.4 180.5,107.6 180.7,106.9 180.8,106.6 181.0,105.3 181.2,106.3 181.4,105.9 181.6,106.5 181.8,106.5 182.0,106.5 182.2,108.0 182.4,107.7 182.5,108.7 182.7,108.4 182.9,108.4 183.1,107.2 183.3,107.2 183.5,107.4 183.7,107.8 183.9,107.1 184.1,106.7 184.2,106.4 184.4,106.1 184.6,106.0 184.8,106.0 185.0,107.2 185.2,108.6 185.4,108.7 185.6,108.0 185.8,107.5 186.0,108.1 186.1,108.2 186.3,107.7 186.5,106.9 186.7,106.9 186.9,107.4 187.1,105.7 187.3,102.4 187.5,100.0 187.7,99.5 187.8,101.1 188.0,103.0 188.2,105.0 188.4,106.0 188.6,105.4 188.8,105.7 189.0,105.9 189.2,106.9 189.4,106.4 189.6,106.7 189.7,105.9 189.9,106.3 190.1,106.3 190.3,107.2 190.5,107.9 190.7,108.0 190.9,107.4 191.1,107.7 191.3,107.9 191.4,108.6 191.6,108.0 191.8,108.4 192.0,108.6 192.2,108.7 192.4,108.4 192.6,107.6 192.8,107.0 193.0,106.6 193.2,107.0 193.3,107.3 193.5,107.5 193.7,107.5 193.9,107.3 194.1,106.4 194.3,106.8 194.5,107.2 194.7,107.5 194.9,107.4 195.0,107.3 195.2,107.7 195.4,106.7 195.6,106.0 195.8,105.7 196.0,107.2 196.2,107.4 196.4,107.5 196.6,106.3 196.7,106.5 196.9,106.8 197.1,106.4 197.3,105.3 197.5,105.5 197.7,106.4 197.9,107.3 198.1,107.5 198.3,107.9 198.5,107.2 198.6,106.7 198.8,106.8 199.0,107.4 199.2,107.4 199.4,107.3 199.6,107.5 199.8,107.1 200.0,106.4 200.2,105.9 200.3,106.7 200.5,106.2 200.7,107.2 200.9,106.3 201.1,107.0 201.3,106.0 201.5,106.5 201.7,107.0 201.9,108.1 202.1,108.8 202.2,108.3 202.4,107.8 202.6,107.4 202.8,107.7 203.0,107.5 203.2,107.8 203.4,107.7 203.6,108.4 203.8,108.1 203.9,108.2 204.1,107.4 204.3,107.0 204.5,106.2 204.7,106.4 204.9,106.5 205.1,107.4 205.3,107.0 205.5,108.4 205.7,108.0 205.8,109.1 206.0,108.1 206.2,107.1 206.4,106.4 206.6,106.6 206.8,106.6 207.0,107.1 207.2,106.0 207.4,106.9 207.5,106.6 207.7,106.2 207.9,106.5 208.1,106.1 208.3,106.6 208.5,106.8 208.7,108.6 208.9,109.0 209.1,109.0 209.2,107.4 209.4,107.0 209.6,106.8 209.8,107.5 210.0,107.9 210.2,108.1 210.4,107.4 210.6,108.4 210.8,107.2 211.0,107.6 211.1,106.7 211.3,107.5 211.5,106.8 211.7,106.0 211.9,105.8 212.1,106.3 212.3,106.3 212.5,105.9 212.7,106.1 212.8,107.0 213.0,107.2 213.2,106.7 213.4,105.9 213.6,107.2 213.8,107.7 214.0,107.9 214.2,107.3 214.4,108.0 214.6,108.5 214.7,107.5 214.9,106.4 215.1,105.7 215.3,106.1 215.5,105.6 215.7,105.6 215.9,105.2 216.1,105.9 216.3,106.0 216.4,105.9 216.6,104.9 216.8,104.7 217.0,105.5 217.2,106.4 217.4,106.6 217.6,104.8 217.8,104.4 218.0,104.0 218.2,105.3 218.3,104.9 218.5,105.0 218.7,104.8 218.9,106.4 219.1,106.9 219.3,107.1 219.5,105.8 219.7,105.4 219.9,105.5 220.0,105.3 220.2,105.3 220.4,105.6 220.6,106.0 220.8,106.0 221.0,106.1 221.2,105.7 221.4,105.0 221.6,103.5 221.8,103.0 221.9,103.3 222.1,104.0 222.3,104.6 222.5,104.3 222.7,103.6 222.9,103.3 223.1,103.9 223.3,103.8 223.5,103.5 223.6,103.4 223.8,103.6 224.0,103.2 224.2,101.6 224.4,101.8 224.6,101.9 224.8,102.6 225.0,101.6 225.2,100.6 225.3,100.2 225.5,100.1 225.7,100.8 225.9,100.0 226.1,100.4 226.3,99.6 226.5,100.3 226.7,98.9 226.9,98.7 227.1,98.4 227.2,98.4 227.4,97.3 227.6,96.3 227.8,96.1 228.0,95.7 228.2,94.8 228.4,94.3 228.6,94.1 228.8,94.5 228.9,93.5 229.1,92.7 229.3,91.7 229.5,92.3 229.7,92.2 229.9,92.0 230.1,91.0 230.3,90.4 230.5,90.2 230.7,89.6 230.8,89.5 231.0,87.8 231.2,86.4 231.4,84.5 231.6,84.3 231.8,84.2 232.0,84.7 232.2,84.5 232.4,83.5 232.5,82.1 232.7,80.6 232.9,80.0 233.1,78.6 233.3,77.4 233.5,75.5 233.7,74.3 233.9,73.1 234.1,71.5 234.3,69.9 234.4,68.3 234.6,67.1 234.8,65.7 235.0,64.0 235.2,65.8 235.4,67.3 235.6,69.1 235.8,70.6 236.0,72.6 236.1,74.2 236.3,75.7 236.5,76.4 236.7,77.3 236.9,78.1 237.1,80.4 237.3,81.5 237.5,83.1 237.7,83.6 237.8,84.1 238.0,84.5 238.2,84.6 238.4,85.5 238.6,86.0 238.8,86.7 239.0,88.2 239.2,89.7 239.4,90.5 239.6,90.6 239.7,90.2 239.9,91.0 240.1,91.7 240.3,92.5 240.5,92.8 240.7,93.0 240.9,93.7 241.1,93.7 241.3,93.9 241.4,94.1 241.6,95.2 241.8,96.0 242.0,96.9 242.2,97.1 242.4,97.2 242.6,98.3 242.8,97.9 243.0,99.0 243.2,98.6 243.3,99.8 243.5,99.4 243.7,99.5 243.9,99.3 244.1,99.3 244.3,99.6 244.5,99.7 244.7,100.9 244.9,101.7 245.0,101.2 245.2,100.4 245.4,100.3 245.6,102.1 245.8,103.0 246.0,103.2 246.2,103.6 246.4,104.1 246.6,104.9 246.8,104.8 246.9,104.9 247.1,103.7 247.3,103.8 247.5,103.1 247.7,104.5 247.9,105.7 248.1,106.6 248.3,105.6 248.5,104.7 248.6,104.6 248.8,105.4 249.0,106.0 249.2,106.6 249.4,105.4 249.6,105.7 249.8,105.1 250.0,106.1 250.2,106.2 250.3,106.4 250.5,106.1 250.7,104.9 250.9,105.1 251.1,106.1 251.3,107.4 251.5,107.4 251.7,106.8 251.9,107.0 252.1,106.9 252.2,107.8 252.4,107.2 252.6,107.6 252.8,106.9 253.0,106.9 253.2,106.7 253.4,106.5 253.6,106.4 253.8,106.4 253.9,106.8 254.1,106.9 254.3,107.1 254.5,107.0 254.7,106.9 254.9,107.8 255.1,107.9 255.3,107.8 255.5,106.9 255.7,107.2 255.8,107.4 256.0,107.5 256.2,107.1 256.4,107.3 256.6,107.6 256.8,107.9 257.0,107.2 257.2,106.6 257.4,105.3 257.5,106.3 257.7,107.3 257.9,109.0 258.1,108.8 258.3,108.8 258.5,108.2 258.7,108.1 258.9,107.0 259.1,106.7 259.3,106.5 259.4,107.6 259.6,108.7 259.8,108.7 260.0,108.5 260.2,107.9 260.4,107.8 260.6,106.9 260.8,106.5 261.0,106.2 261.1,106.9 261.3,107.1 261.5,107.7 261.7,107.8 261.9,108.1 262.1,107.8 262.3,108.2 262.5,107.3 262.7,107.8 262.9,107.6 263.0,107.9 263.2,107.2 263.4,107.4 263.6,107.4 263.8,108.5 264.0,108.5 264.2,108.8 264.4,108.5 264.6,108.6 264.7,108.8 264.9,108.4 265.1,108.1 265.3,108.1 265.5,108.6 265.7,108.7 265.9,108.4 266.1,108.2 266.3,107.8 266.4,107.2 266.6,107.8 266.8,107.9 267.0,108.6 267.2,107.5 267.4,107.9 267.6,107.4 267.8,109.4 268.0,108.9 268.2,108.8 268.3,107.9 268.5,108.9 268.7,108.4 268.9,108.1 269.1,108.0 269.3,108.4 269.5,108.6 269.7,108.0 269.9,108.1 270.0,107.7 270.2,107.7 270.4,107.5 270.6,108.6 270.8,108.7 271.0,108.9 271.2,108.4 271.4,108.5 271.6,109.4 271.8,109.0 271.9,109.1 272.1,108.6 272.3,108.8 272.5,108.6 272.7,108.5 272.9,109.2 273.1,109.0 273.3,108.8 273.5,107.9 273.6,108.5 273.8,108.9 274.0,109.4 274.2,108.6 274.4,108.6 274.6,108.1 274.8,108.5 275.0,108.5 275.2,107.7 275.4,108.0 275.5,108.0 275.7,108.2 275.9,108.1 276.1,108.7 276.3,109.1 276.5,109.4 276.7,108.7 276.9,108.5 277.1,107.9 277.2,107.8 277.4,108.7 277.6,109.5 277.8,109.3 278.0,109.2 278.2,108.8 278.4,108.8 278.6,108.6 278.8,108.2 278.9,107.9 279.1,108.2 279.3,107.9 279.5,108.8 279.7,107.6 279.9,108.3 280.1,108.0 280.3,108.5 280.5,107.6 280.7,107.6 280.8,107.8 281.0,108.4 281.2,108.4 281.4,108.8 281.6,108.9 281.8,109.1 282.0,108.1 282.2,108.6 282.4,108.8 282.5,110.3 282.7,110.6 282.9,110.5 283.1,110.0 283.3,109.2 283.5,109.5 283.7,108.7 283.9,108.8 284.1,108.9 284.3,109.2 284.4,110.0 284.6,108.9 284.8,109.0 285.0,108.2 285.2,108.7 285.4,107.8 285.6,108.4 285.8,108.6 286.0,109.0 286.1,108.0 286.3,107.6 286.5,108.6 286.7,109.1 286.9,109.4 287.1,109.0 287.3,109.0 287.5,109.3 287.7,109.4 287.9,109.5 288.0,109.8 288.2,109.0 288.4,108.9 288.6,108.4 288.8,108.9 289.0,108.9 289.2,108.8 289.4,108.6 289.6,109.0 289.7,109.0 289.9,108.7 290.1,108.5 290.3,109.2 290.5,109.6 290.7,109.4 290.9,108.6 291.1,108.7 291.3,109.1 291.4,109.8 291.6,109.9 291.8,109.4 292.0,108.3 292.2,108.4 292.4,108.7 292.6,109.9 292.8,110.6 293.0,110.6 293.2,110.5 293.3,109.2 293.5,109.5 293.7,109.5 293.9,110.6 294.1,110.3 294.3,110.2 294.5,110.2 294.7,109.7 294.9,109.7 295.0,109.6 295.2,109.5 295.4,108.8 295.6,108.5 295.8,108.9 296.0,109.6 296.2,109.7 296.4,109.4 296.6,109.3 296.8,109.5 296.9,109.6 297.1,109.4 297.3,108.4 297.5,108.9 297.7,109.9 297.9,109.8 298.1,109.8 298.3,109.3 298.5,109.7 298.6,109.2 298.8,108.4 299.0,108.3 299.2,108.5 299.4,109.2 299.6,109.6 299.8,109.9 300.0,109.7 300.2,109.2 300.4,109.4 300.5,109.9 300.7,110.1 300.9,110.2 301.1,109.9 301.3,110.3 301.5,110.3 301.7,109.1 301.9,108.3 302.1,107.8 302.2,108.8 302.4,109.1 302.6,109.4 302.8,109.7 303.0,109.6 303.2,108.7 303.4,108.8 303.6,110.1 303.8,109.6 303.9,109.3 304.1,108.4 304.3,108.5 304.5,108.4 304.7,107.8 304.9,108.4 305.1,109.1 305.3,110.0 305.5,110.6 305.7,110.1 305.8,110.1 306.0,110.2 306.2,109.4 306.4,109.1 306.6,109.1 306.8,109.3 307.0,109.2 307.2,109.4 307.4,110.3 307.5,110.3 307.7,109.4 307.9,109.0 308.1,109.4 308.3,109.5 308.5,109.5 308.7,109.6 308.9,109.9 309.1,110.9 309.3,111.3 309.4,111.6 309.6,110.8 309.8,111.4 310.0,111.6 310.2,110.8 310.4,109.7 310.6,109.3 310.8,109.4 311.0,109.3 311.1,109.4 311.3,109.6 311.5,109.3 311.7,109.6 311.9,108.9 312.1,109.5 312.3,109.1 312.5,109.9 312.7,108.6 312.9,109.3 313.0,108.4 313.2,109.1 313.4,108.6 313.6,109.1 313.8,109.3 314.0,108.1 314.2,108.2 314.4,108.4 314.6,109.7 314.7,109.7 314.9,109.8 315.1,109.7 315.3,109.5 315.5,109.1 315.7,109.7 315.9,109.7 316.1,110.5 316.3,109.7 316.5,110.7 316.6,109.9 316.8,110.1 317.0,109.6 317.2,109.8 317.4,109.7 317.6,109.2 317.8,109.3 318.0,109.0 318.2,109.7 318.3,109.7 318.5,109.2 318.7,108.8 318.9,108.8 319.1,109.0 319.3,109.7 319.5,109.9 319.7,110.7 319.9,109.8 320.0,109.4 320.2,109.5 320.4,109.2 320.6,109.5 320.8,109.2 321.0,109.6 321.2,109.4 321.4,108.9 321.6,109.3 321.8,108.7 321.9,108.6 322.1,109.1 322.3,109.3 322.5,109.0 322.7,108.8 322.9,108.8 323.1,108.2 323.3,107.7 323.5,108.4 323.6,110.1 323.8,110.9 324.0,110.4 324.2,110.5 324.4,109.4 324.6,109.5 324.8,109.9 325.0,110.5 325.2,110.5 325.4,109.0 325.5,108.6 325.7,108.0 325.9,109.2 326.1,109.1 326.3,109.8 326.5,109.0 326.7,110.1 326.9,109.5 327.1,109.9 327.2,110.3 327.4,110.9 327.6,110.4 327.8,109.6 328.0,109.9 328.2,110.6 328.4,109.5 328.6,109.2 328.8,107.9 329.0,109.6 329.1,109.5 329.3,110.2 329.5,109.7 329.7,109.9 329.9,109.6 330.1,110.0 330.3,109.7 330.5,109.4 330.7,109.3 330.8,110.1 331.0,111.4 331.2,111.0 331.4,110.0 331.6,109.8 331.8,110.4 332.0,111.1 332.2,111.4 332.4,110.3 332.5,110.4 332.7,110.1 332.9,109.8 333.1,108.7 333.3,108.0 333.5,108.6 333.7,109.5 333.9,109.7 334.1,109.7 334.3,109.4 334.4,109.6 334.6,109.8 334.8,110.1 335.0,110.0 335.2,109.9 335.4,109.5 335.6,109.9 335.8,109.5 336.0,110.4 336.1,110.1 336.3,110.4 336.5,109.4 336.7,109.2 336.9,109.2 337.1,109.5 337.3,109.4 337.5,108.9 337.7,108.9 337.9,109.2 338.0,109.9 338.2,110.4 338.4,110.2 338.6,109.2 338.8,108.6 339.0,107.9 339.2,108.2 339.4,108.7 339.6,109.7 339.7,110.0 339.9,109.3 340.1,109.0 340.3,108.5 340.5,109.0 340.7,108.9 340.9,110.5 341.1,109.8 341.3,110.4 341.5,109.3 341.6,110.2 341.8,109.3 342.0,109.9 342.2,109.3 342.4,109.4 342.6,109.0 342.8,109.4 343.0,109.9 343.2,110.7 343.3,110.8 343.5,109.5 343.7,108.7 343.9,107.5 344.1,108.4 344.3,108.9 344.5,109.1 344.7,108.8 344.9,108.6 345.0,109.0 345.2,110.2 345.4,110.3 345.6,110.7 345.8,110.7 346.0,110.4 346.2,110.2 346.4,109.0 346.6,109.3 346.8,109.8 346.9,110.8 347.1,110.6 347.3,109.9 347.5,109.0 347.7,108.4 347.9,108.7 348.1,109.7 348.3,109.2 348.5,108.3 348.6,108.3 348.8,108.6 349.0,109.7 349.2,108.5 349.4,109.6 349.6,109.8 349.8,110.4 350.0,110.4 350.2,110.1 350.4,110.3 350.5,110.7 350.7,111.1 350.9,110.6 351.1,109.5 351.3,108.9 351.5,109.1 351.7,109.5 351.9,109.3 352.1,109.7 352.2,109.7 352.4,110.1 352.6,109.8 352.8,110.1 353.0,109.4 353.2,110.1 353.4,110.0 353.6,110.7 353.8,110.3 354.0,110.6 354.1,110.7 354.3,110.5 354.5,110.0 354.7,109.0 354.9,109.0 355.1,108.9 355.3,109.5 355.5,110.4 355.7,109.8 355.8,109.9 356.0,109.4 356.2,110.6 356.4,111.1 356.6,110.1 356.8,109.2 357.0,109.0 357.2,109.4 357.4,110.5 357.6,110.4 357.7,110.6 357.9,110.0 358.1,109.8 358.3,109.8 358.5,109.3 358.7,109.4 358.9,109.1 359.1,109.5 359.3,109.0 359.4,108.5 359.6,108.6 359.8,109.3 360.0,109.5 360.2,109.2 360.4,108.7 360.6,110.0 360.8,109.4 361.0,110.6 361.1,109.4 361.3,110.2 361.5,109.4 361.7,109.6 361.9,109.8 362.1,110.3 362.3,110.3 362.5,109.5 362.7,110.1 362.9,110.8 363.0,111.2 363.2,110.2 363.4,109.7 363.6,109.7 363.8,110.4 364.0,109.8 364.2,109.8 364.4,108.9 364.6,109.9 364.7,110.7 364.9,111.0 365.1,110.7 365.3,110.5 365.5,110.4 365.7,109.8 365.9,109.6 366.1,109.9 366.3,110.3 366.5,110.4 366.6,110.3 366.8,109.6 367.0,109.2 367.2,109.0 367.4,110.6 367.6,110.5 367.8,110.4 368.0,109.8 368.2,109.9 368.3,109.4 368.5,109.2 368.7,109.0 368.9,110.2 369.1,111.2 369.3,110.8 369.5,109.8 369.7,108.4 369.9,108.6 370.1,108.7 370.2,109.1 370.4,109.9 370.6,109.6 370.8,108.9 371.0,107.7 371.2,108.7 371.4,109.9 371.6,110.1 371.8,108.9 371.9,108.4 372.1,109.5 372.3,110.7 372.5,110.7 372.7,110.5 372.9,110.2 373.1,109.9 373.3,110.4 373.5,110.3 373.6,110.0 373.8,109.0 374.0,108.3 374.2,108.8 374.4,109.5 374.6,109.6 374.8,110.1 375.0,110.5 375.2,111.2 375.4,110.3 375.5,109.0 375.7,108.7 375.9,108.6 376.1,108.4 376.3,108.5 376.5,109.0 376.7,109.8 376.9,109.4 377.1,110.2 377.2,110.4 377.4,111.3 377.6,110.3 377.8,110.5 378.0,110.0 378.2,111.1 378.4,110.8 378.6,110.6 378.8,109.6 379.0,109.9 379.1,110.7 379.3,110.9 379.5,110.1 379.7,109.8 379.9,109.5 380.1,109.4 380.3,109.0 380.5,109.1 380.7,109.4 380.8,109.3 381.0,109.8 381.2,109.6 381.4,110.4 381.6,110.5 381.8,111.0 382.0,110.9 382.2,110.8 382.4,110.2 382.6,110.2 382.7,109.5 382.9,109.4 383.1,109.5 383.3,109.9 383.5,110.2 383.7,109.4 383.9,110.0 384.1,109.6 384.3,110.2 384.4,109.6 384.6,110.3 384.8,109.9 385.0,109.5 385.2,108.3 385.4,108.3 385.6,108.2 385.8,109.3 386.0,110.0 386.1,109.6 386.3,108.8 386.5,108.3 386.7,109.8 386.9,110.5 387.1,110.5 387.3,110.2 387.5,110.3 387.7,110.9 387.9,110.9 388.0,110.1 388.2,109.2 388.4,109.0 388.6,109.2 388.8,109.3 389.0,109.0 389.2,109.0 389.4,109.5 389.6,109.5 389.7,109.4 389.9,108.7 390.1,108.9 390.3,110.3 390.5,110.7 390.7,111.4 390.9,110.7 391.1,109.6 391.3,109.1 391.5,108.6 391.6,108.9 391.8,108.3 392.0,109.4 392.2,109.3 392.4,109.5 392.6,109.2 392.8,110.2 393.0,109.7 393.2,109.2 393.3,108.7 393.5,109.3 393.7,109.7 393.9,109.7 394.1,109.6 394.3,109.9 394.5,109.4 394.7,109.4 394.9,108.9 395.1,109.2 395.2,109.1 395.4,108.3 395.6,108.9 395.8,108.9 396.0,109.8 396.2,110.2 396.4,110.5 396.6,110.0 396.8,109.7 396.9,109.7 397.1,109.3 397.3,109.7 397.5,109.7 397.7,110.6 397.9,109.5 398.1,109.8 398.3,110.4 398.5,111.3 398.6,110.2 398.8,109.3 399.0,109.1 399.2,109.8 399.4,109.7 399.6,109.9 399.8,109.6 400.0,109.8 400.2,109.3 400.4,109.5 400.5,109.9 400.7,110.0 400.9,110.2 401.1,109.4 401.3,109.4 401.5,109.0 401.7,110.0 401.9,109.8 402.1,110.4 402.2,109.2 402.4,109.5 402.6,109.4 402.8,110.3 403.0,110.0 403.2,109.0 403.4,109.1 403.6,109.0 403.8,109.8 404.0,109.2 404.1,109.7 404.3,110.5 404.5,111.4 404.7,111.7 404.9,110.1 405.1,109.6 405.3,109.2 405.5,109.8 405.7,110.3 405.8,109.5 406.0,109.7 406.2,109.1 406.4,109.6 406.6,110.2 406.8,109.6 407.0,109.9 407.2,109.2 407.4,108.8 407.6,108.1 407.7,107.7 407.9,109.0 408.1,110.0 408.3,110.7 408.5,110.5 408.7,109.1 408.9,108.9 409.1,108.6 409.3,110.1 409.4,110.6 409.6,111.8 409.8,111.6 410.0,111.3 410.2,109.9 410.4,109.6 410.6,108.7 410.8,109.6 411.0,109.0 411.2,109.5 411.3,108.7 411.5,109.0 411.7,109.3 411.9,109.4 412.1,109.7 412.3,109.1 412.5,109.9 412.7,109.6 412.9,110.5 413.0,110.8 413.2,110.0 413.4,109.1 413.6,108.1 413.8,109.7 414.0,109.9 414.2,110.1 414.4,109.3 414.6,109.8 414.7,109.1 414.9,109.8 415.1,108.2 415.3,107.9 415.5,108.3 415.7,109.7 415.9,110.2 416.1,110.3 416.3,110.7 416.5,111.6 416.6,110.4 416.8,110.3 417.0,110.0 417.2,109.4 417.4,109.4 417.6,109.1 417.8,110.4 418.0,110.7 418.2,110.5 418.3,109.7 418.5,109.2 418.7,109.8 418.9,109.9 419.1,109.7 419.3,109.7 419.5,110.1 419.7,110.6 419.9,110.5 420.1,109.9 420.2,108.6 420.4,108.9 420.6,109.1 420.8,109.7 421.0,109.2 421.2,108.7 421.4,108.7 421.6,107.7 421.8,108.2 421.9,107.9 422.1,109.9 422.3,110.3 422.5,110.6 422.7,109.8 422.9,110.0 423.1,109.7 423.3,109.6 423.5,109.1 423.7,110.5 423.8,110.6 424.0,109.9 424.2,109.2 424.4,110.3 424.6,110.7 424.8,111.9 425.0,110.8 425.2,111.6 425.4,109.8 425.5,109.7 425.7,108.7 425.9,108.5 426.1,107.7 426.3,108.8 426.5,108.7 426.7,109.8 426.9,109.5 427.1,109.7 427.2,109.5 427.4,109.4 427.6,109.4 427.8,109.4 428.0,109.5 428.2,109.3 428.4,108.7 428.6,108.3 428.8,108.8 429.0,110.0 429.1,111.0 429.3,111.1 429.5,110.9 429.7,110.3 429.9,110.6 430.1,110.3 430.3,110.4 430.5,109.8 430.7,109.7 430.8,110.4 431.0,110.0 431.2,110.0 431.4,108.9 431.6,109.8 431.8,110.6 432.0,110.8 432.2,109.1 432.4,108.6 432.6,109.0 432.7,109.5 432.9,109.1 433.1,108.8 433.3,108.5 433.5,108.9 433.7,109.1 433.9,110.3 434.1,109.5 434.3,109.0 434.4,108.6 434.6,109.3 434.8,109.1 435.0,110.1 435.2,110.0 435.4,109.5 435.6,109.6 435.8,109.5 436.0,110.2 436.2,109.5 436.3,108.6 436.5,109.0 436.7,107.8 436.9,108.2 437.1,108.7 437.3,110.4 437.5,110.7 437.7,109.6 437.9,109.5 438.0,109.6 438.2,110.1 438.4,110.0 438.6,109.5 438.8,109.8 439.0,108.6 439.2,109.7 439.4,108.6 439.6,109.3 439.7,108.4 439.9,109.4 440.1,110.0 440.3,110.5 440.5,110.4 440.7,110.3 440.9,110.1 441.1,109.0 441.3,107.7 441.5,106.7 441.6,107.5 441.8,108.5 442.0,109.5 442.2,109.6 442.4,109.6 442.6,109.2 442.8,108.4 443.0,107.7 443.2,108.7 443.3,109.7 443.5,110.0 443.7,109.3 443.9,109.1 444.1,110.4 444.3,110.3 444.5,110.2 444.7,110.0 444.9,109.4 445.1,109.0 445.2,108.5 445.4,109.0 445.6,110.2 445.8,110.7 446.0,111.0" fill="none" stroke="#9467bd" stroke-width="2.7" stroke-linejoin="round"/>
<polyline points="67.2,70.9 67.4,71.3 67.6,71.5 67.8,71.7 68.0,71.2 68.1,70.2 68.3,70.4 68.5,71.0 68.7,72.1 68.9,72.4 69.1,72.4 69.3,71.7 69.5,71.2 69.7,71.4 69.9,71.9 70.0,71.7 70.2,71.4 70.4,71.6 70.6,72.3 70.8,72.1 71.0,71.5 71.2,71.4 71.4,72.1 71.6,72.4 71.7,71.9 71.9,71.3 72.1,70.7 72.3,71.1 72.5,70.8 72.7,71.8 72.9,71.8 73.1,72.4 73.3,73.0 73.5,72.8 73.6,72.0 73.8,71.2 74.0,71.2 74.2,71.7 74.4,71.2 74.6,71.5 74.8,71.5 75.0,70.8 75.2,70.4 75.3,70.5 75.5,72.1 75.7,71.9 75.9,71.4 76.1,71.4 76.3,71.4 76.5,71.8 76.7,71.5 76.9,72.1 77.0,72.1 77.2,71.4 77.4,71.5 77.6,71.3 77.8,71.6 78.0,72.0 78.2,72.6 78.4,72.4 78.6,71.2 78.8,70.7 78.9,70.9 79.1,70.3 79.3,70.7 79.5,71.4 79.7,72.4 79.9,71.9 80.1,71.6 80.3,71.8 80.5,71.5 80.6,71.3 80.8,70.7 81.0,71.5 81.2,71.8 81.4,71.5 81.6,70.9 81.8,71.6 82.0,71.7 82.2,72.1 82.4,71.0 82.5,72.0 82.7,71.9 82.9,72.0 83.1,70.9 83.3,70.8 83.5,71.4 83.7,72.2 83.9,71.7 84.1,72.1 84.2,71.7 84.4,71.8 84.6,71.2 84.8,71.0 85.0,71.2 85.2,70.9 85.4,71.1 85.6,71.2 85.8,70.7 86.0,71.0 86.1,71.0 86.3,72.3 86.5,72.3 86.7,72.8 86.9,72.3 87.1,72.7 87.3,72.3 87.5,71.7 87.7,71.3 87.8,70.2 88.0,70.5 88.2,70.5 88.4,71.5 88.6,72.2 88.8,72.5 89.0,72.7 89.2,72.0 89.4,72.1 89.5,71.8 89.7,71.8 89.9,71.6 90.1,72.2 90.3,73.3 90.5,72.9 90.7,71.8 90.9,71.2 91.1,71.8 91.3,72.6 91.4,73.0 91.6,73.2 91.8,73.0 92.0,72.1 92.2,70.7 92.4,71.3 92.6,71.8 92.8,72.7 93.0,71.9 93.1,71.2 93.3,70.3 93.5,70.1 93.7,69.9 93.9,69.8 94.1,70.5 94.3,71.3 94.5,72.2 94.7,72.3 94.9,71.8 95.0,71.5 95.2,71.8 95.4,72.0 95.6,72.0 95.8,71.6 96.0,71.5 96.2,71.5 96.4,71.2 96.6,71.9 96.7,71.2 96.9,71.9 97.1,70.8 97.3,72.2 97.5,72.3 97.7,72.6 97.9,71.7 98.1,70.8 98.3,71.2 98.5,71.6 98.6,73.2 98.8,72.6 99.0,73.0 99.2,71.6 99.4,72.3 99.6,72.2 99.8,72.7 100.0,72.7 100.2,72.3 100.3,72.0 100.5,71.9 100.7,72.5 100.9,71.9 101.1,71.6 101.3,70.5 101.5,70.7 101.7,70.6 101.9,71.6 102.0,73.0 102.2,74.0 102.4,73.0 102.6,72.1 102.8,71.0 103.0,71.7 103.2,72.2 103.4,73.0 103.6,73.2 103.8,72.5 103.9,71.4 104.1,70.1 104.3,70.2 104.5,71.3 104.7,72.7 104.9,72.6 105.1,72.4 105.3,72.0 105.5,72.6 105.6,72.5 105.8,71.9 106.0,71.9 106.2,72.2 106.4,72.8 106.6,71.8 106.8,71.6 107.0,70.7 107.2,70.3 107.4,70.2 107.5,70.8 107.7,71.9 107.9,72.7 108.1,72.9 108.3,73.4 108.5,72.5 108.7,72.9 108.9,71.5 109.1,71.8 109.2,71.3 109.4,71.8 109.6,72.0 109.8,71.3 110.0,71.4 110.2,70.8 110.4,71.7 110.6,71.8 110.8,72.0 111.0,71.8 111.1,71.1 111.3,71.5 111.5,71.4 111.7,72.1 111.9,71.2 112.1,72.1 112.3,71.4 112.5,72.5 112.7,71.7 112.8,72.4 113.0,71.8 113.2,72.3 113.4,72.0 113.6,72.6 113.8,72.6 114.0,72.9 114.2,73.0 114.4,72.4 114.5,72.6 114.7,71.9 114.9,71.5 115.1,71.1 115.3,70.9 115.5,72.2 115.7,71.7 115.9,71.7 116.1,70.9 116.3,70.2 116.4,70.1 116.6,69.3 116.8,70.3 117.0,70.2 117.2,69.8 117.4,67.4 117.6,65.3 117.8,63.8 118.0,62.9 118.1,60.7 118.3,58.2 118.5,56.0 118.7,54.1 118.9,54.0 119.1,52.9 119.3,52.7 119.5,52.1 119.7,52.6 119.9,53.8 120.0,55.2 120.2,57.3 120.4,59.3 120.6,61.9 120.8,64.2 121.0,65.5 121.2,66.3 121.4,67.7 121.6,68.9 121.7,69.8 121.9,70.0 122.1,70.9 122.3,71.0 122.5,71.2 122.7,70.7 122.9,71.1 123.1,70.8 123.3,72.0 123.5,71.9 123.6,72.3 123.8,71.9 124.0,72.0 124.2,72.2 124.4,71.8 124.6,71.6 124.8,71.2 125.0,70.9 125.2,71.8 125.3,71.9 125.5,72.1 125.7,71.4 125.9,72.0 126.1,73.1 126.3,72.9 126.5,72.8 126.7,72.0 126.9,72.3 127.1,72.3 127.2,71.7 127.4,72.2 127.6,72.1 127.8,72.2 128.0,72.6 128.2,72.9 128.4,73.9 128.6,72.5 128.8,72.0 128.9,71.3 129.1,72.2 129.3,72.9 129.5,72.3 129.7,72.1 129.9,71.4 130.1,72.7 130.3,72.7 130.5,72.2 130.6,71.7 130.8,71.2 131.0,71.5 131.2,71.6 131.4,71.8 131.6,72.3 131.8,71.6 132.0,72.9 132.2,73.3 132.4,74.3 132.5,72.7 132.7,71.2 132.9,70.5 133.1,71.0 133.3,72.9 133.5,73.9 133.7,73.8 133.9,73.3 134.1,73.3 134.2,73.5 134.4,73.5 134.6,73.2 134.8,72.9 135.0,71.8 135.2,71.6 135.4,72.3 135.6,72.3 135.8,71.6 136.0,71.4 136.1,70.8 136.3,72.3 136.5,71.9 136.7,73.4 136.9,73.5 137.1,73.0 137.3,72.2 137.5,72.4 137.7,72.9 137.8,73.3 138.0,72.5 138.2,73.1 138.4,73.7 138.6,73.6 138.8,73.0 139.0,72.4 139.2,72.5 139.4,73.3 139.6,73.3 139.7,74.0 139.9,73.1 140.1,73.2 140.3,73.2 140.5,74.2 140.7,74.1 140.9,72.9 141.1,72.0 141.3,71.8 141.4,72.4 141.6,72.6 141.8,72.0 142.0,71.5 142.2,71.9 142.4,72.9 142.6,72.6 142.8,72.2 143.0,71.1 143.1,71.5 143.3,73.2 143.5,74.0 143.7,74.1 143.9,72.3 144.1,71.7 144.3,71.0 144.5,71.3 144.7,71.7 144.9,73.2 145.0,72.5 145.2,72.8 145.4,72.7 145.6,72.6 145.8,72.7 146.0,71.4 146.2,72.5 146.4,72.9 146.6,73.6 146.7,73.5 146.9,72.5 147.1,72.6 147.3,73.0 147.5,73.3 147.7,73.1 147.9,72.7 148.1,73.2 148.3,72.5 148.5,72.4 148.6,71.7 148.8,72.7 149.0,73.1 149.2,73.5 149.4,73.9 149.6,73.0 149.8,72.7 150.0,71.7 150.2,72.2 150.3,72.4 150.5,72.7 150.7,72.2 150.9,72.1 151.1,72.0 151.3,72.8 151.5,72.7 151.7,73.4 151.9,73.3 152.1,72.6 152.2,72.0 152.4,71.3 152.6,72.5 152.8,73.2 153.0,73.8 153.2,73.6 153.4,72.3 153.6,71.4 153.8,70.9 153.9,71.5 154.1,71.8 154.3,72.1 154.5,72.3 154.7,73.3 154.9,73.9 155.1,74.2 155.3,73.7 155.5,73.1 155.6,73.0 155.8,72.7 156.0,73.2 156.2,73.4 156.4,73.7 156.6,72.9 156.8,74.2 157.0,74.6 157.2,75.3 157.4,74.4 157.5,74.5 157.7,74.2 157.9,73.7 158.1,72.9 158.3,73.1 158.5,72.1 158.7,72.7 158.9,72.6 159.1,72.6 159.2,73.3 159.4,72.5 159.6,73.7 159.8,72.6 160.0,73.3 160.2,72.5 160.4,73.9 160.6,74.2 160.8,75.3 161.0,74.5 161.1,74.4 161.3,73.7 161.5,73.2 161.7,73.2 161.9,73.2 162.1,73.2 162.3,72.3 162.5,72.1 162.7,72.5 162.8,72.9 163.0,73.2 163.2,72.8 163.4,72.6 163.6,72.0 163.8,71.8 164.0,72.1 164.2,72.4 164.4,73.2 164.6,72.9 164.7,72.1 164.9,71.9 165.1,72.2 165.3,73.0 165.5,73.9 165.7,74.7 165.9,75.0 166.1,74.3 166.3,73.7 166.4,73.9 166.6,73.2 166.8,72.9 167.0,72.2 167.2,73.2 167.4,74.2 167.6,74.2 167.8,74.0 168.0,73.2 168.2,74.0 168.3,73.3 168.5,73.8 168.7,73.3 168.9,73.3 169.1,72.9 169.3,73.0 169.5,72.9 169.7,72.3 169.9,73.0 170.0,73.0 170.2,72.8 170.4,71.1 170.6,70.0 170.8,70.6 171.0,72.2 171.2,72.7 171.4,72.8 171.6,71.4 171.7,72.6 171.9,72.9 172.1,73.9 172.3,74.0 172.5,74.6 172.7,74.9 172.9,74.0 173.1,72.7 173.3,71.8 173.5,71.3 173.6,72.7 173.8,73.1 174.0,73.9 174.2,73.2 174.4,74.2 174.6,73.9 174.8,74.3 175.0,73.6 175.2,73.7 175.3,72.4 175.5,72.6 175.7,72.4 175.9,73.0 176.1,72.7 176.3,73.1 176.5,73.8 176.7,73.4 176.9,73.4 177.1,73.1 177.2,73.4 177.4,73.6 177.6,73.4 177.8,73.9 178.0,73.3 178.2,72.8 178.4,72.2 178.6,73.1 178.8,73.5 178.9,73.2 179.1,72.5 179.3,72.8 179.5,73.0 179.7,73.3 179.9,72.5 180.1,73.3 180.3,73.4 180.5,73.8 180.7,73.7 180.8,73.6 181.0,74.7 181.2,73.6 181.4,74.1 181.6,73.5 181.8,73.1 182.0,72.7 182.2,72.5 182.4,73.0 182.5,72.6 182.7,71.8 182.9,72.5 183.1,72.5 183.3,73.3 183.5,73.7 183.7,73.8 183.9,73.6 184.1,72.6 184.2,72.5 184.4,73.3 184.6,73.4 184.8,73.0 185.0,73.0 185.2,73.2 185.4,73.7 185.6,74.2 185.8,73.6 186.0,73.7 186.1,72.0 186.3,72.4 186.5,72.6 186.7,73.9 186.9,73.5 187.1,73.6 187.3,73.4 187.5,73.9 187.7,74.7 187.8,74.3 188.0,74.0 188.2,73.1 188.4,72.3 188.6,73.3 188.8,73.6 189.0,74.2 189.2,73.8 189.4,73.6 189.6,74.7 189.7,74.1 189.9,73.3 190.1,71.5 190.3,71.7 190.5,71.6 190.7,72.4 190.9,72.7 191.1,73.2 191.3,72.9 191.4,73.2 191.6,73.3 191.8,73.8 192.0,73.7 192.2,73.2 192.4,72.7 192.6,73.4 192.8,73.9 193.0,73.9 193.2,72.7 193.3,72.5 193.5,72.4 193.7,72.3 193.9,72.6 194.1,73.1 194.3,73.5 194.5,72.8 194.7,72.1 194.9,72.2 195.0,72.8 195.2,74.0 195.4,73.8 195.6,73.3 195.8,73.0 196.0,72.5 196.2,73.2 196.4,73.5 196.6,74.9 196.7,74.7 196.9,74.5 197.1,73.7 197.3,74.1 197.5,72.6 197.7,72.3 197.9,72.1 198.1,73.4 198.3,73.3 198.5,73.5 198.6,73.8 198.8,74.2 199.0,73.7 199.2,73.0 199.4,73.1 199.6,73.7 199.8,74.5 200.0,74.2 200.2,73.3 200.3,72.3 200.5,72.9 200.7,73.4 200.9,73.9 201.1,73.7 201.3,73.8 201.5,73.6 201.7,72.9 201.9,72.4 202.1,72.5 202.2,73.2 202.4,73.3 202.6,73.0 202.8,73.5 203.0,73.4 203.2,73.7 203.4,73.0 203.6,72.8 203.8,72.0 203.9,71.9 204.1,71.9 204.3,73.0 204.5,72.7 204.7,72.9 204.9,72.8 205.1,73.2 205.3,73.6 205.5,73.7 205.7,73.0 205.8,72.6 206.0,71.8 206.2,73.1 206.4,73.2 206.6,73.9 206.8,74.0 207.0,73.9 207.2,73.7 207.4,73.1 207.5,73.2 207.7,73.7 207.9,73.8 208.1,74.4 208.3,73.8 208.5,73.3 208.7,72.7 208.9,72.5 209.1,71.9 209.2,72.2 209.4,72.7 209.6,73.5 209.8,73.1 210.0,72.7 210.2,72.8 210.4,73.1 210.6,73.9 210.8,73.4 211.0,73.4 211.1,72.9 211.3,73.3 211.5,73.0 211.7,72.3 211.9,72.0 212.1,72.3 212.3,73.4 212.5,73.4 212.7,73.2 212.8,72.8 213.0,73.5 213.2,73.4 213.4,73.3 213.6,73.3 213.8,72.6 214.0,72.4 214.2,71.3 214.4,70.9 214.6,70.5 214.7,70.5 214.9,71.6 215.1,72.4 215.3,72.9 215.5,72.6 215.7,72.0 215.9,72.0 216.1,72.1 216.3,72.3 216.4,72.2 216.6,71.7 216.8,71.3 217.0,71.8 217.2,71.9 217.4,72.7 217.6,72.2 217.8,73.0 218.0,71.8 218.2,71.5 218.3,71.1 218.5,71.8 218.7,71.9 218.9,72.6 219.1,72.3 219.3,72.4 219.5,71.3 219.7,71.9 219.9,72.0 220.0,72.4 220.2,70.9 220.4,70.6 220.6,70.1 220.8,70.9 221.0,71.1 221.2,70.9 221.4,70.8 221.6,70.7 221.8,70.9 221.9,70.6 222.1,69.6 222.3,69.1 222.5,68.5 222.7,69.2 222.9,69.3 223.1,69.1 223.3,68.5 223.5,67.6 223.6,66.5 223.8,66.8 224.0,67.5 224.2,68.0 224.4,66.9 224.6,66.2 224.8,66.4 225.0,66.1 225.2,65.4 225.3,65.2 225.5,65.0 225.7,65.0 225.9,64.6 226.1,64.1 226.3,63.6 226.5,62.5 226.7,62.9 226.9,61.7 227.1,61.8 227.2,60.8 227.4,61.1 227.6,60.7 227.8,60.4 228.0,59.2 228.2,58.5 228.4,57.4 228.6,57.1 228.8,56.3 228.9,56.1 229.1,55.4 229.3,54.9 229.5,53.6 229.7,53.2 229.9,52.8 230.1,52.2 230.3,51.8 230.5,51.1 230.7,50.7 230.8,50.3 231.0,49.3 231.2,48.9 231.4,47.5 231.6,47.2 231.8,45.9 232.0,45.0 232.2,43.2 232.4,42.7 232.5,41.5 232.7,40.9 232.9,39.6 233.1,38.8 233.3,38.5 233.5,37.7 233.7,36.8 233.9,35.2 234.1,33.9 234.3,32.3 234.4,31.2 234.6,30.0 234.8,29.2 235.0,28.3 235.2,28.9 235.4,30.3 235.6,31.7 235.8,32.7 236.0,33.6 236.1,34.7 236.3,36.2 236.5,36.9 236.7,37.2 236.9,38.4 237.1,40.4 237.3,41.5 237.5,42.3 237.7,42.5 237.8,43.7 238.0,44.8 238.2,45.9 238.4,46.6 238.6,48.0 238.8,48.8 239.0,49.7 239.2,50.1 239.4,50.8 239.6,51.5 239.7,52.1 239.9,52.4 240.1,53.4 240.3,54.1 240.5,55.4 240.7,55.6 240.9,55.8 241.1,55.5 241.3,56.1 241.4,56.8 241.6,58.5 241.8,59.2 242.0,59.5 242.2,59.5 242.4,60.0 242.6,60.8 242.8,62.2 243.0,62.8 243.2,63.0 243.3,63.0 243.5,63.3 243.7,63.9 243.9,63.5 244.1,63.4 244.3,63.4 244.5,64.9 244.7,65.8 244.9,66.7 245.0,67.3 245.2,67.2 245.4,67.9 245.6,67.9 245.8,68.3 246.0,68.7 246.2,68.2 246.4,68.3 246.6,67.9 246.8,68.9 246.9,69.5 247.1,68.9 247.3,68.8 247.5,69.1 247.7,71.2 247.9,72.1 248.1,72.3 248.3,70.9 248.5,70.6 248.6,70.2 248.8,70.8 249.0,70.9 249.2,71.3 249.4,71.4 249.6,71.2 249.8,71.2 250.0,71.8 250.2,72.3 250.3,72.5 250.5,71.6 250.7,71.5 250.9,71.9 251.1,72.7 251.3,73.3 251.5,73.3 251.7,72.5 251.9,72.8 252.1,73.1 252.2,74.0 252.4,73.8 252.6,72.7 252.8,72.2 253.0,71.5 253.2,72.7 253.4,72.4 253.6,72.5 253.8,72.7 253.9,73.5 254.1,73.5 254.3,73.7 254.5,72.9 254.7,73.3 254.9,72.5 255.1,73.3 255.3,73.0 255.5,72.8 255.7,72.7 255.8,72.3 256.0,72.9 256.2,72.7 256.4,73.7 256.6,73.3 256.8,73.1 257.0,72.9 257.2,73.7 257.4,73.1 257.5,73.0 257.7,72.8 257.9,73.1 258.1,72.7 258.3,72.7 258.5,73.0 258.7,73.1 258.9,73.6 259.1,73.6 259.3,73.5 259.4,71.8 259.6,71.7 259.8,71.6 260.0,73.3 260.2,74.3 260.4,74.4 260.6,74.5 260.8,74.3 261.0,74.8 261.1,74.3 261.3,74.2 261.5,73.9 261.7,72.8 261.9,72.3 262.1,72.6 262.3,73.3 262.5,73.3 262.7,73.8 262.9,73.5 263.0,74.2 263.2,73.6 263.4,74.1 263.6,73.3 263.8,73.5 264.0,73.1 264.2,72.9 264.4,72.9 264.6,73.2 264.7,74.3 264.9,74.4 265.1,74.0 265.3,73.4 265.5,72.3 265.7,72.2 265.9,73.1 266.1,74.8 266.3,75.6 266.4,75.2 266.6,74.8 266.8,74.7 267.0,73.8 267.2,73.2 267.4,73.5 267.6,74.8 267.8,75.2 268.0,74.6 268.2,74.0 268.3,73.6 268.5,73.4 268.7,72.7 268.9,73.0 269.1,73.2 269.3,74.0 269.5,74.7 269.7,75.1 269.9,74.9 270.0,74.4 270.2,73.6 270.4,74.3 270.6,74.2 270.8,74.7 271.0,74.5 271.2,75.1 271.4,75.0 271.6,74.3 271.8,74.6 271.9,74.8 272.1,75.9 272.3,74.7 272.5,74.8 272.7,73.9 272.9,74.5 273.1,74.2 273.3,74.2 273.5,74.6 273.6,74.9 273.8,74.3 274.0,73.6 274.2,73.0 274.4,73.4 274.6,73.2 274.8,73.4 275.0,74.0 275.2,73.9 275.4,73.3 275.5,73.1 275.7,73.8 275.9,74.0 276.1,74.5 276.3,74.3 276.5,74.7 276.7,74.6 276.9,74.1 277.1,74.1 277.2,73.5 277.4,74.1 277.6,74.8 277.8,75.0 278.0,75.3 278.2,73.8 278.4,73.7 278.6,72.8 278.8,74.4 278.9,74.6 279.1,75.4 279.3,73.7 279.5,74.0 279.7,74.0 279.9,74.8 280.1,73.6 280.3,73.4 280.5,73.8 280.7,75.6 280.8,75.7 281.0,74.6 281.2,73.9 281.4,74.2 281.6,74.5 281.8,74.9 282.0,74.3 282.2,74.7 282.4,74.8 282.5,74.7 282.7,75.9 282.9,75.6 283.1,76.1 283.3,74.5 283.5,74.5 283.7,74.2 283.9,73.9 284.1,73.2 284.3,73.5 284.4,74.1 284.6,73.6 284.8,72.6 285.0,72.5 285.2,73.6 285.4,74.8 285.6,74.4 285.8,74.7 286.0,74.3 286.1,74.6 286.3,74.3 286.5,74.8 286.7,75.3 286.9,75.8 287.1,75.0 287.3,74.7 287.5,73.8 287.7,73.9 287.9,73.8 288.0,74.1 288.2,74.7 288.4,75.0 288.6,75.6 288.8,75.3 289.0,75.6 289.2,75.3 289.4,75.7 289.6,75.4 289.7,75.7 289.9,75.3 290.1,74.5 290.3,73.6 290.5,74.5 290.7,75.2 290.9,76.0 291.1,75.1 291.3,74.7 291.4,75.8 291.6,75.4 291.8,75.5 292.0,74.3 292.2,74.3 292.4,73.7 292.6,73.5 292.8,73.8 293.0,74.2 293.2,74.8 293.3,74.5 293.5,74.8 293.7,75.1 293.9,76.0 294.1,75.4 294.3,73.5 294.5,73.4 294.7,74.1 294.9,75.2 295.0,75.4 295.2,75.0 295.4,75.3 295.6,74.3 295.8,74.6 296.0,74.4 296.2,74.6 296.4,74.9 296.6,75.2 296.8,74.8 296.9,74.6 297.1,74.9 297.3,75.2 297.5,74.7 297.7,74.4 297.9,74.6 298.1,74.9 298.3,75.1 298.5,75.0 298.6,75.9 298.8,75.3 299.0,75.3 299.2,75.2 299.4,76.6 299.6,76.8 299.8,75.9 300.0,74.4 300.2,74.9 300.4,75.0 300.5,75.1 300.7,74.8 300.9,75.3 301.1,76.0 301.3,76.8 301.5,76.7 301.7,76.6 301.9,75.6 302.1,75.4 302.2,75.7 302.4,76.1 302.6,76.3 302.8,75.9 303.0,75.9 303.2,75.9 303.4,75.8 303.6,74.9 303.8,75.1 303.9,75.4 304.1,75.8 304.3,75.2 304.5,74.8 304.7,74.3 304.9,74.1 305.1,73.6 305.3,74.4 305.5,74.4 305.7,75.5 305.8,75.4 306.0,75.6 306.2,75.0 306.4,74.9 306.6,74.1 306.8,74.7 307.0,74.9 307.2,75.3 307.4,74.9 307.5,74.7 307.7,74.6 307.9,74.7 308.1,75.4 308.3,75.6 308.5,74.8 308.7,74.1 308.9,75.0 309.1,75.2 309.3,76.0 309.4,75.1 309.6,75.8 309.8,75.2 310.0,74.7 310.2,74.2 310.4,75.1 310.6,75.8 310.8,76.2 311.0,75.1 311.1,75.1 311.3,75.0 311.5,75.4 311.7,76.4 311.9,76.3 312.1,76.0 312.3,74.7 312.5,74.2 312.7,73.6 312.9,74.1 313.0,73.9 313.2,75.2 313.4,75.3 313.6,76.0 313.8,74.9 314.0,74.5 314.2,74.6 314.4,75.6 314.6,75.3 314.7,75.1 314.9,74.6 315.1,74.8 315.3,74.7 315.5,74.0 315.7,73.4 315.9,73.4 316.1,74.1 316.3,75.2 316.5,76.5 316.6,77.3 316.8,77.1 317.0,76.9 317.2,76.1 317.4,75.7 317.6,75.9 317.8,75.5 318.0,75.5 318.2,74.4 318.3,75.5 318.5,75.4 318.7,75.9 318.9,75.1 319.1,74.8 319.3,74.6 319.5,74.8 319.7,74.9 319.9,74.4 320.0,74.0 320.2,74.9 320.4,75.5 320.6,75.9 320.8,75.7 321.0,75.3 321.2,75.4 321.4,74.9 321.6,74.6 321.8,74.1 321.9,74.4 322.1,75.0 322.3,75.8 322.5,75.0 322.7,74.8 322.9,74.6 323.1,74.9 323.3,75.1 323.5,74.7 323.6,74.7 323.8,75.0 324.0,74.6 324.2,75.5 324.4,74.9 324.6,75.1 324.8,74.2 325.0,74.1 325.2,74.2 325.4,74.6 325.5,74.2 325.7,75.1 325.9,75.3 326.1,76.7 326.3,75.8 326.5,74.4 326.7,73.5 326.9,73.9 327.1,75.0 327.2,75.1 327.4,75.1 327.6,75.0 327.8,74.6 328.0,75.4 328.2,74.9 328.4,75.6 328.6,75.3 328.8,75.5 329.0,75.4 329.1,75.6 329.3,75.8 329.5,76.3 329.7,75.7 329.9,75.9 330.1,75.8 330.3,75.5 330.5,75.4 330.7,75.5 330.8,75.7 331.0,76.0 331.2,75.0 331.4,74.9 331.6,75.3 331.8,76.2 332.0,76.3 332.2,75.6 332.4,74.9 332.5,74.9 332.7,75.8 332.9,76.1 333.1,76.4 333.3,75.7 333.5,76.2 333.7,75.2 333.9,75.4 334.1,74.4 334.3,75.1 334.4,75.3 334.6,75.4 334.8,74.8 335.0,74.3 335.2,74.1 335.4,74.0 335.6,73.8 335.8,74.8 336.0,75.8 336.1,76.0 336.3,75.5 336.5,75.0 336.7,75.0 336.9,75.0 337.1,75.3 337.3,75.6 337.5,75.7 337.7,75.1 337.9,75.6 338.0,75.4 338.2,75.7 338.4,74.6 338.6,74.6 338.8,74.6 339.0,74.9 339.2,75.3 339.4,75.3 339.6,74.9 339.7,73.7 339.9,74.1 340.1,74.4 340.3,76.1 340.5,75.6 340.7,75.6 340.9,75.2 341.1,75.0 341.3,75.4 341.5,74.7 341.6,75.1 341.8,75.6 342.0,75.8 342.2,76.3 342.4,75.5 342.6,75.9 342.8,74.4 343.0,73.8 343.2,74.6 343.3,75.9 343.5,77.3 343.7,75.6 343.9,75.1 344.1,74.8 344.3,75.6 344.5,75.6 344.7,75.0 344.9,74.9 345.0,74.3 345.2,74.5 345.4,74.8 345.6,74.9 345.8,75.0 346.0,74.6 346.2,75.0 346.4,75.5 346.6,75.8 346.8,75.9 346.9,74.9 347.1,74.6 347.3,74.8 347.5,75.1 347.7,75.0 347.9,74.3 348.1,75.2 348.3,75.2 348.5,75.3 348.6,75.0 348.8,75.7 349.0,76.2 349.2,76.4 349.4,76.0 349.6,75.7 349.8,75.1 350.0,74.8 350.2,74.6 350.4,74.9 350.5,75.1 350.7,75.4 350.9,75.5 351.1,75.5 351.3,74.9 351.5,74.3 351.7,73.8 351.9,73.6 352.1,74.0 352.2,74.0 352.4,74.2 352.6,73.7 352.8,74.6 353.0,75.0 353.2,75.9 353.4,75.5 353.6,75.5 353.8,75.3 354.0,75.6 354.1,75.8 354.3,75.1 354.5,74.7 354.7,74.1 354.9,74.4 355.1,74.7 355.3,75.8 355.5,76.5 355.7,76.8 355.8,76.6 356.0,76.1 356.2,77.0 356.4,77.2 356.6,78.2 356.8,77.2 357.0,76.7 357.2,76.0 357.4,76.0 357.6,75.9 357.7,75.0 357.9,75.4 358.1,75.3 358.3,76.1 358.5,75.6 358.7,74.7 358.9,74.6 359.1,75.2 359.3,75.4 359.4,74.8 359.6,74.1 359.8,74.6 360.0,74.3 360.2,75.2 360.4,75.7 360.6,76.2 360.8,74.6 361.0,74.3 361.1,75.5 361.3,76.6 361.5,77.0 361.7,75.7 361.9,75.4 362.1,74.3 362.3,75.5 362.5,75.7 362.7,75.4 362.9,73.8 363.0,73.7 363.2,74.7 363.4,75.4 363.6,75.4 363.8,76.2 364.0,76.5 364.2,75.5 364.4,74.5 364.6,73.8 364.7,74.3 364.9,74.5 365.1,75.0 365.3,74.8 365.5,74.7 365.7,74.4 365.9,75.1 366.1,75.0 366.3,75.5 366.5,75.2 366.6,75.6 366.8,75.4 367.0,75.5 367.2,74.9 367.4,75.0 367.6,74.3 367.8,75.7 368.0,75.3 368.2,76.1 368.3,74.8 368.5,74.9 368.7,75.0 368.9,75.0 369.1,75.0 369.3,74.2 369.5,74.0 369.7,73.7 369.9,75.1 370.1,74.9 370.2,75.0 370.4,74.3 370.6,75.5 370.8,75.2 371.0,74.4 371.2,73.9 371.4,74.7 371.6,74.8 371.8,74.0 371.9,73.4 372.1,74.3 372.3,75.1 372.5,75.8 372.7,75.5 372.9,75.5 373.1,75.4 373.3,75.4 373.5,75.5 373.6,74.9 373.8,74.7 374.0,74.8 374.2,75.0 374.4,75.0 374.6,75.1 374.8,75.4 375.0,75.7 375.2,75.1 375.4,75.3 375.5,76.3 375.7,76.3 375.9,75.3 376.1,73.8 376.3,73.8 376.5,73.9 376.7,73.7 376.9,74.5 377.1,75.4 377.2,76.6 377.4,76.5 377.6,76.0 377.8,75.8 378.0,75.2 378.2,75.2 378.4,74.3 378.6,75.1 378.8,75.6 379.0,76.0 379.1,75.3 379.3,74.9 379.5,75.2 379.7,75.7 379.9,75.7 380.1,75.7 380.3,74.7 380.5,74.6 380.7,73.6 380.8,75.0 381.0,75.8 381.2,76.9 381.4,76.6 381.6,76.8 381.8,76.9 382.0,75.8 382.2,74.8 382.4,73.4 382.6,73.7 382.7,73.3 382.9,74.3 383.1,74.8 383.3,74.9 383.5,74.8 383.7,74.8 383.9,75.1 384.1,75.1 384.3,74.0 384.4,73.8 384.6,74.3 384.8,75.4 385.0,75.0 385.2,74.5 385.4,74.5 385.6,74.7 385.8,75.1 386.0,74.7 386.1,74.9 386.3,74.6 386.5,75.9 386.7,75.9 386.9,75.7 387.1,75.0 387.3,75.0 387.5,75.3 387.7,74.0 387.9,74.4 388.0,74.3 388.2,74.7 388.4,75.1 388.6,75.0 388.8,75.5 389.0,74.3 389.2,73.7 389.4,73.6 389.6,73.5 389.7,74.4 389.9,75.0 390.1,75.4 390.3,74.5 390.5,73.9 390.7,73.7 390.9,74.5 391.1,74.8 391.3,75.0 391.5,75.0 391.6,75.3 391.8,76.3 392.0,76.0 392.2,75.9 392.4,75.0 392.6,74.8 392.8,75.0 393.0,75.3 393.2,75.8 393.3,75.4 393.5,75.1 393.7,74.6 393.9,75.2 394.1,75.7 394.3,76.2 394.5,75.9 394.7,76.0 394.9,75.8 395.1,75.6 395.2,74.9 395.4,75.3 395.6,74.9 395.8,76.1 396.0,75.6 396.2,76.0 396.4,75.1 396.6,75.1 396.8,75.3 396.9,75.0 397.1,74.9 397.3,74.5 397.5,74.2 397.7,74.9 397.9,75.1 398.1,75.8 398.3,74.7 398.5,74.5 398.6,73.7 398.8,74.3 399.0,74.7 399.2,75.1 399.4,75.0 399.6,74.8 399.8,75.1 400.0,75.9 400.2,74.6 400.4,74.2 400.5,73.1 400.7,73.4 400.9,73.3 401.1,72.8 401.3,72.1 401.5,71.5 401.7,71.7 401.9,73.3 402.1,73.2 402.2,72.5 402.4,70.6 402.6,70.4 402.8,70.4 403.0,70.8 403.2,69.7 403.4,68.7 403.6,66.4 403.8,65.1 404.0,61.7 404.1,57.0 404.3,51.9 404.5,46.8 404.7,42.1 404.9,36.8 405.1,32.3 405.3,29.7 405.5,27.9 405.7,28.8 405.8,30.3 406.0,33.2 406.2,37.1 406.4,42.9 406.6,49.3 406.8,55.4 407.0,59.9 407.2,64.0 407.4,65.4 407.6,67.8 407.7,69.0 407.9,71.0 408.1,70.6 408.3,70.9 408.5,71.6 408.7,72.2 408.9,72.7 409.1,71.9 409.3,72.4 409.4,73.1 409.6,73.6 409.8,73.6 410.0,72.9 410.2,73.8 410.4,73.7 410.6,74.3 410.8,74.5 411.0,74.7 411.2,74.2 411.3,73.1 411.5,73.1 411.7,74.6 411.9,75.1 412.1,75.2 412.3,74.9 412.5,75.4 412.7,75.2 412.9,75.5 413.0,75.3 413.2,75.9 413.4,74.2 413.6,74.0 413.8,74.4 414.0,75.3 414.2,76.3 414.4,75.7 414.6,75.4 414.7,74.7 414.9,74.8 415.1,75.6 415.3,75.3 415.5,75.7 415.7,75.1 415.9,75.3 416.1,74.2 416.3,74.1 416.5,74.2 416.6,74.4 416.8,74.6 417.0,74.4 417.2,74.8 417.4,75.4 417.6,75.8 417.8,76.1 418.0,75.9 418.2,75.3 418.3,74.2 418.5,74.0 418.7,73.9 418.9,73.8 419.1,74.6 419.3,74.2 419.5,75.1 419.7,74.7 419.9,75.4 420.1,76.4 420.2,76.1 420.4,75.9 420.6,75.5 420.8,75.2 421.0,74.9 421.2,73.6 421.4,73.7 421.6,74.3 421.8,74.9 421.9,74.5 422.1,74.6 422.3,75.3 422.5,75.6 422.7,75.4 422.9,74.6 423.1,75.4 423.3,75.1 423.5,74.3 423.7,73.2 423.8,73.9 424.0,74.6 424.2,73.9 424.4,72.4 424.6,71.4 424.8,71.5 425.0,72.6 425.2,73.1 425.4,74.5 425.5,74.6 425.7,74.5 425.9,74.1 426.1,73.4 426.3,72.7 426.5,72.2 426.7,73.0 426.9,73.0 427.1,73.4 427.2,73.5 427.4,74.0 427.6,73.8 427.8,73.4 428.0,73.8 428.2,74.2 428.4,74.1 428.6,74.6 428.8,74.8 429.0,75.6 429.1,74.4 429.3,73.3 429.5,73.3 429.7,74.0 429.9,74.6 430.1,74.0 430.3,73.7 430.5,73.9 430.7,74.0 430.8,74.3 431.0,74.7 431.2,74.5 431.4,75.3 431.6,74.2 431.8,75.8 432.0,74.7 432.2,75.9 432.4,75.3 432.6,75.9 432.7,75.9 432.9,75.5 433.1,74.7 433.3,74.5 433.5,75.1 433.7,75.6 433.9,74.7 434.1,74.0 434.3,74.3 434.4,75.2 434.6,76.0 434.8,76.1 435.0,76.2 435.2,74.8 435.4,75.5 435.6,75.3 435.8,76.6 436.0,75.5 436.2,75.4 436.3,75.0 436.5,75.9 436.7,76.6 436.9,76.9 437.1,77.0 437.3,76.2 437.5,76.2 437.7,75.1 437.9,75.8 438.0,75.6 438.2,76.2 438.4,76.4 438.6,75.5 438.8,76.0 439.0,75.4 439.2,76.2 439.4,74.4 439.6,74.1 439.7,73.2 439.9,74.1 440.1,74.2 440.3,76.0 440.5,75.8 440.7,76.4 440.9,76.1 441.1,77.1 441.3,76.6 441.5,76.4 441.6,74.8 441.8,74.4 442.0,74.0 442.2,74.6 442.4,74.6 442.6,74.5 442.8,74.8 443.0,75.2 443.2,75.3 443.3,74.6 443.5,75.4 443.7,76.3 443.9,76.7 444.1,76.1 444.3,76.0 444.5,76.2 444.7,75.9 444.9,74.6 445.1,74.1 445.2,75.4 445.4,75.7 445.6,77.2 445.8,76.3 446.0,76.5" fill="none" stroke="#8c564b" stroke-width="2.7" stroke-linejoin="round"/>
<rect x="67.2" y="16.5" width="378.80" height="265.50" fill="none" stroke="#000" stroke-width="1.5"/>
<path d="M67.20 282.0v4.7M82.35 282.0v2.6M97.50 282.0v2.6M112.66 282.0v2.6M127.81 282.0v2.6M142.96 282.0v4.7M158.11 282.0v2.6M173.26 282.0v2.6M188.42 282.0v2.6M203.57 282.0v2.6M218.72 282.0v4.7M233.87 282.0v2.6M249.02 282.0v2.6M264.18 282.0v2.6M279.33 282.0v2.6M294.48 282.0v4.7M309.63 282.0v2.6M324.78 282.0v2.6M339.94 282.0v2.6M355.09 282.0v2.6M370.24 282.0v4.7M385.39 282.0v2.6M400.54 282.0v2.6M415.70 282.0v2.6M430.85 282.0v2.6M446.00 282.0v4.7M67.2 282.00h-4.7M67.2 248.00h-4.7M67.2 214.00h-4.7M67.2 180.00h-4.7M67.2 146.00h-4.7M67.2 112.00h-4.7M67.2 78.00h-4.7M67.2 44.00h-4.7M67.2 276.90h-2.6M67.2 271.80h-2.6M67.2 268.20h-2.6M67.2 266.40h-2.6M67.2 259.80h-2.6M67.2 255.10h-2.6M67.2 253.30h-2.6M67.2 251.10h-2.6M67.2 242.90h-2.6M67.2 237.80h-2.6M67.2 234.20h-2.6M67.2 232.40h-2.6M67.2 225.80h-2.6M67.2 221.10h-2.6M67.2 219.30h-2.6M67.2 217.10h-2.6M67.2 208.90h-2.6M67.2 203.80h-2.6M67.2 200.20h-2.6M67.2 198.40h-2.6M67.2 191.80h-2.6M67.2 187.10h-2.6M67.2 185.30h-2.6M67.2 183.10h-2.6M67.2 174.90h-2.6M67.2 169.80h-2.6M67.2 166.20h-2.6M67.2 164.40h-2.6M67.2 157.80h-2.6M67.2 153.10h-2.6M67.2 151.30h-2.6M67.2 149.10h-2.6M67.2 140.90h-2.6M67.2 135.80h-2.6M67.2 132.20h-2.6M67.2 130.40h-2.6M67.2 123.80h-2.6M67.2 119.10h-2.6M67.2 117.30h-2.6M67.2 115.10h-2.6M67.2 106.90h-2.6M67.2 101.80h-2.6M67.2 98.20h-2.6M67.2 96.40h-2.6M67.2 89.80h-2.6M67.2 85.10h-2.6M67.2 83.30h-2.6M67.2 81.10h-2.6M67.2 72.90h-2.6M67.2 67.80h-2.6M67.2 64.20h-2.6M67.2 62.40h-2.6M67.2 55.80h-2.6M67.2 51.10h-2.6M67.2 49.30h-2.6M67.2 47.10h-2.6M67.2 38.90h-2.6M67.2 33.80h-2.6M67.2 30.20h-2.6M67.2 28.40h-2.6M67.2 21.80h-2.6M67.2 17.10h-2.6" stroke="#000" stroke-width="1.35" fill="none"/>
<text transform="translate(67.50 302.80) scale(1 0.96)" text-anchor="middle">25</text>
<text transform="translate(143.26 302.80) scale(1 0.96)" text-anchor="middle">30</text>
<text transform="translate(219.02 302.80) scale(1 0.96)" text-anchor="middle">35</text>
<text transform="translate(294.78 302.80) scale(1 0.96)" text-anchor="middle">40</text>
<text transform="translate(370.54 302.80) scale(1 0.96)" text-anchor="middle">45</text>
<text transform="translate(446.30 302.80) scale(1 0.96)" text-anchor="middle">50</text>
<text transform="translate(256.60 320.70) scale(1 0.96)" text-anchor="middle">2&#920; [&#176;]</text>
<text transform="translate(48,149.3) rotate(-90) scale(1 0.96)" text-anchor="middle">Intensity (a.u.)</text>
<text transform="translate(450.20 78.40) scale(1 0.96)">poly-Si/AlScN</text>
<text transform="translate(450.20 112.30) scale(1 0.96)">Si/AlScN</text>
<text transform="translate(450.20 146.20) scale(1 0.96)">SiO<tspan font-size="9.0" dy="2.5">2</tspan><tspan dy="-2.5">/AlScN</tspan></text>
<text transform="translate(450.20 180.10) scale(1 0.96)">poly-Si/AlN</text>
<text transform="translate(450.20 214.00) scale(1 0.96)">Si/AlN</text>
<text transform="translate(450.20 247.90) scale(1 0.96)">SiO<tspan font-size="9.0" dy="2.5">2</tspan><tspan dy="-2.5">/AlN</tspan></text>
<text transform="translate(103.60 37.60) scale(1 0.96)">poly-Si 111</text>
<path d="M120.2 51L127.6 44.8" stroke="#000" stroke-width="1.4"/>
<text transform="translate(144.00 88.00) scale(1 0.96)">Si 100</text>
<path d="M181 95L186.8 98.6" stroke="#000" stroke-width="1.4"/>
<text transform="translate(255.80 30.40) scale(1 0.96)">AlN or AlScN 0002</text>
<path d="M236 27.3H250.5" stroke="#000" stroke-width="1.4"/>
<text transform="translate(317.00 49.40) scale(1 0.96)">poly-Si 220</text>
<path d="M382.4 35.5L402.8 28.3" stroke="#000" stroke-width="1.4"/>
<ellipse cx="190.47" cy="360.59" rx="5.4" ry="5.15" fill="#1f77b4"/>
<ellipse cx="279.45" cy="384.37" rx="5.4" ry="5.15" fill="#1f77b4"/>
<ellipse cx="368.42" cy="383.86" rx="5.4" ry="5.15" fill="#1f77b4"/>
<ellipse cx="190.47" cy="470.94" rx="5.4" ry="5.15" fill="#ff7f0e"/>
<ellipse cx="279.45" cy="480.20" rx="5.4" ry="5.15" fill="#ff7f0e"/>
<ellipse cx="368.42" cy="464.56" rx="5.4" ry="5.15" fill="#ff7f0e"/>
<path d="M190.47 350.3V504.7M279.45 350.3V504.7M368.42 350.3V504.7M101.5 453.23H457.4M101.5 401.77H457.4" stroke="#b0b0b0" stroke-width="1.4" fill="none"/>
<rect x="364.8" y="406.4" width="85.5" height="42.3" rx="2.8" fill="#fff" fill-opacity="0.8" stroke="#d0d0d0" stroke-width="1.1"/>
<ellipse cx="383.2" cy="418" rx="5.4" ry="5.15" fill="#1f77b4"/>
<ellipse cx="383.2" cy="437.4" rx="5.4" ry="5.15" fill="#ff7f0e"/>
<text transform="translate(406.50 421.80) scale(1 0.96)">AlScN</text>
<text transform="translate(406.50 441.20) scale(1 0.96)">AlN</text>
<rect x="101.5" y="350.3" width="355.90" height="154.40" fill="none" stroke="#000" stroke-width="1.2"/>
<path d="M100.9 504.8H458.0" stroke="#000" stroke-width="1.6"/>
<path d="M101.50 504.7v4.7M190.47 504.7v4.7M279.45 504.7v4.7M368.42 504.7v4.7M457.40 504.7v4.7M101.5 504.70h-4.7M101.5 453.23h-4.7M101.5 401.77h-4.7M101.5 350.30h-4.7" stroke="#000" stroke-width="1.35" fill="none"/>
<text transform="translate(91.60 509.30) scale(1 0.96)" text-anchor="end">1.0</text>
<text transform="translate(91.60 457.83) scale(1 0.96)" text-anchor="end">1.5</text>
<text transform="translate(91.60 406.37) scale(1 0.96)" text-anchor="end">2.0</text>
<text transform="translate(91.60 354.90) scale(1 0.96)" text-anchor="end">2.5</text>
<text transform="translate(189.88 525.20) scale(1 0.96)" text-anchor="middle">SiO<tspan font-size="9.0" dy="2.5">2</tspan></text>
<text transform="translate(279.45 525.20) scale(1 0.96)" text-anchor="middle">Si</text>
<text transform="translate(368.42 525.20) scale(1 0.96)" text-anchor="middle">poly-Si</text>
<text transform="translate(279.50 543.80) scale(1 0.96)" text-anchor="middle">Substrate</text>
<text transform="translate(61,427.7) rotate(-90) scale(1 0.96)" text-anchor="middle">FWHM<tspan font-size="9.0" dy="1.5">0002</tspan><tspan dy="-1.5"> [&#176;]</tspan></text>
</svg></body></html>
